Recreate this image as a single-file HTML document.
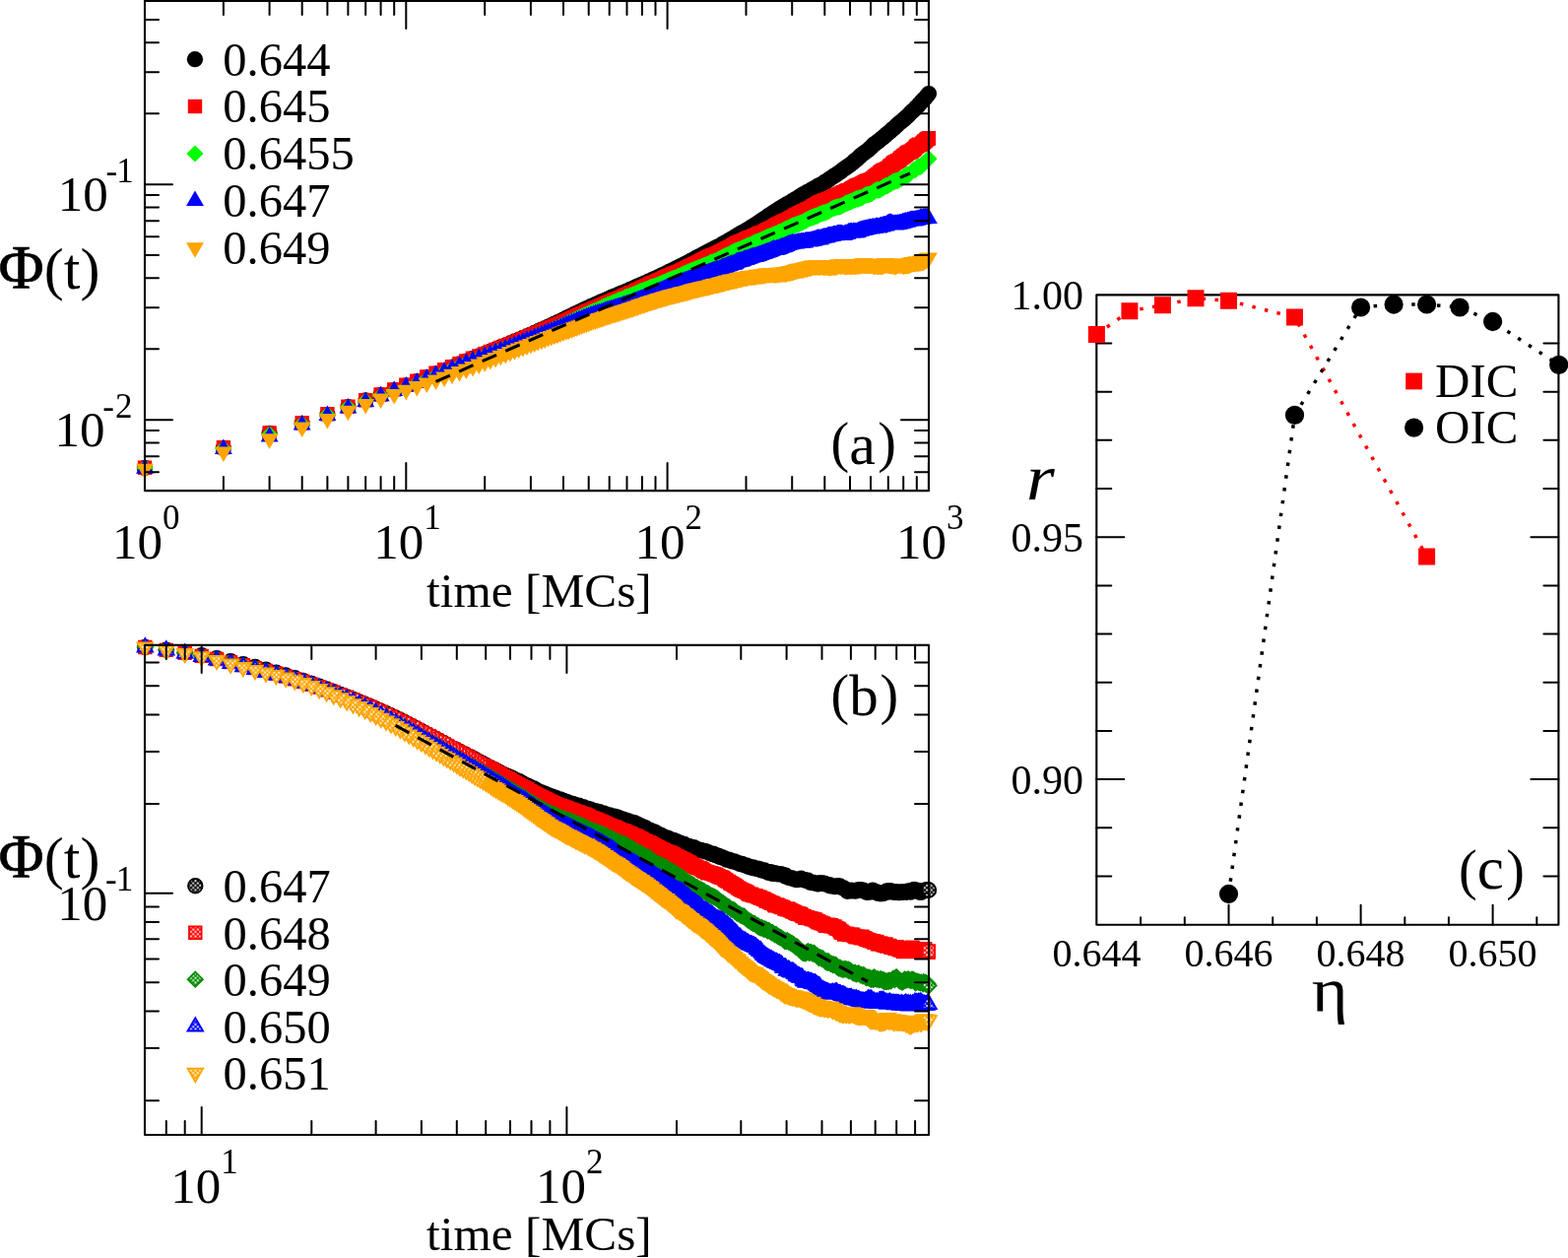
<!DOCTYPE html><html><head><meta charset="utf-8"><title>figure</title><style>html,body{margin:0;padding:0;background:#fff;overflow:hidden}svg{display:block}</style></head><body><svg width="1592" height="1277" viewBox="0 0 1592 1277" font-family="'Liberation Serif', 'Times New Roman', serif">
<rect width="100%" height="100%" fill="#fff"/>
<defs>
<pattern id="pt0" width="5" height="5" patternUnits="userSpaceOnUse"><rect width="2.5" height="2.5" fill="#000000"/><rect x="2.5" y="2.5" width="2.5" height="2.5" fill="#000000"/></pattern>
<pattern id="po0" width="4.7" height="4.7" patternUnits="userSpaceOnUse"><rect width="4.7" height="4.7" fill="#000000"/><rect x="0.2" y="0.2" width="1.9" height="1.9" fill="#fff"/><rect x="2.55" y="2.55" width="1.9" height="1.9" fill="#fff"/></pattern>
<pattern id="pt1" width="5" height="5" patternUnits="userSpaceOnUse"><rect width="2.5" height="2.5" fill="#ff0000"/><rect x="2.5" y="2.5" width="2.5" height="2.5" fill="#ff0000"/></pattern>
<pattern id="po1" width="4.7" height="4.7" patternUnits="userSpaceOnUse"><rect width="4.7" height="4.7" fill="#ff0000"/><rect x="0.2" y="0.2" width="1.9" height="1.9" fill="#fff"/><rect x="2.55" y="2.55" width="1.9" height="1.9" fill="#fff"/></pattern>
<pattern id="pt2" width="5" height="5" patternUnits="userSpaceOnUse"><rect width="2.5" height="2.5" fill="#008b00"/><rect x="2.5" y="2.5" width="2.5" height="2.5" fill="#008b00"/></pattern>
<pattern id="po2" width="4.7" height="4.7" patternUnits="userSpaceOnUse"><rect width="4.7" height="4.7" fill="#008b00"/><rect x="0.2" y="0.2" width="1.9" height="1.9" fill="#fff"/><rect x="2.55" y="2.55" width="1.9" height="1.9" fill="#fff"/></pattern>
<pattern id="pt3" width="5" height="5" patternUnits="userSpaceOnUse"><rect width="2.5" height="2.5" fill="#0000ff"/><rect x="2.5" y="2.5" width="2.5" height="2.5" fill="#0000ff"/></pattern>
<pattern id="po3" width="4.7" height="4.7" patternUnits="userSpaceOnUse"><rect width="4.7" height="4.7" fill="#0000ff"/><rect x="0.2" y="0.2" width="1.9" height="1.9" fill="#fff"/><rect x="2.55" y="2.55" width="1.9" height="1.9" fill="#fff"/></pattern>
<pattern id="pt4" width="5" height="5" patternUnits="userSpaceOnUse"><rect width="2.5" height="2.5" fill="#ffa500"/><rect x="2.5" y="2.5" width="2.5" height="2.5" fill="#ffa500"/></pattern>
<pattern id="po4" width="4.7" height="4.7" patternUnits="userSpaceOnUse"><rect width="4.7" height="4.7" fill="#ffa500"/><rect x="0.2" y="0.2" width="1.9" height="1.9" fill="#fff"/><rect x="2.55" y="2.55" width="1.9" height="1.9" fill="#fff"/></pattern>
<clipPath id="clipEnd"><rect x="937.5" y="640" width="30" height="520"/></clipPath>
</defs>
<path d="M138.8 475.0a8.15 8.15 0 1 0 16.30 0a8.15 8.15 0 1 0 -16.30 0zM218.7 455.0a8.15 8.15 0 1 0 16.30 0a8.15 8.15 0 1 0 -16.30 0zM265.4 440.0a8.15 8.15 0 1 0 16.30 0a8.15 8.15 0 1 0 -16.30 0zM298.6 430.0a8.15 8.15 0 1 0 16.30 0a8.15 8.15 0 1 0 -16.30 0zM324.3 420.9a8.15 8.15 0 1 0 16.30 0a8.15 8.15 0 1 0 -16.30 0zM345.3 413.1a8.15 8.15 0 1 0 16.30 0a8.15 8.15 0 1 0 -16.30 0zM363.1 406.5a8.15 8.15 0 1 0 16.30 0a8.15 8.15 0 1 0 -16.30 0zM378.4 400.9a8.15 8.15 0 1 0 16.30 0a8.15 8.15 0 1 0 -16.30 0zM392.0 396.0a8.15 8.15 0 1 0 16.30 0a8.15 8.15 0 1 0 -16.30 0zM404.2 391.4a8.15 8.15 0 1 0 16.30 0a8.15 8.15 0 1 0 -16.30 0zM415.1 387.2a8.15 8.15 0 1 0 16.30 0a8.15 8.15 0 1 0 -16.30 0zM425.2 383.2a8.15 8.15 0 1 0 16.30 0a8.15 8.15 0 1 0 -16.30 0zM434.4 379.4a8.15 8.15 0 1 0 16.30 0a8.15 8.15 0 1 0 -16.30 0zM442.9 375.9a8.15 8.15 0 1 0 16.30 0a8.15 8.15 0 1 0 -16.30 0zM450.9 372.6a8.15 8.15 0 1 0 16.30 0a8.15 8.15 0 1 0 -16.30 0zM458.3 369.5a8.15 8.15 0 1 0 16.30 0a8.15 8.15 0 1 0 -16.30 0zM465.3 366.6a8.15 8.15 0 1 0 16.30 0a8.15 8.15 0 1 0 -16.30 0zM471.9 363.9a8.15 8.15 0 1 0 16.30 0a8.15 8.15 0 1 0 -16.30 0zM478.1 361.4a8.15 8.15 0 1 0 16.30 0a8.15 8.15 0 1 0 -16.30 0zM484.0 359.1a8.15 8.15 0 1 0 16.30 0a8.15 8.15 0 1 0 -16.30 0zM489.6 356.8a8.15 8.15 0 1 0 16.30 0a8.15 8.15 0 1 0 -16.30 0zM495.0 354.6a8.15 8.15 0 1 0 16.30 0a8.15 8.15 0 1 0 -16.30 0zM500.1 352.5a8.15 8.15 0 1 0 16.30 0a8.15 8.15 0 1 0 -16.30 0zM505.0 350.6a8.15 8.15 0 1 0 16.30 0a8.15 8.15 0 1 0 -16.30 0zM509.7 348.6a8.15 8.15 0 1 0 16.30 0a8.15 8.15 0 1 0 -16.30 0zM514.2 346.6a8.15 8.15 0 1 0 16.30 0a8.15 8.15 0 1 0 -16.30 0zM518.6 344.8a8.15 8.15 0 1 0 16.30 0a8.15 8.15 0 1 0 -16.30 0zM522.8 343.0a8.15 8.15 0 1 0 16.30 0a8.15 8.15 0 1 0 -16.30 0zM526.8 341.3a8.15 8.15 0 1 0 16.30 0a8.15 8.15 0 1 0 -16.30 0zM530.7 339.6a8.15 8.15 0 1 0 16.30 0a8.15 8.15 0 1 0 -16.30 0zM534.5 337.9a8.15 8.15 0 1 0 16.30 0a8.15 8.15 0 1 0 -16.30 0zM538.2 336.2a8.15 8.15 0 1 0 16.30 0a8.15 8.15 0 1 0 -16.30 0zM541.7 334.6a8.15 8.15 0 1 0 16.30 0a8.15 8.15 0 1 0 -16.30 0zM545.2 333.1a8.15 8.15 0 1 0 16.30 0a8.15 8.15 0 1 0 -16.30 0zM548.5 331.6a8.15 8.15 0 1 0 16.30 0a8.15 8.15 0 1 0 -16.30 0zM551.7 330.1a8.15 8.15 0 1 0 16.30 0a8.15 8.15 0 1 0 -16.30 0zM554.9 328.6a8.15 8.15 0 1 0 16.30 0a8.15 8.15 0 1 0 -16.30 0zM558.0 327.2a8.15 8.15 0 1 0 16.30 0a8.15 8.15 0 1 0 -16.30 0zM561.0 325.8a8.15 8.15 0 1 0 16.30 0a8.15 8.15 0 1 0 -16.30 0zM563.9 324.3a8.15 8.15 0 1 0 16.30 0a8.15 8.15 0 1 0 -16.30 0zM566.7 323.0a8.15 8.15 0 1 0 16.30 0a8.15 8.15 0 1 0 -16.30 0zM569.5 321.6a8.15 8.15 0 1 0 16.30 0a8.15 8.15 0 1 0 -16.30 0zM572.2 320.3a8.15 8.15 0 1 0 16.30 0a8.15 8.15 0 1 0 -16.30 0zM574.9 319.0a8.15 8.15 0 1 0 16.30 0a8.15 8.15 0 1 0 -16.30 0zM577.4 317.8a8.15 8.15 0 1 0 16.30 0a8.15 8.15 0 1 0 -16.30 0zM580.0 316.6a8.15 8.15 0 1 0 16.30 0a8.15 8.15 0 1 0 -16.30 0zM582.5 315.4a8.15 8.15 0 1 0 16.30 0a8.15 8.15 0 1 0 -16.30 0zM584.9 314.2a8.15 8.15 0 1 0 16.30 0a8.15 8.15 0 1 0 -16.30 0zM587.3 313.2a8.15 8.15 0 1 0 16.30 0a8.15 8.15 0 1 0 -16.30 0zM589.6 312.1a8.15 8.15 0 1 0 16.30 0a8.15 8.15 0 1 0 -16.30 0zM591.9 311.0a8.15 8.15 0 1 0 16.30 0a8.15 8.15 0 1 0 -16.30 0zM594.1 310.1a8.15 8.15 0 1 0 16.30 0a8.15 8.15 0 1 0 -16.30 0zM596.3 309.1a8.15 8.15 0 1 0 16.30 0a8.15 8.15 0 1 0 -16.30 0zM598.5 308.1a8.15 8.15 0 1 0 16.30 0a8.15 8.15 0 1 0 -16.30 0zM600.6 307.2a8.15 8.15 0 1 0 16.30 0a8.15 8.15 0 1 0 -16.30 0zM602.6 306.2a8.15 8.15 0 1 0 16.30 0a8.15 8.15 0 1 0 -16.30 0zM604.7 305.4a8.15 8.15 0 1 0 16.30 0a8.15 8.15 0 1 0 -16.30 0zM606.7 304.6a8.15 8.15 0 1 0 16.30 0a8.15 8.15 0 1 0 -16.30 0zM608.7 303.7a8.15 8.15 0 1 0 16.30 0a8.15 8.15 0 1 0 -16.30 0zM610.6 302.8a8.15 8.15 0 1 0 16.30 0a8.15 8.15 0 1 0 -16.30 0zM612.5 302.0a8.15 8.15 0 1 0 16.30 0a8.15 8.15 0 1 0 -16.30 0zM614.4 301.2a8.15 8.15 0 1 0 16.30 0a8.15 8.15 0 1 0 -16.30 0zM616.2 300.5a8.15 8.15 0 1 0 16.30 0a8.15 8.15 0 1 0 -16.30 0zM618.0 299.8a8.15 8.15 0 1 0 16.30 0a8.15 8.15 0 1 0 -16.30 0zM619.8 299.0a8.15 8.15 0 1 0 16.30 0a8.15 8.15 0 1 0 -16.30 0zM621.6 298.2a8.15 8.15 0 1 0 16.30 0a8.15 8.15 0 1 0 -16.30 0zM623.3 297.5a8.15 8.15 0 1 0 16.30 0a8.15 8.15 0 1 0 -16.30 0zM625.0 296.8a8.15 8.15 0 1 0 16.30 0a8.15 8.15 0 1 0 -16.30 0zM626.7 296.1a8.15 8.15 0 1 0 16.30 0a8.15 8.15 0 1 0 -16.30 0zM628.4 295.4a8.15 8.15 0 1 0 16.30 0a8.15 8.15 0 1 0 -16.30 0zM630.0 294.8a8.15 8.15 0 1 0 16.30 0a8.15 8.15 0 1 0 -16.30 0zM631.6 293.9a8.15 8.15 0 1 0 16.30 0a8.15 8.15 0 1 0 -16.30 0zM633.2 293.3a8.15 8.15 0 1 0 16.30 0a8.15 8.15 0 1 0 -16.30 0zM634.8 292.7a8.15 8.15 0 1 0 16.30 0a8.15 8.15 0 1 0 -16.30 0zM636.3 291.9a8.15 8.15 0 1 0 16.30 0a8.15 8.15 0 1 0 -16.30 0zM637.8 291.2a8.15 8.15 0 1 0 16.30 0a8.15 8.15 0 1 0 -16.30 0zM639.3 290.6a8.15 8.15 0 1 0 16.30 0a8.15 8.15 0 1 0 -16.30 0zM640.8 289.9a8.15 8.15 0 1 0 16.30 0a8.15 8.15 0 1 0 -16.30 0zM642.3 289.3a8.15 8.15 0 1 0 16.30 0a8.15 8.15 0 1 0 -16.30 0zM643.7 288.6a8.15 8.15 0 1 0 16.30 0a8.15 8.15 0 1 0 -16.30 0zM645.2 288.1a8.15 8.15 0 1 0 16.30 0a8.15 8.15 0 1 0 -16.30 0zM646.6 287.5a8.15 8.15 0 1 0 16.30 0a8.15 8.15 0 1 0 -16.30 0zM648.0 286.8a8.15 8.15 0 1 0 16.30 0a8.15 8.15 0 1 0 -16.30 0zM649.4 286.1a8.15 8.15 0 1 0 16.30 0a8.15 8.15 0 1 0 -16.30 0zM650.7 285.5a8.15 8.15 0 1 0 16.30 0a8.15 8.15 0 1 0 -16.30 0zM652.1 285.1a8.15 8.15 0 1 0 16.30 0a8.15 8.15 0 1 0 -16.30 0zM653.4 284.4a8.15 8.15 0 1 0 16.30 0a8.15 8.15 0 1 0 -16.30 0zM654.7 283.7a8.15 8.15 0 1 0 16.30 0a8.15 8.15 0 1 0 -16.30 0zM656.0 283.1a8.15 8.15 0 1 0 16.30 0a8.15 8.15 0 1 0 -16.30 0zM657.3 282.6a8.15 8.15 0 1 0 16.30 0a8.15 8.15 0 1 0 -16.30 0zM658.6 282.1a8.15 8.15 0 1 0 16.30 0a8.15 8.15 0 1 0 -16.30 0zM659.8 281.5a8.15 8.15 0 1 0 16.30 0a8.15 8.15 0 1 0 -16.30 0zM661.1 280.9a8.15 8.15 0 1 0 16.30 0a8.15 8.15 0 1 0 -16.30 0zM662.3 280.3a8.15 8.15 0 1 0 16.30 0a8.15 8.15 0 1 0 -16.30 0zM663.5 279.7a8.15 8.15 0 1 0 16.30 0a8.15 8.15 0 1 0 -16.30 0zM664.7 279.1a8.15 8.15 0 1 0 16.30 0a8.15 8.15 0 1 0 -16.30 0zM665.9 278.6a8.15 8.15 0 1 0 16.30 0a8.15 8.15 0 1 0 -16.30 0zM667.1 278.1a8.15 8.15 0 1 0 16.30 0a8.15 8.15 0 1 0 -16.30 0zM668.3 277.5a8.15 8.15 0 1 0 16.30 0a8.15 8.15 0 1 0 -16.30 0zM669.5 276.9a8.15 8.15 0 1 0 16.30 0a8.15 8.15 0 1 0 -16.30 0zM670.6 276.2a8.15 8.15 0 1 0 16.30 0a8.15 8.15 0 1 0 -16.30 0zM671.7 275.7a8.15 8.15 0 1 0 16.30 0a8.15 8.15 0 1 0 -16.30 0zM672.9 275.2a8.15 8.15 0 1 0 16.30 0a8.15 8.15 0 1 0 -16.30 0zM674.0 274.6a8.15 8.15 0 1 0 16.30 0a8.15 8.15 0 1 0 -16.30 0zM675.1 274.2a8.15 8.15 0 1 0 16.30 0a8.15 8.15 0 1 0 -16.30 0zM676.2 273.7a8.15 8.15 0 1 0 16.30 0a8.15 8.15 0 1 0 -16.30 0zM677.2 273.0a8.15 8.15 0 1 0 16.30 0a8.15 8.15 0 1 0 -16.30 0zM678.3 272.6a8.15 8.15 0 1 0 16.30 0a8.15 8.15 0 1 0 -16.30 0zM679.4 272.0a8.15 8.15 0 1 0 16.30 0a8.15 8.15 0 1 0 -16.30 0zM680.4 271.5a8.15 8.15 0 1 0 16.30 0a8.15 8.15 0 1 0 -16.30 0zM681.5 270.9a8.15 8.15 0 1 0 16.30 0a8.15 8.15 0 1 0 -16.30 0zM682.5 270.5a8.15 8.15 0 1 0 16.30 0a8.15 8.15 0 1 0 -16.30 0zM683.5 269.9a8.15 8.15 0 1 0 16.30 0a8.15 8.15 0 1 0 -16.30 0zM684.5 269.5a8.15 8.15 0 1 0 16.30 0a8.15 8.15 0 1 0 -16.30 0zM685.6 268.9a8.15 8.15 0 1 0 16.30 0a8.15 8.15 0 1 0 -16.30 0zM686.6 268.3a8.15 8.15 0 1 0 16.30 0a8.15 8.15 0 1 0 -16.30 0zM687.5 268.0a8.15 8.15 0 1 0 16.30 0a8.15 8.15 0 1 0 -16.30 0zM688.5 267.4a8.15 8.15 0 1 0 16.30 0a8.15 8.15 0 1 0 -16.30 0zM689.5 267.0a8.15 8.15 0 1 0 16.30 0a8.15 8.15 0 1 0 -16.30 0zM690.5 266.4a8.15 8.15 0 1 0 16.30 0a8.15 8.15 0 1 0 -16.30 0zM691.4 266.0a8.15 8.15 0 1 0 16.30 0a8.15 8.15 0 1 0 -16.30 0zM692.4 265.3a8.15 8.15 0 1 0 16.30 0a8.15 8.15 0 1 0 -16.30 0zM693.3 264.7a8.15 8.15 0 1 0 16.30 0a8.15 8.15 0 1 0 -16.30 0zM694.2 264.4a8.15 8.15 0 1 0 16.30 0a8.15 8.15 0 1 0 -16.30 0zM695.2 263.8a8.15 8.15 0 1 0 16.30 0a8.15 8.15 0 1 0 -16.30 0zM696.1 263.3a8.15 8.15 0 1 0 16.30 0a8.15 8.15 0 1 0 -16.30 0zM697.0 262.8a8.15 8.15 0 1 0 16.30 0a8.15 8.15 0 1 0 -16.30 0zM697.9 262.2a8.15 8.15 0 1 0 16.30 0a8.15 8.15 0 1 0 -16.30 0zM698.8 261.7a8.15 8.15 0 1 0 16.30 0a8.15 8.15 0 1 0 -16.30 0zM699.7 261.3a8.15 8.15 0 1 0 16.30 0a8.15 8.15 0 1 0 -16.30 0zM700.6 260.9a8.15 8.15 0 1 0 16.30 0a8.15 8.15 0 1 0 -16.30 0zM701.4 260.5a8.15 8.15 0 1 0 16.30 0a8.15 8.15 0 1 0 -16.30 0zM702.3 260.1a8.15 8.15 0 1 0 16.30 0a8.15 8.15 0 1 0 -16.30 0zM703.2 259.7a8.15 8.15 0 1 0 16.30 0a8.15 8.15 0 1 0 -16.30 0zM704.0 259.2a8.15 8.15 0 1 0 16.30 0a8.15 8.15 0 1 0 -16.30 0zM704.9 258.6a8.15 8.15 0 1 0 16.30 0a8.15 8.15 0 1 0 -16.30 0zM705.7 258.2a8.15 8.15 0 1 0 16.30 0a8.15 8.15 0 1 0 -16.30 0zM706.6 257.9a8.15 8.15 0 1 0 16.30 0a8.15 8.15 0 1 0 -16.30 0zM707.4 257.4a8.15 8.15 0 1 0 16.30 0a8.15 8.15 0 1 0 -16.30 0zM708.2 256.9a8.15 8.15 0 1 0 16.30 0a8.15 8.15 0 1 0 -16.30 0zM709.0 256.4a8.15 8.15 0 1 0 16.30 0a8.15 8.15 0 1 0 -16.30 0zM709.9 256.1a8.15 8.15 0 1 0 16.30 0a8.15 8.15 0 1 0 -16.30 0zM710.7 255.7a8.15 8.15 0 1 0 16.30 0a8.15 8.15 0 1 0 -16.30 0zM711.5 255.2a8.15 8.15 0 1 0 16.30 0a8.15 8.15 0 1 0 -16.30 0zM712.3 254.8a8.15 8.15 0 1 0 16.30 0a8.15 8.15 0 1 0 -16.30 0zM713.1 254.4a8.15 8.15 0 1 0 16.30 0a8.15 8.15 0 1 0 -16.30 0zM713.8 254.0a8.15 8.15 0 1 0 16.30 0a8.15 8.15 0 1 0 -16.30 0zM714.6 253.6a8.15 8.15 0 1 0 16.30 0a8.15 8.15 0 1 0 -16.30 0zM715.4 253.1a8.15 8.15 0 1 0 16.30 0a8.15 8.15 0 1 0 -16.30 0zM716.2 252.9a8.15 8.15 0 1 0 16.30 0a8.15 8.15 0 1 0 -16.30 0zM716.9 252.3a8.15 8.15 0 1 0 16.30 0a8.15 8.15 0 1 0 -16.30 0zM717.7 252.0a8.15 8.15 0 1 0 16.30 0a8.15 8.15 0 1 0 -16.30 0zM718.4 251.6a8.15 8.15 0 1 0 16.30 0a8.15 8.15 0 1 0 -16.30 0zM719.2 251.2a8.15 8.15 0 1 0 16.30 0a8.15 8.15 0 1 0 -16.30 0zM719.9 250.9a8.15 8.15 0 1 0 16.30 0a8.15 8.15 0 1 0 -16.30 0zM720.7 250.5a8.15 8.15 0 1 0 16.30 0a8.15 8.15 0 1 0 -16.30 0zM721.4 250.3a8.15 8.15 0 1 0 16.30 0a8.15 8.15 0 1 0 -16.30 0zM722.2 249.8a8.15 8.15 0 1 0 16.30 0a8.15 8.15 0 1 0 -16.30 0zM722.9 249.5a8.15 8.15 0 1 0 16.30 0a8.15 8.15 0 1 0 -16.30 0zM723.6 249.0a8.15 8.15 0 1 0 16.30 0a8.15 8.15 0 1 0 -16.30 0zM724.3 248.6a8.15 8.15 0 1 0 16.30 0a8.15 8.15 0 1 0 -16.30 0zM725.0 248.0a8.15 8.15 0 1 0 16.30 0a8.15 8.15 0 1 0 -16.30 0zM725.7 247.8a8.15 8.15 0 1 0 16.30 0a8.15 8.15 0 1 0 -16.30 0zM726.4 247.3a8.15 8.15 0 1 0 16.30 0a8.15 8.15 0 1 0 -16.30 0zM727.1 246.8a8.15 8.15 0 1 0 16.30 0a8.15 8.15 0 1 0 -16.30 0zM727.8 246.5a8.15 8.15 0 1 0 16.30 0a8.15 8.15 0 1 0 -16.30 0zM728.5 246.1a8.15 8.15 0 1 0 16.30 0a8.15 8.15 0 1 0 -16.30 0zM729.2 245.8a8.15 8.15 0 1 0 16.30 0a8.15 8.15 0 1 0 -16.30 0zM729.9 245.3a8.15 8.15 0 1 0 16.30 0a8.15 8.15 0 1 0 -16.30 0zM730.6 244.9a8.15 8.15 0 1 0 16.30 0a8.15 8.15 0 1 0 -16.30 0zM731.3 244.4a8.15 8.15 0 1 0 16.30 0a8.15 8.15 0 1 0 -16.30 0zM731.9 244.1a8.15 8.15 0 1 0 16.30 0a8.15 8.15 0 1 0 -16.30 0zM732.6 243.8a8.15 8.15 0 1 0 16.30 0a8.15 8.15 0 1 0 -16.30 0zM733.3 243.3a8.15 8.15 0 1 0 16.30 0a8.15 8.15 0 1 0 -16.30 0zM733.9 242.9a8.15 8.15 0 1 0 16.30 0a8.15 8.15 0 1 0 -16.30 0zM734.6 242.6a8.15 8.15 0 1 0 16.30 0a8.15 8.15 0 1 0 -16.30 0zM735.2 242.3a8.15 8.15 0 1 0 16.30 0a8.15 8.15 0 1 0 -16.30 0zM735.9 241.9a8.15 8.15 0 1 0 16.30 0a8.15 8.15 0 1 0 -16.30 0zM736.5 241.5a8.15 8.15 0 1 0 16.30 0a8.15 8.15 0 1 0 -16.30 0zM737.2 241.0a8.15 8.15 0 1 0 16.30 0a8.15 8.15 0 1 0 -16.30 0zM737.8 240.9a8.15 8.15 0 1 0 16.30 0a8.15 8.15 0 1 0 -16.30 0zM738.4 240.3a8.15 8.15 0 1 0 16.30 0a8.15 8.15 0 1 0 -16.30 0zM739.1 239.9a8.15 8.15 0 1 0 16.30 0a8.15 8.15 0 1 0 -16.30 0zM739.7 239.4a8.15 8.15 0 1 0 16.30 0a8.15 8.15 0 1 0 -16.30 0zM740.3 239.1a8.15 8.15 0 1 0 16.30 0a8.15 8.15 0 1 0 -16.30 0zM741.0 238.6a8.15 8.15 0 1 0 16.30 0a8.15 8.15 0 1 0 -16.30 0zM741.6 238.4a8.15 8.15 0 1 0 16.30 0a8.15 8.15 0 1 0 -16.30 0zM742.2 238.0a8.15 8.15 0 1 0 16.30 0a8.15 8.15 0 1 0 -16.30 0zM742.8 237.7a8.15 8.15 0 1 0 16.30 0a8.15 8.15 0 1 0 -16.30 0zM743.4 237.2a8.15 8.15 0 1 0 16.30 0a8.15 8.15 0 1 0 -16.30 0zM744.0 236.9a8.15 8.15 0 1 0 16.30 0a8.15 8.15 0 1 0 -16.30 0zM744.6 236.6a8.15 8.15 0 1 0 16.30 0a8.15 8.15 0 1 0 -16.30 0zM745.8 235.9a8.15 8.15 0 1 0 16.30 0a8.15 8.15 0 1 0 -16.30 0zM747.0 235.3a8.15 8.15 0 1 0 16.30 0a8.15 8.15 0 1 0 -16.30 0zM748.2 234.7a8.15 8.15 0 1 0 16.30 0a8.15 8.15 0 1 0 -16.30 0zM749.3 234.0a8.15 8.15 0 1 0 16.30 0a8.15 8.15 0 1 0 -16.30 0zM750.5 233.5a8.15 8.15 0 1 0 16.30 0a8.15 8.15 0 1 0 -16.30 0zM751.6 232.7a8.15 8.15 0 1 0 16.30 0a8.15 8.15 0 1 0 -16.30 0zM752.7 231.8a8.15 8.15 0 1 0 16.30 0a8.15 8.15 0 1 0 -16.30 0zM753.8 231.2a8.15 8.15 0 1 0 16.30 0a8.15 8.15 0 1 0 -16.30 0zM754.9 230.4a8.15 8.15 0 1 0 16.30 0a8.15 8.15 0 1 0 -16.30 0zM756.0 229.8a8.15 8.15 0 1 0 16.30 0a8.15 8.15 0 1 0 -16.30 0zM757.1 229.3a8.15 8.15 0 1 0 16.30 0a8.15 8.15 0 1 0 -16.30 0zM758.2 228.6a8.15 8.15 0 1 0 16.30 0a8.15 8.15 0 1 0 -16.30 0zM759.2 227.8a8.15 8.15 0 1 0 16.30 0a8.15 8.15 0 1 0 -16.30 0zM760.3 227.1a8.15 8.15 0 1 0 16.30 0a8.15 8.15 0 1 0 -16.30 0zM761.3 226.5a8.15 8.15 0 1 0 16.30 0a8.15 8.15 0 1 0 -16.30 0zM762.4 225.7a8.15 8.15 0 1 0 16.30 0a8.15 8.15 0 1 0 -16.30 0zM763.4 225.0a8.15 8.15 0 1 0 16.30 0a8.15 8.15 0 1 0 -16.30 0zM764.4 224.3a8.15 8.15 0 1 0 16.30 0a8.15 8.15 0 1 0 -16.30 0zM765.4 223.6a8.15 8.15 0 1 0 16.30 0a8.15 8.15 0 1 0 -16.30 0zM766.4 222.9a8.15 8.15 0 1 0 16.30 0a8.15 8.15 0 1 0 -16.30 0zM767.4 222.3a8.15 8.15 0 1 0 16.30 0a8.15 8.15 0 1 0 -16.30 0zM768.4 221.7a8.15 8.15 0 1 0 16.30 0a8.15 8.15 0 1 0 -16.30 0zM769.4 221.1a8.15 8.15 0 1 0 16.30 0a8.15 8.15 0 1 0 -16.30 0zM770.3 220.3a8.15 8.15 0 1 0 16.30 0a8.15 8.15 0 1 0 -16.30 0zM771.3 219.6a8.15 8.15 0 1 0 16.30 0a8.15 8.15 0 1 0 -16.30 0zM772.2 218.8a8.15 8.15 0 1 0 16.30 0a8.15 8.15 0 1 0 -16.30 0zM773.2 218.3a8.15 8.15 0 1 0 16.30 0a8.15 8.15 0 1 0 -16.30 0zM774.1 217.8a8.15 8.15 0 1 0 16.30 0a8.15 8.15 0 1 0 -16.30 0zM775.0 217.2a8.15 8.15 0 1 0 16.30 0a8.15 8.15 0 1 0 -16.30 0zM775.9 216.7a8.15 8.15 0 1 0 16.30 0a8.15 8.15 0 1 0 -16.30 0zM776.9 215.8a8.15 8.15 0 1 0 16.30 0a8.15 8.15 0 1 0 -16.30 0zM777.8 215.4a8.15 8.15 0 1 0 16.30 0a8.15 8.15 0 1 0 -16.30 0zM778.7 214.7a8.15 8.15 0 1 0 16.30 0a8.15 8.15 0 1 0 -16.30 0zM779.5 214.3a8.15 8.15 0 1 0 16.30 0a8.15 8.15 0 1 0 -16.30 0zM780.4 213.7a8.15 8.15 0 1 0 16.30 0a8.15 8.15 0 1 0 -16.30 0zM781.3 213.1a8.15 8.15 0 1 0 16.30 0a8.15 8.15 0 1 0 -16.30 0zM782.2 212.5a8.15 8.15 0 1 0 16.30 0a8.15 8.15 0 1 0 -16.30 0zM783.0 212.0a8.15 8.15 0 1 0 16.30 0a8.15 8.15 0 1 0 -16.30 0zM783.9 211.4a8.15 8.15 0 1 0 16.30 0a8.15 8.15 0 1 0 -16.30 0zM784.7 211.0a8.15 8.15 0 1 0 16.30 0a8.15 8.15 0 1 0 -16.30 0zM785.6 210.5a8.15 8.15 0 1 0 16.30 0a8.15 8.15 0 1 0 -16.30 0zM786.4 209.9a8.15 8.15 0 1 0 16.30 0a8.15 8.15 0 1 0 -16.30 0zM787.3 209.3a8.15 8.15 0 1 0 16.30 0a8.15 8.15 0 1 0 -16.30 0zM788.1 208.9a8.15 8.15 0 1 0 16.30 0a8.15 8.15 0 1 0 -16.30 0zM788.9 208.4a8.15 8.15 0 1 0 16.30 0a8.15 8.15 0 1 0 -16.30 0zM789.7 207.9a8.15 8.15 0 1 0 16.30 0a8.15 8.15 0 1 0 -16.30 0zM790.5 207.4a8.15 8.15 0 1 0 16.30 0a8.15 8.15 0 1 0 -16.30 0zM791.3 207.1a8.15 8.15 0 1 0 16.30 0a8.15 8.15 0 1 0 -16.30 0zM792.1 206.6a8.15 8.15 0 1 0 16.30 0a8.15 8.15 0 1 0 -16.30 0zM792.9 206.2a8.15 8.15 0 1 0 16.30 0a8.15 8.15 0 1 0 -16.30 0zM793.7 205.8a8.15 8.15 0 1 0 16.30 0a8.15 8.15 0 1 0 -16.30 0zM794.5 205.4a8.15 8.15 0 1 0 16.30 0a8.15 8.15 0 1 0 -16.30 0zM795.3 204.7a8.15 8.15 0 1 0 16.30 0a8.15 8.15 0 1 0 -16.30 0zM796.0 204.2a8.15 8.15 0 1 0 16.30 0a8.15 8.15 0 1 0 -16.30 0zM796.8 203.8a8.15 8.15 0 1 0 16.30 0a8.15 8.15 0 1 0 -16.30 0zM797.6 203.5a8.15 8.15 0 1 0 16.30 0a8.15 8.15 0 1 0 -16.30 0zM798.3 202.8a8.15 8.15 0 1 0 16.30 0a8.15 8.15 0 1 0 -16.30 0zM799.1 202.4a8.15 8.15 0 1 0 16.30 0a8.15 8.15 0 1 0 -16.30 0zM799.8 202.1a8.15 8.15 0 1 0 16.30 0a8.15 8.15 0 1 0 -16.30 0zM800.5 201.8a8.15 8.15 0 1 0 16.30 0a8.15 8.15 0 1 0 -16.30 0zM801.3 201.2a8.15 8.15 0 1 0 16.30 0a8.15 8.15 0 1 0 -16.30 0zM802.0 200.7a8.15 8.15 0 1 0 16.30 0a8.15 8.15 0 1 0 -16.30 0zM802.7 200.2a8.15 8.15 0 1 0 16.30 0a8.15 8.15 0 1 0 -16.30 0zM803.5 199.9a8.15 8.15 0 1 0 16.30 0a8.15 8.15 0 1 0 -16.30 0zM804.2 199.2a8.15 8.15 0 1 0 16.30 0a8.15 8.15 0 1 0 -16.30 0zM804.9 198.8a8.15 8.15 0 1 0 16.30 0a8.15 8.15 0 1 0 -16.30 0zM805.6 198.3a8.15 8.15 0 1 0 16.30 0a8.15 8.15 0 1 0 -16.30 0zM806.3 197.8a8.15 8.15 0 1 0 16.30 0a8.15 8.15 0 1 0 -16.30 0zM807.0 197.5a8.15 8.15 0 1 0 16.30 0a8.15 8.15 0 1 0 -16.30 0zM807.7 197.1a8.15 8.15 0 1 0 16.30 0a8.15 8.15 0 1 0 -16.30 0zM808.4 196.8a8.15 8.15 0 1 0 16.30 0a8.15 8.15 0 1 0 -16.30 0zM809.1 196.4a8.15 8.15 0 1 0 16.30 0a8.15 8.15 0 1 0 -16.30 0zM809.8 196.0a8.15 8.15 0 1 0 16.30 0a8.15 8.15 0 1 0 -16.30 0zM810.5 195.4a8.15 8.15 0 1 0 16.30 0a8.15 8.15 0 1 0 -16.30 0zM811.1 195.1a8.15 8.15 0 1 0 16.30 0a8.15 8.15 0 1 0 -16.30 0zM811.8 194.8a8.15 8.15 0 1 0 16.30 0a8.15 8.15 0 1 0 -16.30 0zM812.5 194.6a8.15 8.15 0 1 0 16.30 0a8.15 8.15 0 1 0 -16.30 0zM813.1 194.3a8.15 8.15 0 1 0 16.30 0a8.15 8.15 0 1 0 -16.30 0zM813.8 193.8a8.15 8.15 0 1 0 16.30 0a8.15 8.15 0 1 0 -16.30 0zM814.4 193.5a8.15 8.15 0 1 0 16.30 0a8.15 8.15 0 1 0 -16.30 0zM815.1 193.0a8.15 8.15 0 1 0 16.30 0a8.15 8.15 0 1 0 -16.30 0zM815.7 192.8a8.15 8.15 0 1 0 16.30 0a8.15 8.15 0 1 0 -16.30 0zM816.4 192.4a8.15 8.15 0 1 0 16.30 0a8.15 8.15 0 1 0 -16.30 0zM817.0 191.8a8.15 8.15 0 1 0 16.30 0a8.15 8.15 0 1 0 -16.30 0zM817.7 191.7a8.15 8.15 0 1 0 16.30 0a8.15 8.15 0 1 0 -16.30 0zM818.3 191.3a8.15 8.15 0 1 0 16.30 0a8.15 8.15 0 1 0 -16.30 0zM818.9 190.9a8.15 8.15 0 1 0 16.30 0a8.15 8.15 0 1 0 -16.30 0zM819.6 190.6a8.15 8.15 0 1 0 16.30 0a8.15 8.15 0 1 0 -16.30 0zM820.2 190.1a8.15 8.15 0 1 0 16.30 0a8.15 8.15 0 1 0 -16.30 0zM820.8 189.9a8.15 8.15 0 1 0 16.30 0a8.15 8.15 0 1 0 -16.30 0zM821.4 189.5a8.15 8.15 0 1 0 16.30 0a8.15 8.15 0 1 0 -16.30 0zM822.0 189.0a8.15 8.15 0 1 0 16.30 0a8.15 8.15 0 1 0 -16.30 0zM822.7 188.9a8.15 8.15 0 1 0 16.30 0a8.15 8.15 0 1 0 -16.30 0zM823.3 188.3a8.15 8.15 0 1 0 16.30 0a8.15 8.15 0 1 0 -16.30 0zM823.9 188.2a8.15 8.15 0 1 0 16.30 0a8.15 8.15 0 1 0 -16.30 0zM824.5 187.8a8.15 8.15 0 1 0 16.30 0a8.15 8.15 0 1 0 -16.30 0zM825.4 187.4a8.15 8.15 0 1 0 16.30 0a8.15 8.15 0 1 0 -16.30 0zM826.3 187.1a8.15 8.15 0 1 0 16.30 0a8.15 8.15 0 1 0 -16.30 0zM827.1 186.4a8.15 8.15 0 1 0 16.30 0a8.15 8.15 0 1 0 -16.30 0zM828.0 185.8a8.15 8.15 0 1 0 16.30 0a8.15 8.15 0 1 0 -16.30 0zM828.9 185.0a8.15 8.15 0 1 0 16.30 0a8.15 8.15 0 1 0 -16.30 0zM829.8 184.9a8.15 8.15 0 1 0 16.30 0a8.15 8.15 0 1 0 -16.30 0zM830.6 184.5a8.15 8.15 0 1 0 16.30 0a8.15 8.15 0 1 0 -16.30 0zM831.5 183.7a8.15 8.15 0 1 0 16.30 0a8.15 8.15 0 1 0 -16.30 0zM832.3 182.9a8.15 8.15 0 1 0 16.30 0a8.15 8.15 0 1 0 -16.30 0zM833.1 182.3a8.15 8.15 0 1 0 16.30 0a8.15 8.15 0 1 0 -16.30 0zM834.0 181.9a8.15 8.15 0 1 0 16.30 0a8.15 8.15 0 1 0 -16.30 0zM834.8 181.1a8.15 8.15 0 1 0 16.30 0a8.15 8.15 0 1 0 -16.30 0zM835.6 180.6a8.15 8.15 0 1 0 16.30 0a8.15 8.15 0 1 0 -16.30 0zM836.4 180.1a8.15 8.15 0 1 0 16.30 0a8.15 8.15 0 1 0 -16.30 0zM837.2 179.7a8.15 8.15 0 1 0 16.30 0a8.15 8.15 0 1 0 -16.30 0zM838.0 179.0a8.15 8.15 0 1 0 16.30 0a8.15 8.15 0 1 0 -16.30 0zM838.8 178.5a8.15 8.15 0 1 0 16.30 0a8.15 8.15 0 1 0 -16.30 0zM839.6 178.1a8.15 8.15 0 1 0 16.30 0a8.15 8.15 0 1 0 -16.30 0zM840.4 177.6a8.15 8.15 0 1 0 16.30 0a8.15 8.15 0 1 0 -16.30 0zM841.2 177.0a8.15 8.15 0 1 0 16.30 0a8.15 8.15 0 1 0 -16.30 0zM842.0 176.5a8.15 8.15 0 1 0 16.30 0a8.15 8.15 0 1 0 -16.30 0zM842.7 176.1a8.15 8.15 0 1 0 16.30 0a8.15 8.15 0 1 0 -16.30 0zM843.5 175.4a8.15 8.15 0 1 0 16.30 0a8.15 8.15 0 1 0 -16.30 0zM844.3 174.9a8.15 8.15 0 1 0 16.30 0a8.15 8.15 0 1 0 -16.30 0zM845.0 174.3a8.15 8.15 0 1 0 16.30 0a8.15 8.15 0 1 0 -16.30 0zM845.8 174.0a8.15 8.15 0 1 0 16.30 0a8.15 8.15 0 1 0 -16.30 0zM846.5 173.3a8.15 8.15 0 1 0 16.30 0a8.15 8.15 0 1 0 -16.30 0zM847.3 172.6a8.15 8.15 0 1 0 16.30 0a8.15 8.15 0 1 0 -16.30 0zM848.0 172.0a8.15 8.15 0 1 0 16.30 0a8.15 8.15 0 1 0 -16.30 0zM848.7 171.6a8.15 8.15 0 1 0 16.30 0a8.15 8.15 0 1 0 -16.30 0zM849.5 171.0a8.15 8.15 0 1 0 16.30 0a8.15 8.15 0 1 0 -16.30 0zM850.2 170.7a8.15 8.15 0 1 0 16.30 0a8.15 8.15 0 1 0 -16.30 0zM850.9 170.1a8.15 8.15 0 1 0 16.30 0a8.15 8.15 0 1 0 -16.30 0zM851.6 169.5a8.15 8.15 0 1 0 16.30 0a8.15 8.15 0 1 0 -16.30 0zM852.3 169.2a8.15 8.15 0 1 0 16.30 0a8.15 8.15 0 1 0 -16.30 0zM853.0 168.6a8.15 8.15 0 1 0 16.30 0a8.15 8.15 0 1 0 -16.30 0zM853.7 168.1a8.15 8.15 0 1 0 16.30 0a8.15 8.15 0 1 0 -16.30 0zM854.4 167.7a8.15 8.15 0 1 0 16.30 0a8.15 8.15 0 1 0 -16.30 0zM855.1 167.3a8.15 8.15 0 1 0 16.30 0a8.15 8.15 0 1 0 -16.30 0zM855.8 166.6a8.15 8.15 0 1 0 16.30 0a8.15 8.15 0 1 0 -16.30 0zM856.5 166.1a8.15 8.15 0 1 0 16.30 0a8.15 8.15 0 1 0 -16.30 0zM857.2 165.5a8.15 8.15 0 1 0 16.30 0a8.15 8.15 0 1 0 -16.30 0zM857.8 165.0a8.15 8.15 0 1 0 16.30 0a8.15 8.15 0 1 0 -16.30 0zM858.5 164.5a8.15 8.15 0 1 0 16.30 0a8.15 8.15 0 1 0 -16.30 0zM859.2 163.5a8.15 8.15 0 1 0 16.30 0a8.15 8.15 0 1 0 -16.30 0zM859.8 163.3a8.15 8.15 0 1 0 16.30 0a8.15 8.15 0 1 0 -16.30 0zM860.5 162.7a8.15 8.15 0 1 0 16.30 0a8.15 8.15 0 1 0 -16.30 0zM861.2 162.1a8.15 8.15 0 1 0 16.30 0a8.15 8.15 0 1 0 -16.30 0zM861.8 161.7a8.15 8.15 0 1 0 16.30 0a8.15 8.15 0 1 0 -16.30 0zM862.5 161.0a8.15 8.15 0 1 0 16.30 0a8.15 8.15 0 1 0 -16.30 0zM863.1 160.5a8.15 8.15 0 1 0 16.30 0a8.15 8.15 0 1 0 -16.30 0zM863.8 159.7a8.15 8.15 0 1 0 16.30 0a8.15 8.15 0 1 0 -16.30 0zM864.4 159.2a8.15 8.15 0 1 0 16.30 0a8.15 8.15 0 1 0 -16.30 0zM865.0 158.6a8.15 8.15 0 1 0 16.30 0a8.15 8.15 0 1 0 -16.30 0zM865.7 158.0a8.15 8.15 0 1 0 16.30 0a8.15 8.15 0 1 0 -16.30 0zM866.3 157.4a8.15 8.15 0 1 0 16.30 0a8.15 8.15 0 1 0 -16.30 0zM866.9 157.0a8.15 8.15 0 1 0 16.30 0a8.15 8.15 0 1 0 -16.30 0zM867.5 156.6a8.15 8.15 0 1 0 16.30 0a8.15 8.15 0 1 0 -16.30 0zM868.1 156.0a8.15 8.15 0 1 0 16.30 0a8.15 8.15 0 1 0 -16.30 0zM868.8 155.6a8.15 8.15 0 1 0 16.30 0a8.15 8.15 0 1 0 -16.30 0zM869.4 155.2a8.15 8.15 0 1 0 16.30 0a8.15 8.15 0 1 0 -16.30 0zM870.0 154.6a8.15 8.15 0 1 0 16.30 0a8.15 8.15 0 1 0 -16.30 0zM870.6 154.2a8.15 8.15 0 1 0 16.30 0a8.15 8.15 0 1 0 -16.30 0zM871.2 153.8a8.15 8.15 0 1 0 16.30 0a8.15 8.15 0 1 0 -16.30 0zM872.0 153.3a8.15 8.15 0 1 0 16.30 0a8.15 8.15 0 1 0 -16.30 0zM872.8 152.8a8.15 8.15 0 1 0 16.30 0a8.15 8.15 0 1 0 -16.30 0zM873.6 151.9a8.15 8.15 0 1 0 16.30 0a8.15 8.15 0 1 0 -16.30 0zM874.3 151.2a8.15 8.15 0 1 0 16.30 0a8.15 8.15 0 1 0 -16.30 0zM875.1 150.5a8.15 8.15 0 1 0 16.30 0a8.15 8.15 0 1 0 -16.30 0zM875.9 149.8a8.15 8.15 0 1 0 16.30 0a8.15 8.15 0 1 0 -16.30 0zM876.7 149.2a8.15 8.15 0 1 0 16.30 0a8.15 8.15 0 1 0 -16.30 0zM877.4 148.2a8.15 8.15 0 1 0 16.30 0a8.15 8.15 0 1 0 -16.30 0zM878.2 147.4a8.15 8.15 0 1 0 16.30 0a8.15 8.15 0 1 0 -16.30 0zM878.9 146.7a8.15 8.15 0 1 0 16.30 0a8.15 8.15 0 1 0 -16.30 0zM879.7 146.4a8.15 8.15 0 1 0 16.30 0a8.15 8.15 0 1 0 -16.30 0zM880.4 145.8a8.15 8.15 0 1 0 16.30 0a8.15 8.15 0 1 0 -16.30 0zM881.1 145.2a8.15 8.15 0 1 0 16.30 0a8.15 8.15 0 1 0 -16.30 0zM881.9 144.7a8.15 8.15 0 1 0 16.30 0a8.15 8.15 0 1 0 -16.30 0zM882.6 144.0a8.15 8.15 0 1 0 16.30 0a8.15 8.15 0 1 0 -16.30 0zM883.3 143.8a8.15 8.15 0 1 0 16.30 0a8.15 8.15 0 1 0 -16.30 0zM884.0 142.9a8.15 8.15 0 1 0 16.30 0a8.15 8.15 0 1 0 -16.30 0zM884.8 142.5a8.15 8.15 0 1 0 16.30 0a8.15 8.15 0 1 0 -16.30 0zM885.5 141.8a8.15 8.15 0 1 0 16.30 0a8.15 8.15 0 1 0 -16.30 0zM886.2 141.3a8.15 8.15 0 1 0 16.30 0a8.15 8.15 0 1 0 -16.30 0zM886.9 140.6a8.15 8.15 0 1 0 16.30 0a8.15 8.15 0 1 0 -16.30 0zM887.6 140.3a8.15 8.15 0 1 0 16.30 0a8.15 8.15 0 1 0 -16.30 0zM888.3 139.6a8.15 8.15 0 1 0 16.30 0a8.15 8.15 0 1 0 -16.30 0zM889.0 139.0a8.15 8.15 0 1 0 16.30 0a8.15 8.15 0 1 0 -16.30 0zM889.6 138.5a8.15 8.15 0 1 0 16.30 0a8.15 8.15 0 1 0 -16.30 0zM890.3 137.9a8.15 8.15 0 1 0 16.30 0a8.15 8.15 0 1 0 -16.30 0zM891.0 137.4a8.15 8.15 0 1 0 16.30 0a8.15 8.15 0 1 0 -16.30 0zM891.7 136.5a8.15 8.15 0 1 0 16.30 0a8.15 8.15 0 1 0 -16.30 0zM892.3 135.9a8.15 8.15 0 1 0 16.30 0a8.15 8.15 0 1 0 -16.30 0zM893.0 135.6a8.15 8.15 0 1 0 16.30 0a8.15 8.15 0 1 0 -16.30 0zM893.7 134.9a8.15 8.15 0 1 0 16.30 0a8.15 8.15 0 1 0 -16.30 0zM894.3 134.5a8.15 8.15 0 1 0 16.30 0a8.15 8.15 0 1 0 -16.30 0zM895.0 133.9a8.15 8.15 0 1 0 16.30 0a8.15 8.15 0 1 0 -16.30 0zM895.6 133.4a8.15 8.15 0 1 0 16.30 0a8.15 8.15 0 1 0 -16.30 0zM896.3 132.8a8.15 8.15 0 1 0 16.30 0a8.15 8.15 0 1 0 -16.30 0zM896.9 132.2a8.15 8.15 0 1 0 16.30 0a8.15 8.15 0 1 0 -16.30 0zM897.5 131.7a8.15 8.15 0 1 0 16.30 0a8.15 8.15 0 1 0 -16.30 0zM898.2 130.8a8.15 8.15 0 1 0 16.30 0a8.15 8.15 0 1 0 -16.30 0zM898.8 130.6a8.15 8.15 0 1 0 16.30 0a8.15 8.15 0 1 0 -16.30 0zM899.4 130.2a8.15 8.15 0 1 0 16.30 0a8.15 8.15 0 1 0 -16.30 0zM900.1 129.5a8.15 8.15 0 1 0 16.30 0a8.15 8.15 0 1 0 -16.30 0zM900.7 128.9a8.15 8.15 0 1 0 16.30 0a8.15 8.15 0 1 0 -16.30 0zM901.3 128.3a8.15 8.15 0 1 0 16.30 0a8.15 8.15 0 1 0 -16.30 0zM901.9 127.7a8.15 8.15 0 1 0 16.30 0a8.15 8.15 0 1 0 -16.30 0zM902.5 127.1a8.15 8.15 0 1 0 16.30 0a8.15 8.15 0 1 0 -16.30 0zM903.1 126.7a8.15 8.15 0 1 0 16.30 0a8.15 8.15 0 1 0 -16.30 0zM903.7 125.9a8.15 8.15 0 1 0 16.30 0a8.15 8.15 0 1 0 -16.30 0zM904.3 125.4a8.15 8.15 0 1 0 16.30 0a8.15 8.15 0 1 0 -16.30 0zM905.1 124.8a8.15 8.15 0 1 0 16.30 0a8.15 8.15 0 1 0 -16.30 0zM905.8 124.3a8.15 8.15 0 1 0 16.30 0a8.15 8.15 0 1 0 -16.30 0zM906.6 123.7a8.15 8.15 0 1 0 16.30 0a8.15 8.15 0 1 0 -16.30 0zM907.3 123.1a8.15 8.15 0 1 0 16.30 0a8.15 8.15 0 1 0 -16.30 0zM908.0 122.5a8.15 8.15 0 1 0 16.30 0a8.15 8.15 0 1 0 -16.30 0zM908.8 121.9a8.15 8.15 0 1 0 16.30 0a8.15 8.15 0 1 0 -16.30 0zM909.5 121.1a8.15 8.15 0 1 0 16.30 0a8.15 8.15 0 1 0 -16.30 0zM910.2 120.7a8.15 8.15 0 1 0 16.30 0a8.15 8.15 0 1 0 -16.30 0zM910.9 120.0a8.15 8.15 0 1 0 16.30 0a8.15 8.15 0 1 0 -16.30 0zM911.6 119.3a8.15 8.15 0 1 0 16.30 0a8.15 8.15 0 1 0 -16.30 0zM912.3 118.7a8.15 8.15 0 1 0 16.30 0a8.15 8.15 0 1 0 -16.30 0zM913.0 118.1a8.15 8.15 0 1 0 16.30 0a8.15 8.15 0 1 0 -16.30 0zM913.7 117.4a8.15 8.15 0 1 0 16.30 0a8.15 8.15 0 1 0 -16.30 0zM914.4 116.7a8.15 8.15 0 1 0 16.30 0a8.15 8.15 0 1 0 -16.30 0zM915.1 116.1a8.15 8.15 0 1 0 16.30 0a8.15 8.15 0 1 0 -16.30 0zM915.8 115.2a8.15 8.15 0 1 0 16.30 0a8.15 8.15 0 1 0 -16.30 0zM916.4 114.5a8.15 8.15 0 1 0 16.30 0a8.15 8.15 0 1 0 -16.30 0zM917.1 113.9a8.15 8.15 0 1 0 16.30 0a8.15 8.15 0 1 0 -16.30 0zM917.8 113.3a8.15 8.15 0 1 0 16.30 0a8.15 8.15 0 1 0 -16.30 0zM918.4 112.6a8.15 8.15 0 1 0 16.30 0a8.15 8.15 0 1 0 -16.30 0zM919.1 112.3a8.15 8.15 0 1 0 16.30 0a8.15 8.15 0 1 0 -16.30 0zM919.8 111.6a8.15 8.15 0 1 0 16.30 0a8.15 8.15 0 1 0 -16.30 0zM920.4 111.0a8.15 8.15 0 1 0 16.30 0a8.15 8.15 0 1 0 -16.30 0zM921.1 110.3a8.15 8.15 0 1 0 16.30 0a8.15 8.15 0 1 0 -16.30 0zM921.7 109.3a8.15 8.15 0 1 0 16.30 0a8.15 8.15 0 1 0 -16.30 0zM922.4 108.8a8.15 8.15 0 1 0 16.30 0a8.15 8.15 0 1 0 -16.30 0zM923.0 108.2a8.15 8.15 0 1 0 16.30 0a8.15 8.15 0 1 0 -16.30 0zM923.6 107.7a8.15 8.15 0 1 0 16.30 0a8.15 8.15 0 1 0 -16.30 0zM924.3 107.2a8.15 8.15 0 1 0 16.30 0a8.15 8.15 0 1 0 -16.30 0zM924.9 106.1a8.15 8.15 0 1 0 16.30 0a8.15 8.15 0 1 0 -16.30 0zM925.5 105.6a8.15 8.15 0 1 0 16.30 0a8.15 8.15 0 1 0 -16.30 0zM926.1 105.0a8.15 8.15 0 1 0 16.30 0a8.15 8.15 0 1 0 -16.30 0zM926.8 104.2a8.15 8.15 0 1 0 16.30 0a8.15 8.15 0 1 0 -16.30 0zM927.4 103.3a8.15 8.15 0 1 0 16.30 0a8.15 8.15 0 1 0 -16.30 0zM928.0 102.8a8.15 8.15 0 1 0 16.30 0a8.15 8.15 0 1 0 -16.30 0zM928.6 102.1a8.15 8.15 0 1 0 16.30 0a8.15 8.15 0 1 0 -16.30 0zM929.2 101.5a8.15 8.15 0 1 0 16.30 0a8.15 8.15 0 1 0 -16.30 0zM929.8 100.7a8.15 8.15 0 1 0 16.30 0a8.15 8.15 0 1 0 -16.30 0zM930.5 100.2a8.15 8.15 0 1 0 16.30 0a8.15 8.15 0 1 0 -16.30 0zM931.2 99.4a8.15 8.15 0 1 0 16.30 0a8.15 8.15 0 1 0 -16.30 0zM932.0 98.4a8.15 8.15 0 1 0 16.30 0a8.15 8.15 0 1 0 -16.30 0zM932.7 97.6a8.15 8.15 0 1 0 16.30 0a8.15 8.15 0 1 0 -16.30 0zM933.4 96.8a8.15 8.15 0 1 0 16.30 0a8.15 8.15 0 1 0 -16.30 0zM934.1 96.0a8.15 8.15 0 1 0 16.30 0a8.15 8.15 0 1 0 -16.30 0zM934.8 95.1a8.15 8.15 0 1 0 16.30 0a8.15 8.15 0 1 0 -16.30 0z" fill="#000000"/>
<path d="M139.8 467.6h14.4v14.4h-14.4zM219.7 446.9h14.4v14.4h-14.4zM266.4 432.2h14.4v14.4h-14.4zM299.5 422.0h14.4v14.4h-14.4zM325.2 413.0h14.4v14.4h-14.4zM346.2 405.4h14.4v14.4h-14.4zM364.0 399.0h14.4v14.4h-14.4zM379.4 393.3h14.4v14.4h-14.4zM393.0 388.2h14.4v14.4h-14.4zM405.1 383.5h14.4v14.4h-14.4zM416.1 379.4h14.4v14.4h-14.4zM426.1 375.3h14.4v14.4h-14.4zM435.3 371.6h14.4v14.4h-14.4zM443.9 368.1h14.4v14.4h-14.4zM451.8 364.9h14.4v14.4h-14.4zM459.3 361.9h14.4v14.4h-14.4zM466.2 359.2h14.4v14.4h-14.4zM472.8 356.6h14.4v14.4h-14.4zM479.1 354.2h14.4v14.4h-14.4zM485.0 351.9h14.4v14.4h-14.4zM490.6 349.8h14.4v14.4h-14.4zM495.9 347.7h14.4v14.4h-14.4zM501.1 345.8h14.4v14.4h-14.4zM506.0 343.8h14.4v14.4h-14.4zM510.7 341.9h14.4v14.4h-14.4zM515.2 340.3h14.4v14.4h-14.4zM519.5 338.5h14.4v14.4h-14.4zM523.7 336.8h14.4v14.4h-14.4zM527.8 335.1h14.4v14.4h-14.4zM531.7 333.6h14.4v14.4h-14.4zM535.5 332.1h14.4v14.4h-14.4zM539.1 330.6h14.4v14.4h-14.4zM542.7 329.1h14.4v14.4h-14.4zM546.1 327.6h14.4v14.4h-14.4zM549.4 326.2h14.4v14.4h-14.4zM552.7 324.8h14.4v14.4h-14.4zM555.8 323.5h14.4v14.4h-14.4zM558.9 322.3h14.4v14.4h-14.4zM561.9 320.9h14.4v14.4h-14.4zM564.8 319.6h14.4v14.4h-14.4zM567.7 318.4h14.4v14.4h-14.4zM570.4 317.3h14.4v14.4h-14.4zM573.2 316.1h14.4v14.4h-14.4zM575.8 314.8h14.4v14.4h-14.4zM578.4 313.6h14.4v14.4h-14.4zM580.9 312.4h14.4v14.4h-14.4zM583.4 311.3h14.4v14.4h-14.4zM585.8 310.4h14.4v14.4h-14.4zM588.2 309.3h14.4v14.4h-14.4zM590.5 308.2h14.4v14.4h-14.4zM592.8 307.4h14.4v14.4h-14.4zM595.1 306.4h14.4v14.4h-14.4zM597.3 305.6h14.4v14.4h-14.4zM599.4 304.7h14.4v14.4h-14.4zM601.5 303.9h14.4v14.4h-14.4zM603.6 302.8h14.4v14.4h-14.4zM605.6 302.1h14.4v14.4h-14.4zM607.6 301.3h14.4v14.4h-14.4zM609.6 300.2h14.4v14.4h-14.4zM611.5 299.6h14.4v14.4h-14.4zM613.4 298.7h14.4v14.4h-14.4zM615.3 298.1h14.4v14.4h-14.4zM617.2 297.3h14.4v14.4h-14.4zM619.0 296.5h14.4v14.4h-14.4zM620.8 295.9h14.4v14.4h-14.4zM622.5 295.1h14.4v14.4h-14.4zM624.3 294.5h14.4v14.4h-14.4zM626.0 293.6h14.4v14.4h-14.4zM627.6 293.0h14.4v14.4h-14.4zM629.3 292.1h14.4v14.4h-14.4zM630.9 291.5h14.4v14.4h-14.4zM632.6 290.8h14.4v14.4h-14.4zM634.1 289.9h14.4v14.4h-14.4zM635.7 289.4h14.4v14.4h-14.4zM637.3 288.7h14.4v14.4h-14.4zM638.8 288.1h14.4v14.4h-14.4zM640.3 287.1h14.4v14.4h-14.4zM641.8 286.7h14.4v14.4h-14.4zM643.2 285.9h14.4v14.4h-14.4zM644.7 285.2h14.4v14.4h-14.4zM646.1 284.6h14.4v14.4h-14.4zM647.5 284.1h14.4v14.4h-14.4zM648.9 283.2h14.4v14.4h-14.4zM650.3 282.7h14.4v14.4h-14.4zM651.7 282.1h14.4v14.4h-14.4zM653.0 281.3h14.4v14.4h-14.4zM654.4 280.8h14.4v14.4h-14.4zM655.7 280.1h14.4v14.4h-14.4zM657.0 279.7h14.4v14.4h-14.4zM658.3 279.3h14.4v14.4h-14.4zM659.5 278.8h14.4v14.4h-14.4zM660.8 277.9h14.4v14.4h-14.4zM662.0 277.5h14.4v14.4h-14.4zM663.3 277.0h14.4v14.4h-14.4zM664.5 276.5h14.4v14.4h-14.4zM665.7 275.8h14.4v14.4h-14.4zM666.9 275.2h14.4v14.4h-14.4zM668.1 274.8h14.4v14.4h-14.4zM669.2 274.1h14.4v14.4h-14.4zM670.4 273.6h14.4v14.4h-14.4zM671.5 273.0h14.4v14.4h-14.4zM672.7 272.7h14.4v14.4h-14.4zM673.8 272.2h14.4v14.4h-14.4zM674.9 271.7h14.4v14.4h-14.4zM676.0 271.3h14.4v14.4h-14.4zM677.1 270.8h14.4v14.4h-14.4zM678.2 270.4h14.4v14.4h-14.4zM679.3 270.1h14.4v14.4h-14.4zM680.3 269.5h14.4v14.4h-14.4zM681.4 269.0h14.4v14.4h-14.4zM682.4 268.7h14.4v14.4h-14.4zM683.5 268.2h14.4v14.4h-14.4zM684.5 267.9h14.4v14.4h-14.4zM685.5 267.2h14.4v14.4h-14.4zM686.5 266.7h14.4v14.4h-14.4zM687.5 266.2h14.4v14.4h-14.4zM688.5 266.0h14.4v14.4h-14.4zM689.5 265.6h14.4v14.4h-14.4zM690.4 264.8h14.4v14.4h-14.4zM691.4 264.4h14.4v14.4h-14.4zM692.4 264.0h14.4v14.4h-14.4zM693.3 263.3h14.4v14.4h-14.4zM694.3 262.8h14.4v14.4h-14.4zM695.2 262.4h14.4v14.4h-14.4zM696.1 262.1h14.4v14.4h-14.4zM697.0 261.8h14.4v14.4h-14.4zM697.9 261.2h14.4v14.4h-14.4zM698.8 260.9h14.4v14.4h-14.4zM699.7 260.3h14.4v14.4h-14.4zM700.6 260.2h14.4v14.4h-14.4zM701.5 259.4h14.4v14.4h-14.4zM702.4 259.0h14.4v14.4h-14.4zM703.3 258.8h14.4v14.4h-14.4zM704.1 258.2h14.4v14.4h-14.4zM705.0 257.8h14.4v14.4h-14.4zM705.8 257.3h14.4v14.4h-14.4zM706.7 256.9h14.4v14.4h-14.4zM707.5 256.4h14.4v14.4h-14.4zM708.3 256.1h14.4v14.4h-14.4zM709.2 255.4h14.4v14.4h-14.4zM710.0 254.9h14.4v14.4h-14.4zM710.8 254.5h14.4v14.4h-14.4zM711.6 254.2h14.4v14.4h-14.4zM712.4 253.7h14.4v14.4h-14.4zM713.2 253.5h14.4v14.4h-14.4zM714.0 253.1h14.4v14.4h-14.4zM714.8 252.9h14.4v14.4h-14.4zM715.6 252.5h14.4v14.4h-14.4zM716.3 252.0h14.4v14.4h-14.4zM717.1 251.9h14.4v14.4h-14.4zM717.9 251.7h14.4v14.4h-14.4zM718.6 251.5h14.4v14.4h-14.4zM719.4 251.3h14.4v14.4h-14.4zM720.1 250.8h14.4v14.4h-14.4zM720.9 250.4h14.4v14.4h-14.4zM721.6 250.2h14.4v14.4h-14.4zM722.4 249.7h14.4v14.4h-14.4zM723.1 249.5h14.4v14.4h-14.4zM723.8 249.1h14.4v14.4h-14.4zM724.6 248.5h14.4v14.4h-14.4zM725.3 248.2h14.4v14.4h-14.4zM726.0 247.9h14.4v14.4h-14.4zM726.7 247.6h14.4v14.4h-14.4zM727.4 247.3h14.4v14.4h-14.4zM728.1 246.9h14.4v14.4h-14.4zM728.8 246.6h14.4v14.4h-14.4zM729.5 245.9h14.4v14.4h-14.4zM730.2 245.8h14.4v14.4h-14.4zM730.9 245.4h14.4v14.4h-14.4zM731.5 245.2h14.4v14.4h-14.4zM732.2 244.8h14.4v14.4h-14.4zM732.9 244.6h14.4v14.4h-14.4zM733.6 244.3h14.4v14.4h-14.4zM734.2 243.8h14.4v14.4h-14.4zM734.9 243.7h14.4v14.4h-14.4zM735.5 243.2h14.4v14.4h-14.4zM736.2 242.8h14.4v14.4h-14.4zM736.8 242.4h14.4v14.4h-14.4zM737.5 242.0h14.4v14.4h-14.4zM738.1 241.6h14.4v14.4h-14.4zM738.8 241.2h14.4v14.4h-14.4zM739.4 240.9h14.4v14.4h-14.4zM740.0 240.2h14.4v14.4h-14.4zM740.7 240.1h14.4v14.4h-14.4zM741.3 239.5h14.4v14.4h-14.4zM741.9 239.3h14.4v14.4h-14.4zM742.5 239.3h14.4v14.4h-14.4zM743.1 239.0h14.4v14.4h-14.4zM743.7 238.8h14.4v14.4h-14.4zM744.4 238.3h14.4v14.4h-14.4zM745.0 238.0h14.4v14.4h-14.4zM745.6 237.7h14.4v14.4h-14.4zM746.8 237.4h14.4v14.4h-14.4zM747.9 236.8h14.4v14.4h-14.4zM749.1 236.5h14.4v14.4h-14.4zM750.3 235.7h14.4v14.4h-14.4zM751.4 235.0h14.4v14.4h-14.4zM752.5 234.8h14.4v14.4h-14.4zM753.7 234.3h14.4v14.4h-14.4zM754.8 233.8h14.4v14.4h-14.4zM755.9 233.4h14.4v14.4h-14.4zM757.0 232.9h14.4v14.4h-14.4zM758.1 232.6h14.4v14.4h-14.4zM759.1 232.2h14.4v14.4h-14.4zM760.2 231.7h14.4v14.4h-14.4zM761.2 231.2h14.4v14.4h-14.4zM762.3 230.7h14.4v14.4h-14.4zM763.3 229.9h14.4v14.4h-14.4zM764.3 229.7h14.4v14.4h-14.4zM765.4 229.2h14.4v14.4h-14.4zM766.4 229.1h14.4v14.4h-14.4zM767.4 229.1h14.4v14.4h-14.4zM768.4 228.7h14.4v14.4h-14.4zM769.3 227.6h14.4v14.4h-14.4zM770.3 227.4h14.4v14.4h-14.4zM771.3 226.7h14.4v14.4h-14.4zM772.2 226.0h14.4v14.4h-14.4zM773.2 225.7h14.4v14.4h-14.4zM774.1 225.4h14.4v14.4h-14.4zM775.0 225.1h14.4v14.4h-14.4zM776.0 224.5h14.4v14.4h-14.4zM776.9 223.9h14.4v14.4h-14.4zM777.8 223.5h14.4v14.4h-14.4zM778.7 223.2h14.4v14.4h-14.4zM779.6 222.4h14.4v14.4h-14.4zM780.5 222.0h14.4v14.4h-14.4zM781.4 221.2h14.4v14.4h-14.4zM782.3 220.8h14.4v14.4h-14.4zM783.1 220.5h14.4v14.4h-14.4zM784.0 220.3h14.4v14.4h-14.4zM784.8 219.7h14.4v14.4h-14.4zM785.7 219.2h14.4v14.4h-14.4zM786.5 218.8h14.4v14.4h-14.4zM787.4 218.4h14.4v14.4h-14.4zM788.2 218.0h14.4v14.4h-14.4zM789.0 217.6h14.4v14.4h-14.4zM789.9 217.3h14.4v14.4h-14.4zM790.7 217.1h14.4v14.4h-14.4zM791.5 216.6h14.4v14.4h-14.4zM792.3 216.3h14.4v14.4h-14.4zM793.1 215.7h14.4v14.4h-14.4zM793.9 215.3h14.4v14.4h-14.4zM794.7 214.9h14.4v14.4h-14.4zM795.4 214.7h14.4v14.4h-14.4zM796.2 213.7h14.4v14.4h-14.4zM797.0 213.6h14.4v14.4h-14.4zM797.7 213.3h14.4v14.4h-14.4zM798.5 213.4h14.4v14.4h-14.4zM799.3 212.5h14.4v14.4h-14.4zM800.0 212.1h14.4v14.4h-14.4zM800.8 211.3h14.4v14.4h-14.4zM801.5 211.0h14.4v14.4h-14.4zM802.2 210.7h14.4v14.4h-14.4zM803.0 210.8h14.4v14.4h-14.4zM803.7 209.6h14.4v14.4h-14.4zM804.4 209.5h14.4v14.4h-14.4zM805.1 209.3h14.4v14.4h-14.4zM805.8 209.0h14.4v14.4h-14.4zM806.6 208.5h14.4v14.4h-14.4zM807.3 208.1h14.4v14.4h-14.4zM808.0 207.9h14.4v14.4h-14.4zM808.7 207.6h14.4v14.4h-14.4zM809.3 207.2h14.4v14.4h-14.4zM810.0 206.9h14.4v14.4h-14.4zM810.7 206.7h14.4v14.4h-14.4zM811.4 206.3h14.4v14.4h-14.4zM812.1 205.8h14.4v14.4h-14.4zM812.7 205.4h14.4v14.4h-14.4zM813.4 205.0h14.4v14.4h-14.4zM814.1 205.0h14.4v14.4h-14.4zM814.7 204.9h14.4v14.4h-14.4zM815.4 204.4h14.4v14.4h-14.4zM816.1 203.7h14.4v14.4h-14.4zM816.7 203.7h14.4v14.4h-14.4zM817.3 203.5h14.4v14.4h-14.4zM818.0 202.6h14.4v14.4h-14.4zM818.6 202.4h14.4v14.4h-14.4zM819.3 202.0h14.4v14.4h-14.4zM819.9 201.7h14.4v14.4h-14.4zM820.5 201.3h14.4v14.4h-14.4zM821.1 201.0h14.4v14.4h-14.4zM821.8 200.6h14.4v14.4h-14.4zM822.4 200.3h14.4v14.4h-14.4zM823.0 200.1h14.4v14.4h-14.4zM823.6 199.4h14.4v14.4h-14.4zM824.2 199.0h14.4v14.4h-14.4zM824.8 198.8h14.4v14.4h-14.4zM825.4 198.2h14.4v14.4h-14.4zM826.3 197.9h14.4v14.4h-14.4zM827.2 197.4h14.4v14.4h-14.4zM828.1 197.2h14.4v14.4h-14.4zM829.0 196.7h14.4v14.4h-14.4zM829.8 196.4h14.4v14.4h-14.4zM830.7 196.1h14.4v14.4h-14.4zM831.6 195.9h14.4v14.4h-14.4zM832.4 195.7h14.4v14.4h-14.4zM833.3 195.3h14.4v14.4h-14.4zM834.1 195.0h14.4v14.4h-14.4zM834.9 194.4h14.4v14.4h-14.4zM835.7 194.3h14.4v14.4h-14.4zM836.6 194.2h14.4v14.4h-14.4zM837.4 193.7h14.4v14.4h-14.4zM838.2 193.4h14.4v14.4h-14.4zM839.0 193.1h14.4v14.4h-14.4zM839.8 192.3h14.4v14.4h-14.4zM840.6 192.0h14.4v14.4h-14.4zM841.4 191.5h14.4v14.4h-14.4zM842.2 191.1h14.4v14.4h-14.4zM842.9 191.4h14.4v14.4h-14.4zM843.7 190.5h14.4v14.4h-14.4zM844.5 190.3h14.4v14.4h-14.4zM845.2 190.0h14.4v14.4h-14.4zM846.0 189.6h14.4v14.4h-14.4zM846.7 189.5h14.4v14.4h-14.4zM847.5 188.8h14.4v14.4h-14.4zM848.2 188.5h14.4v14.4h-14.4zM849.0 188.1h14.4v14.4h-14.4zM849.7 188.0h14.4v14.4h-14.4zM850.4 187.6h14.4v14.4h-14.4zM851.1 187.4h14.4v14.4h-14.4zM851.9 186.7h14.4v14.4h-14.4zM852.6 186.2h14.4v14.4h-14.4zM853.3 186.2h14.4v14.4h-14.4zM854.0 185.9h14.4v14.4h-14.4zM854.7 186.1h14.4v14.4h-14.4zM855.4 186.0h14.4v14.4h-14.4zM856.1 185.6h14.4v14.4h-14.4zM856.8 185.0h14.4v14.4h-14.4zM857.4 184.5h14.4v14.4h-14.4zM858.1 183.9h14.4v14.4h-14.4zM858.8 183.5h14.4v14.4h-14.4zM859.5 183.4h14.4v14.4h-14.4zM860.1 182.7h14.4v14.4h-14.4zM860.8 182.5h14.4v14.4h-14.4zM861.5 182.2h14.4v14.4h-14.4zM862.1 181.6h14.4v14.4h-14.4zM862.8 181.4h14.4v14.4h-14.4zM863.4 180.9h14.4v14.4h-14.4zM864.1 180.8h14.4v14.4h-14.4zM864.7 180.6h14.4v14.4h-14.4zM865.3 180.4h14.4v14.4h-14.4zM866.0 180.3h14.4v14.4h-14.4zM866.6 180.1h14.4v14.4h-14.4zM867.2 179.7h14.4v14.4h-14.4zM867.9 179.3h14.4v14.4h-14.4zM868.5 178.9h14.4v14.4h-14.4zM869.1 178.7h14.4v14.4h-14.4zM869.7 178.5h14.4v14.4h-14.4zM870.3 177.7h14.4v14.4h-14.4zM870.9 177.6h14.4v14.4h-14.4zM871.5 177.5h14.4v14.4h-14.4zM872.1 177.0h14.4v14.4h-14.4zM872.9 176.6h14.4v14.4h-14.4zM873.7 176.7h14.4v14.4h-14.4zM874.5 176.1h14.4v14.4h-14.4zM875.3 176.0h14.4v14.4h-14.4zM876.1 175.6h14.4v14.4h-14.4zM876.8 175.6h14.4v14.4h-14.4zM877.6 175.0h14.4v14.4h-14.4zM878.4 174.3h14.4v14.4h-14.4zM879.1 173.9h14.4v14.4h-14.4zM879.9 173.5h14.4v14.4h-14.4zM880.6 172.5h14.4v14.4h-14.4zM881.4 171.9h14.4v14.4h-14.4zM882.1 171.5h14.4v14.4h-14.4zM882.8 171.0h14.4v14.4h-14.4zM883.6 170.3h14.4v14.4h-14.4zM884.3 169.8h14.4v14.4h-14.4zM885.0 169.7h14.4v14.4h-14.4zM885.7 168.3h14.4v14.4h-14.4zM886.4 168.5h14.4v14.4h-14.4zM887.1 167.2h14.4v14.4h-14.4zM887.8 167.0h14.4v14.4h-14.4zM888.5 166.6h14.4v14.4h-14.4zM889.2 165.8h14.4v14.4h-14.4zM889.9 165.8h14.4v14.4h-14.4zM890.6 165.3h14.4v14.4h-14.4zM891.3 165.3h14.4v14.4h-14.4zM891.9 165.3h14.4v14.4h-14.4zM892.6 164.5h14.4v14.4h-14.4zM893.3 164.2h14.4v14.4h-14.4zM893.9 164.0h14.4v14.4h-14.4zM894.6 163.8h14.4v14.4h-14.4zM895.3 162.8h14.4v14.4h-14.4zM895.9 162.2h14.4v14.4h-14.4zM896.6 161.3h14.4v14.4h-14.4zM897.2 160.9h14.4v14.4h-14.4zM897.9 160.7h14.4v14.4h-14.4zM898.5 160.2h14.4v14.4h-14.4zM899.1 159.5h14.4v14.4h-14.4zM899.8 158.6h14.4v14.4h-14.4zM900.4 158.0h14.4v14.4h-14.4zM901.0 157.8h14.4v14.4h-14.4zM901.6 157.6h14.4v14.4h-14.4zM902.2 157.1h14.4v14.4h-14.4zM902.9 157.0h14.4v14.4h-14.4zM903.5 156.4h14.4v14.4h-14.4zM904.1 155.9h14.4v14.4h-14.4zM904.7 155.9h14.4v14.4h-14.4zM905.3 155.8h14.4v14.4h-14.4zM906.0 155.0h14.4v14.4h-14.4zM906.8 153.8h14.4v14.4h-14.4zM907.5 153.2h14.4v14.4h-14.4zM908.2 152.9h14.4v14.4h-14.4zM909.0 152.3h14.4v14.4h-14.4zM909.7 151.4h14.4v14.4h-14.4zM910.4 151.3h14.4v14.4h-14.4zM911.1 150.4h14.4v14.4h-14.4zM911.8 150.2h14.4v14.4h-14.4zM912.6 149.5h14.4v14.4h-14.4zM913.3 148.8h14.4v14.4h-14.4zM914.0 148.1h14.4v14.4h-14.4zM914.6 147.6h14.4v14.4h-14.4zM915.3 147.8h14.4v14.4h-14.4zM916.0 147.3h14.4v14.4h-14.4zM916.7 147.0h14.4v14.4h-14.4zM917.4 146.5h14.4v14.4h-14.4zM918.1 146.5h14.4v14.4h-14.4zM918.7 145.8h14.4v14.4h-14.4zM919.4 145.1h14.4v14.4h-14.4zM920.1 145.0h14.4v14.4h-14.4zM920.7 144.1h14.4v14.4h-14.4zM921.4 143.4h14.4v14.4h-14.4zM922.0 143.3h14.4v14.4h-14.4zM922.7 141.6h14.4v14.4h-14.4zM923.3 141.5h14.4v14.4h-14.4zM923.9 141.1h14.4v14.4h-14.4zM924.6 140.3h14.4v14.4h-14.4zM925.2 140.4h14.4v14.4h-14.4zM925.8 139.5h14.4v14.4h-14.4zM926.5 139.7h14.4v14.4h-14.4zM927.1 139.4h14.4v14.4h-14.4zM927.7 139.6h14.4v14.4h-14.4zM928.3 139.5h14.4v14.4h-14.4zM928.9 138.7h14.4v14.4h-14.4zM929.5 138.3h14.4v14.4h-14.4zM930.2 137.5h14.4v14.4h-14.4zM930.8 136.7h14.4v14.4h-14.4zM931.5 136.0h14.4v14.4h-14.4zM932.2 135.9h14.4v14.4h-14.4zM932.9 135.0h14.4v14.4h-14.4zM933.6 134.2h14.4v14.4h-14.4zM934.3 133.8h14.4v14.4h-14.4zM935.0 133.7h14.4v14.4h-14.4zM935.7 133.1h14.4v14.4h-14.4z" fill="#ff0000"/>
<path d="M147.0 466.4l8.6 8.6 -8.6 8.6 -8.6 -8.6zM226.9 447.0l8.6 8.6 -8.6 8.6 -8.6 -8.6zM273.6 432.5l8.6 8.6 -8.6 8.6 -8.6 -8.6zM306.7 422.0l8.6 8.6 -8.6 8.6 -8.6 -8.6zM332.4 412.5l8.6 8.6 -8.6 8.6 -8.6 -8.6zM353.4 404.8l8.6 8.6 -8.6 8.6 -8.6 -8.6zM371.2 398.5l8.6 8.6 -8.6 8.6 -8.6 -8.6zM386.6 393.3l8.6 8.6 -8.6 8.6 -8.6 -8.6zM400.2 388.8l8.6 8.6 -8.6 8.6 -8.6 -8.6zM412.3 384.6l8.6 8.6 -8.6 8.6 -8.6 -8.6zM423.3 380.4l8.6 8.6 -8.6 8.6 -8.6 -8.6zM433.3 376.5l8.6 8.6 -8.6 8.6 -8.6 -8.6zM442.5 372.6l8.6 8.6 -8.6 8.6 -8.6 -8.6zM451.1 369.2l8.6 8.6 -8.6 8.6 -8.6 -8.6zM459.0 365.9l8.6 8.6 -8.6 8.6 -8.6 -8.6zM466.5 363.0l8.6 8.6 -8.6 8.6 -8.6 -8.6zM473.4 360.2l8.6 8.6 -8.6 8.6 -8.6 -8.6zM480.0 357.6l8.6 8.6 -8.6 8.6 -8.6 -8.6zM486.3 355.2l8.6 8.6 -8.6 8.6 -8.6 -8.6zM492.2 353.0l8.6 8.6 -8.6 8.6 -8.6 -8.6zM497.8 350.9l8.6 8.6 -8.6 8.6 -8.6 -8.6zM503.1 348.8l8.6 8.6 -8.6 8.6 -8.6 -8.6zM508.3 346.9l8.6 8.6 -8.6 8.6 -8.6 -8.6zM513.2 345.1l8.6 8.6 -8.6 8.6 -8.6 -8.6zM517.9 343.3l8.6 8.6 -8.6 8.6 -8.6 -8.6zM522.4 341.6l8.6 8.6 -8.6 8.6 -8.6 -8.6zM526.7 339.9l8.6 8.6 -8.6 8.6 -8.6 -8.6zM530.9 338.4l8.6 8.6 -8.6 8.6 -8.6 -8.6zM535.0 336.8l8.6 8.6 -8.6 8.6 -8.6 -8.6zM538.9 335.1l8.6 8.6 -8.6 8.6 -8.6 -8.6zM542.7 333.7l8.6 8.6 -8.6 8.6 -8.6 -8.6zM546.3 332.1l8.6 8.6 -8.6 8.6 -8.6 -8.6zM549.9 330.8l8.6 8.6 -8.6 8.6 -8.6 -8.6zM553.3 329.3l8.6 8.6 -8.6 8.6 -8.6 -8.6zM556.6 328.0l8.6 8.6 -8.6 8.6 -8.6 -8.6zM559.9 326.6l8.6 8.6 -8.6 8.6 -8.6 -8.6zM563.0 325.3l8.6 8.6 -8.6 8.6 -8.6 -8.6zM566.1 323.9l8.6 8.6 -8.6 8.6 -8.6 -8.6zM569.1 322.6l8.6 8.6 -8.6 8.6 -8.6 -8.6zM572.0 321.3l8.6 8.6 -8.6 8.6 -8.6 -8.6zM574.9 320.0l8.6 8.6 -8.6 8.6 -8.6 -8.6zM577.6 318.6l8.6 8.6 -8.6 8.6 -8.6 -8.6zM580.4 317.4l8.6 8.6 -8.6 8.6 -8.6 -8.6zM583.0 316.1l8.6 8.6 -8.6 8.6 -8.6 -8.6zM585.6 314.9l8.6 8.6 -8.6 8.6 -8.6 -8.6zM588.1 313.7l8.6 8.6 -8.6 8.6 -8.6 -8.6zM590.6 312.5l8.6 8.6 -8.6 8.6 -8.6 -8.6zM593.0 311.2l8.6 8.6 -8.6 8.6 -8.6 -8.6zM595.4 310.4l8.6 8.6 -8.6 8.6 -8.6 -8.6zM597.7 309.3l8.6 8.6 -8.6 8.6 -8.6 -8.6zM600.0 308.2l8.6 8.6 -8.6 8.6 -8.6 -8.6zM602.3 307.3l8.6 8.6 -8.6 8.6 -8.6 -8.6zM604.5 306.4l8.6 8.6 -8.6 8.6 -8.6 -8.6zM606.6 305.4l8.6 8.6 -8.6 8.6 -8.6 -8.6zM608.7 304.7l8.6 8.6 -8.6 8.6 -8.6 -8.6zM610.8 303.6l8.6 8.6 -8.6 8.6 -8.6 -8.6zM612.8 302.6l8.6 8.6 -8.6 8.6 -8.6 -8.6zM614.8 301.7l8.6 8.6 -8.6 8.6 -8.6 -8.6zM616.8 300.8l8.6 8.6 -8.6 8.6 -8.6 -8.6zM618.7 300.2l8.6 8.6 -8.6 8.6 -8.6 -8.6zM620.6 299.2l8.6 8.6 -8.6 8.6 -8.6 -8.6zM622.5 298.4l8.6 8.6 -8.6 8.6 -8.6 -8.6zM624.4 297.7l8.6 8.6 -8.6 8.6 -8.6 -8.6zM626.2 296.9l8.6 8.6 -8.6 8.6 -8.6 -8.6zM628.0 296.1l8.6 8.6 -8.6 8.6 -8.6 -8.6zM629.7 295.5l8.6 8.6 -8.6 8.6 -8.6 -8.6zM631.5 294.9l8.6 8.6 -8.6 8.6 -8.6 -8.6zM633.2 294.2l8.6 8.6 -8.6 8.6 -8.6 -8.6zM634.8 293.3l8.6 8.6 -8.6 8.6 -8.6 -8.6zM636.5 292.6l8.6 8.6 -8.6 8.6 -8.6 -8.6zM638.1 292.2l8.6 8.6 -8.6 8.6 -8.6 -8.6zM639.8 291.5l8.6 8.6 -8.6 8.6 -8.6 -8.6zM641.3 291.0l8.6 8.6 -8.6 8.6 -8.6 -8.6zM642.9 290.3l8.6 8.6 -8.6 8.6 -8.6 -8.6zM644.5 289.7l8.6 8.6 -8.6 8.6 -8.6 -8.6zM646.0 289.0l8.6 8.6 -8.6 8.6 -8.6 -8.6zM647.5 288.4l8.6 8.6 -8.6 8.6 -8.6 -8.6zM649.0 287.6l8.6 8.6 -8.6 8.6 -8.6 -8.6zM650.4 287.0l8.6 8.6 -8.6 8.6 -8.6 -8.6zM651.9 286.4l8.6 8.6 -8.6 8.6 -8.6 -8.6zM653.3 286.0l8.6 8.6 -8.6 8.6 -8.6 -8.6zM654.7 285.5l8.6 8.6 -8.6 8.6 -8.6 -8.6zM656.1 284.9l8.6 8.6 -8.6 8.6 -8.6 -8.6zM657.5 284.4l8.6 8.6 -8.6 8.6 -8.6 -8.6zM658.9 283.8l8.6 8.6 -8.6 8.6 -8.6 -8.6zM660.2 283.1l8.6 8.6 -8.6 8.6 -8.6 -8.6zM661.6 282.9l8.6 8.6 -8.6 8.6 -8.6 -8.6zM662.9 282.5l8.6 8.6 -8.6 8.6 -8.6 -8.6zM664.2 282.1l8.6 8.6 -8.6 8.6 -8.6 -8.6zM665.5 281.6l8.6 8.6 -8.6 8.6 -8.6 -8.6zM666.7 281.3l8.6 8.6 -8.6 8.6 -8.6 -8.6zM668.0 280.5l8.6 8.6 -8.6 8.6 -8.6 -8.6zM669.2 280.0l8.6 8.6 -8.6 8.6 -8.6 -8.6zM670.5 279.5l8.6 8.6 -8.6 8.6 -8.6 -8.6zM671.7 278.9l8.6 8.6 -8.6 8.6 -8.6 -8.6zM672.9 278.2l8.6 8.6 -8.6 8.6 -8.6 -8.6zM674.1 278.0l8.6 8.6 -8.6 8.6 -8.6 -8.6zM675.3 277.6l8.6 8.6 -8.6 8.6 -8.6 -8.6zM676.4 277.0l8.6 8.6 -8.6 8.6 -8.6 -8.6zM677.6 276.6l8.6 8.6 -8.6 8.6 -8.6 -8.6zM678.7 276.0l8.6 8.6 -8.6 8.6 -8.6 -8.6zM679.9 275.6l8.6 8.6 -8.6 8.6 -8.6 -8.6zM681.0 275.1l8.6 8.6 -8.6 8.6 -8.6 -8.6zM682.1 274.6l8.6 8.6 -8.6 8.6 -8.6 -8.6zM683.2 274.2l8.6 8.6 -8.6 8.6 -8.6 -8.6zM684.3 273.8l8.6 8.6 -8.6 8.6 -8.6 -8.6zM685.4 273.4l8.6 8.6 -8.6 8.6 -8.6 -8.6zM686.5 273.2l8.6 8.6 -8.6 8.6 -8.6 -8.6zM687.5 272.6l8.6 8.6 -8.6 8.6 -8.6 -8.6zM688.6 272.0l8.6 8.6 -8.6 8.6 -8.6 -8.6zM689.6 271.7l8.6 8.6 -8.6 8.6 -8.6 -8.6zM690.7 271.4l8.6 8.6 -8.6 8.6 -8.6 -8.6zM691.7 270.6l8.6 8.6 -8.6 8.6 -8.6 -8.6zM692.7 270.2l8.6 8.6 -8.6 8.6 -8.6 -8.6zM693.7 269.6l8.6 8.6 -8.6 8.6 -8.6 -8.6zM694.7 269.5l8.6 8.6 -8.6 8.6 -8.6 -8.6zM695.7 269.0l8.6 8.6 -8.6 8.6 -8.6 -8.6zM696.7 268.6l8.6 8.6 -8.6 8.6 -8.6 -8.6zM697.6 268.0l8.6 8.6 -8.6 8.6 -8.6 -8.6zM698.6 267.5l8.6 8.6 -8.6 8.6 -8.6 -8.6zM699.6 267.3l8.6 8.6 -8.6 8.6 -8.6 -8.6zM700.5 266.8l8.6 8.6 -8.6 8.6 -8.6 -8.6zM701.5 266.3l8.6 8.6 -8.6 8.6 -8.6 -8.6zM702.4 266.0l8.6 8.6 -8.6 8.6 -8.6 -8.6zM703.3 265.8l8.6 8.6 -8.6 8.6 -8.6 -8.6zM704.2 265.4l8.6 8.6 -8.6 8.6 -8.6 -8.6zM705.1 265.3l8.6 8.6 -8.6 8.6 -8.6 -8.6zM706.0 264.6l8.6 8.6 -8.6 8.6 -8.6 -8.6zM706.9 264.2l8.6 8.6 -8.6 8.6 -8.6 -8.6zM707.8 263.9l8.6 8.6 -8.6 8.6 -8.6 -8.6zM708.7 263.4l8.6 8.6 -8.6 8.6 -8.6 -8.6zM709.6 263.1l8.6 8.6 -8.6 8.6 -8.6 -8.6zM710.5 263.1l8.6 8.6 -8.6 8.6 -8.6 -8.6zM711.3 262.6l8.6 8.6 -8.6 8.6 -8.6 -8.6zM712.2 262.2l8.6 8.6 -8.6 8.6 -8.6 -8.6zM713.0 261.8l8.6 8.6 -8.6 8.6 -8.6 -8.6zM713.9 261.6l8.6 8.6 -8.6 8.6 -8.6 -8.6zM714.7 261.1l8.6 8.6 -8.6 8.6 -8.6 -8.6zM715.5 260.7l8.6 8.6 -8.6 8.6 -8.6 -8.6zM716.4 260.5l8.6 8.6 -8.6 8.6 -8.6 -8.6zM717.2 260.2l8.6 8.6 -8.6 8.6 -8.6 -8.6zM718.0 259.9l8.6 8.6 -8.6 8.6 -8.6 -8.6zM718.8 259.4l8.6 8.6 -8.6 8.6 -8.6 -8.6zM719.6 259.2l8.6 8.6 -8.6 8.6 -8.6 -8.6zM720.4 258.5l8.6 8.6 -8.6 8.6 -8.6 -8.6zM721.2 258.1l8.6 8.6 -8.6 8.6 -8.6 -8.6zM722.0 258.0l8.6 8.6 -8.6 8.6 -8.6 -8.6zM722.8 257.7l8.6 8.6 -8.6 8.6 -8.6 -8.6zM723.5 257.4l8.6 8.6 -8.6 8.6 -8.6 -8.6zM724.3 257.3l8.6 8.6 -8.6 8.6 -8.6 -8.6zM725.1 257.0l8.6 8.6 -8.6 8.6 -8.6 -8.6zM725.8 256.5l8.6 8.6 -8.6 8.6 -8.6 -8.6zM726.6 256.3l8.6 8.6 -8.6 8.6 -8.6 -8.6zM727.3 256.1l8.6 8.6 -8.6 8.6 -8.6 -8.6zM728.1 255.6l8.6 8.6 -8.6 8.6 -8.6 -8.6zM728.8 255.1l8.6 8.6 -8.6 8.6 -8.6 -8.6zM729.6 254.7l8.6 8.6 -8.6 8.6 -8.6 -8.6zM730.3 254.5l8.6 8.6 -8.6 8.6 -8.6 -8.6zM731.0 253.8l8.6 8.6 -8.6 8.6 -8.6 -8.6zM731.8 253.7l8.6 8.6 -8.6 8.6 -8.6 -8.6zM732.5 253.2l8.6 8.6 -8.6 8.6 -8.6 -8.6zM733.2 252.8l8.6 8.6 -8.6 8.6 -8.6 -8.6zM733.9 252.5l8.6 8.6 -8.6 8.6 -8.6 -8.6zM734.6 252.2l8.6 8.6 -8.6 8.6 -8.6 -8.6zM735.3 251.8l8.6 8.6 -8.6 8.6 -8.6 -8.6zM736.0 251.4l8.6 8.6 -8.6 8.6 -8.6 -8.6zM736.7 250.9l8.6 8.6 -8.6 8.6 -8.6 -8.6zM737.4 250.8l8.6 8.6 -8.6 8.6 -8.6 -8.6zM738.1 250.7l8.6 8.6 -8.6 8.6 -8.6 -8.6zM738.7 250.3l8.6 8.6 -8.6 8.6 -8.6 -8.6zM739.4 249.9l8.6 8.6 -8.6 8.6 -8.6 -8.6zM740.1 249.7l8.6 8.6 -8.6 8.6 -8.6 -8.6zM740.8 249.3l8.6 8.6 -8.6 8.6 -8.6 -8.6zM741.4 248.9l8.6 8.6 -8.6 8.6 -8.6 -8.6zM742.1 248.5l8.6 8.6 -8.6 8.6 -8.6 -8.6zM742.7 248.3l8.6 8.6 -8.6 8.6 -8.6 -8.6zM743.4 247.8l8.6 8.6 -8.6 8.6 -8.6 -8.6zM744.0 247.3l8.6 8.6 -8.6 8.6 -8.6 -8.6zM744.7 247.2l8.6 8.6 -8.6 8.6 -8.6 -8.6zM745.3 247.2l8.6 8.6 -8.6 8.6 -8.6 -8.6zM746.0 246.5l8.6 8.6 -8.6 8.6 -8.6 -8.6zM746.6 246.1l8.6 8.6 -8.6 8.6 -8.6 -8.6zM747.2 246.2l8.6 8.6 -8.6 8.6 -8.6 -8.6zM747.9 246.0l8.6 8.6 -8.6 8.6 -8.6 -8.6zM748.5 245.6l8.6 8.6 -8.6 8.6 -8.6 -8.6zM749.1 245.4l8.6 8.6 -8.6 8.6 -8.6 -8.6zM749.7 245.1l8.6 8.6 -8.6 8.6 -8.6 -8.6zM750.3 245.0l8.6 8.6 -8.6 8.6 -8.6 -8.6zM750.9 244.9l8.6 8.6 -8.6 8.6 -8.6 -8.6zM751.6 244.5l8.6 8.6 -8.6 8.6 -8.6 -8.6zM752.2 243.9l8.6 8.6 -8.6 8.6 -8.6 -8.6zM752.8 243.9l8.6 8.6 -8.6 8.6 -8.6 -8.6zM754.0 243.2l8.6 8.6 -8.6 8.6 -8.6 -8.6zM755.1 242.7l8.6 8.6 -8.6 8.6 -8.6 -8.6zM756.3 242.2l8.6 8.6 -8.6 8.6 -8.6 -8.6zM757.5 241.4l8.6 8.6 -8.6 8.6 -8.6 -8.6zM758.6 241.1l8.6 8.6 -8.6 8.6 -8.6 -8.6zM759.7 240.7l8.6 8.6 -8.6 8.6 -8.6 -8.6zM760.9 240.3l8.6 8.6 -8.6 8.6 -8.6 -8.6zM762.0 240.0l8.6 8.6 -8.6 8.6 -8.6 -8.6zM763.1 239.3l8.6 8.6 -8.6 8.6 -8.6 -8.6zM764.2 238.9l8.6 8.6 -8.6 8.6 -8.6 -8.6zM765.3 238.1l8.6 8.6 -8.6 8.6 -8.6 -8.6zM766.3 237.9l8.6 8.6 -8.6 8.6 -8.6 -8.6zM767.4 237.1l8.6 8.6 -8.6 8.6 -8.6 -8.6zM768.4 236.7l8.6 8.6 -8.6 8.6 -8.6 -8.6zM769.5 236.8l8.6 8.6 -8.6 8.6 -8.6 -8.6zM770.5 236.0l8.6 8.6 -8.6 8.6 -8.6 -8.6zM771.5 235.6l8.6 8.6 -8.6 8.6 -8.6 -8.6zM772.6 235.5l8.6 8.6 -8.6 8.6 -8.6 -8.6zM773.6 234.6l8.6 8.6 -8.6 8.6 -8.6 -8.6zM774.6 234.2l8.6 8.6 -8.6 8.6 -8.6 -8.6zM775.6 233.9l8.6 8.6 -8.6 8.6 -8.6 -8.6zM776.5 233.3l8.6 8.6 -8.6 8.6 -8.6 -8.6zM777.5 232.9l8.6 8.6 -8.6 8.6 -8.6 -8.6zM778.5 232.2l8.6 8.6 -8.6 8.6 -8.6 -8.6zM779.4 232.0l8.6 8.6 -8.6 8.6 -8.6 -8.6zM780.4 231.4l8.6 8.6 -8.6 8.6 -8.6 -8.6zM781.3 231.2l8.6 8.6 -8.6 8.6 -8.6 -8.6zM782.2 231.3l8.6 8.6 -8.6 8.6 -8.6 -8.6zM783.2 230.6l8.6 8.6 -8.6 8.6 -8.6 -8.6zM784.1 230.2l8.6 8.6 -8.6 8.6 -8.6 -8.6zM785.0 230.0l8.6 8.6 -8.6 8.6 -8.6 -8.6zM785.9 229.5l8.6 8.6 -8.6 8.6 -8.6 -8.6zM786.8 229.1l8.6 8.6 -8.6 8.6 -8.6 -8.6zM787.7 228.7l8.6 8.6 -8.6 8.6 -8.6 -8.6zM788.6 228.4l8.6 8.6 -8.6 8.6 -8.6 -8.6zM789.5 228.1l8.6 8.6 -8.6 8.6 -8.6 -8.6zM790.3 227.3l8.6 8.6 -8.6 8.6 -8.6 -8.6zM791.2 227.1l8.6 8.6 -8.6 8.6 -8.6 -8.6zM792.0 226.8l8.6 8.6 -8.6 8.6 -8.6 -8.6zM792.9 226.7l8.6 8.6 -8.6 8.6 -8.6 -8.6zM793.7 225.9l8.6 8.6 -8.6 8.6 -8.6 -8.6zM794.6 225.8l8.6 8.6 -8.6 8.6 -8.6 -8.6zM795.4 224.9l8.6 8.6 -8.6 8.6 -8.6 -8.6zM796.2 224.5l8.6 8.6 -8.6 8.6 -8.6 -8.6zM797.1 224.3l8.6 8.6 -8.6 8.6 -8.6 -8.6zM797.9 223.8l8.6 8.6 -8.6 8.6 -8.6 -8.6zM798.7 223.4l8.6 8.6 -8.6 8.6 -8.6 -8.6zM799.5 223.3l8.6 8.6 -8.6 8.6 -8.6 -8.6zM800.3 223.1l8.6 8.6 -8.6 8.6 -8.6 -8.6zM801.1 222.5l8.6 8.6 -8.6 8.6 -8.6 -8.6zM801.9 222.1l8.6 8.6 -8.6 8.6 -8.6 -8.6zM802.6 221.6l8.6 8.6 -8.6 8.6 -8.6 -8.6zM803.4 221.2l8.6 8.6 -8.6 8.6 -8.6 -8.6zM804.2 221.0l8.6 8.6 -8.6 8.6 -8.6 -8.6zM804.9 220.3l8.6 8.6 -8.6 8.6 -8.6 -8.6zM805.7 220.4l8.6 8.6 -8.6 8.6 -8.6 -8.6zM806.5 220.0l8.6 8.6 -8.6 8.6 -8.6 -8.6zM807.2 219.7l8.6 8.6 -8.6 8.6 -8.6 -8.6zM808.0 219.5l8.6 8.6 -8.6 8.6 -8.6 -8.6zM808.7 219.3l8.6 8.6 -8.6 8.6 -8.6 -8.6zM809.4 218.7l8.6 8.6 -8.6 8.6 -8.6 -8.6zM810.2 218.6l8.6 8.6 -8.6 8.6 -8.6 -8.6zM810.9 218.7l8.6 8.6 -8.6 8.6 -8.6 -8.6zM811.6 218.3l8.6 8.6 -8.6 8.6 -8.6 -8.6zM812.3 217.7l8.6 8.6 -8.6 8.6 -8.6 -8.6zM813.0 217.5l8.6 8.6 -8.6 8.6 -8.6 -8.6zM813.8 217.4l8.6 8.6 -8.6 8.6 -8.6 -8.6zM814.5 217.3l8.6 8.6 -8.6 8.6 -8.6 -8.6zM815.2 216.8l8.6 8.6 -8.6 8.6 -8.6 -8.6zM815.9 216.2l8.6 8.6 -8.6 8.6 -8.6 -8.6zM816.5 216.2l8.6 8.6 -8.6 8.6 -8.6 -8.6zM817.2 215.5l8.6 8.6 -8.6 8.6 -8.6 -8.6zM817.9 215.1l8.6 8.6 -8.6 8.6 -8.6 -8.6zM818.6 215.2l8.6 8.6 -8.6 8.6 -8.6 -8.6zM819.3 214.5l8.6 8.6 -8.6 8.6 -8.6 -8.6zM819.9 214.3l8.6 8.6 -8.6 8.6 -8.6 -8.6zM820.6 213.7l8.6 8.6 -8.6 8.6 -8.6 -8.6zM821.3 213.4l8.6 8.6 -8.6 8.6 -8.6 -8.6zM821.9 212.9l8.6 8.6 -8.6 8.6 -8.6 -8.6zM822.6 213.0l8.6 8.6 -8.6 8.6 -8.6 -8.6zM823.3 212.4l8.6 8.6 -8.6 8.6 -8.6 -8.6zM823.9 212.5l8.6 8.6 -8.6 8.6 -8.6 -8.6zM824.5 212.0l8.6 8.6 -8.6 8.6 -8.6 -8.6zM825.2 212.2l8.6 8.6 -8.6 8.6 -8.6 -8.6zM825.8 212.0l8.6 8.6 -8.6 8.6 -8.6 -8.6zM826.5 211.0l8.6 8.6 -8.6 8.6 -8.6 -8.6zM827.1 211.3l8.6 8.6 -8.6 8.6 -8.6 -8.6zM827.7 211.0l8.6 8.6 -8.6 8.6 -8.6 -8.6zM828.3 210.5l8.6 8.6 -8.6 8.6 -8.6 -8.6zM829.0 210.5l8.6 8.6 -8.6 8.6 -8.6 -8.6zM829.6 210.5l8.6 8.6 -8.6 8.6 -8.6 -8.6zM830.2 210.6l8.6 8.6 -8.6 8.6 -8.6 -8.6zM830.8 209.6l8.6 8.6 -8.6 8.6 -8.6 -8.6zM831.4 209.5l8.6 8.6 -8.6 8.6 -8.6 -8.6zM832.0 208.8l8.6 8.6 -8.6 8.6 -8.6 -8.6zM832.6 208.7l8.6 8.6 -8.6 8.6 -8.6 -8.6zM833.5 208.3l8.6 8.6 -8.6 8.6 -8.6 -8.6zM834.4 208.2l8.6 8.6 -8.6 8.6 -8.6 -8.6zM835.3 207.8l8.6 8.6 -8.6 8.6 -8.6 -8.6zM836.2 207.2l8.6 8.6 -8.6 8.6 -8.6 -8.6zM837.0 207.4l8.6 8.6 -8.6 8.6 -8.6 -8.6zM837.9 207.2l8.6 8.6 -8.6 8.6 -8.6 -8.6zM838.8 206.7l8.6 8.6 -8.6 8.6 -8.6 -8.6zM839.6 206.5l8.6 8.6 -8.6 8.6 -8.6 -8.6zM840.5 206.0l8.6 8.6 -8.6 8.6 -8.6 -8.6zM841.3 205.8l8.6 8.6 -8.6 8.6 -8.6 -8.6zM842.1 205.3l8.6 8.6 -8.6 8.6 -8.6 -8.6zM842.9 204.5l8.6 8.6 -8.6 8.6 -8.6 -8.6zM843.8 204.1l8.6 8.6 -8.6 8.6 -8.6 -8.6zM844.6 203.6l8.6 8.6 -8.6 8.6 -8.6 -8.6zM845.4 203.0l8.6 8.6 -8.6 8.6 -8.6 -8.6zM846.2 202.7l8.6 8.6 -8.6 8.6 -8.6 -8.6zM847.0 202.7l8.6 8.6 -8.6 8.6 -8.6 -8.6zM847.8 202.1l8.6 8.6 -8.6 8.6 -8.6 -8.6zM848.6 202.1l8.6 8.6 -8.6 8.6 -8.6 -8.6zM849.4 201.9l8.6 8.6 -8.6 8.6 -8.6 -8.6zM850.1 201.4l8.6 8.6 -8.6 8.6 -8.6 -8.6zM850.9 201.3l8.6 8.6 -8.6 8.6 -8.6 -8.6zM851.7 201.6l8.6 8.6 -8.6 8.6 -8.6 -8.6zM852.4 201.3l8.6 8.6 -8.6 8.6 -8.6 -8.6zM853.2 201.1l8.6 8.6 -8.6 8.6 -8.6 -8.6zM853.9 200.7l8.6 8.6 -8.6 8.6 -8.6 -8.6zM854.7 200.3l8.6 8.6 -8.6 8.6 -8.6 -8.6zM855.4 199.9l8.6 8.6 -8.6 8.6 -8.6 -8.6zM856.2 199.4l8.6 8.6 -8.6 8.6 -8.6 -8.6zM856.9 199.2l8.6 8.6 -8.6 8.6 -8.6 -8.6zM857.6 198.6l8.6 8.6 -8.6 8.6 -8.6 -8.6zM858.3 198.3l8.6 8.6 -8.6 8.6 -8.6 -8.6zM859.1 197.8l8.6 8.6 -8.6 8.6 -8.6 -8.6zM859.8 197.5l8.6 8.6 -8.6 8.6 -8.6 -8.6zM860.5 197.6l8.6 8.6 -8.6 8.6 -8.6 -8.6zM861.2 197.0l8.6 8.6 -8.6 8.6 -8.6 -8.6zM861.9 196.9l8.6 8.6 -8.6 8.6 -8.6 -8.6zM862.6 196.7l8.6 8.6 -8.6 8.6 -8.6 -8.6zM863.3 196.2l8.6 8.6 -8.6 8.6 -8.6 -8.6zM864.0 195.8l8.6 8.6 -8.6 8.6 -8.6 -8.6zM864.6 195.7l8.6 8.6 -8.6 8.6 -8.6 -8.6zM865.3 195.4l8.6 8.6 -8.6 8.6 -8.6 -8.6zM866.0 195.1l8.6 8.6 -8.6 8.6 -8.6 -8.6zM866.7 194.6l8.6 8.6 -8.6 8.6 -8.6 -8.6zM867.3 194.4l8.6 8.6 -8.6 8.6 -8.6 -8.6zM868.0 194.3l8.6 8.6 -8.6 8.6 -8.6 -8.6zM868.7 194.1l8.6 8.6 -8.6 8.6 -8.6 -8.6zM869.3 193.1l8.6 8.6 -8.6 8.6 -8.6 -8.6zM870.0 193.4l8.6 8.6 -8.6 8.6 -8.6 -8.6zM870.6 193.2l8.6 8.6 -8.6 8.6 -8.6 -8.6zM871.3 193.3l8.6 8.6 -8.6 8.6 -8.6 -8.6zM871.9 193.2l8.6 8.6 -8.6 8.6 -8.6 -8.6zM872.5 192.2l8.6 8.6 -8.6 8.6 -8.6 -8.6zM873.2 192.6l8.6 8.6 -8.6 8.6 -8.6 -8.6zM873.8 192.3l8.6 8.6 -8.6 8.6 -8.6 -8.6zM874.4 192.3l8.6 8.6 -8.6 8.6 -8.6 -8.6zM875.1 192.2l8.6 8.6 -8.6 8.6 -8.6 -8.6zM875.7 191.8l8.6 8.6 -8.6 8.6 -8.6 -8.6zM876.3 191.2l8.6 8.6 -8.6 8.6 -8.6 -8.6zM876.9 190.6l8.6 8.6 -8.6 8.6 -8.6 -8.6zM877.5 190.2l8.6 8.6 -8.6 8.6 -8.6 -8.6zM878.1 189.9l8.6 8.6 -8.6 8.6 -8.6 -8.6zM878.7 189.4l8.6 8.6 -8.6 8.6 -8.6 -8.6zM879.3 189.5l8.6 8.6 -8.6 8.6 -8.6 -8.6zM880.1 189.2l8.6 8.6 -8.6 8.6 -8.6 -8.6zM880.9 188.9l8.6 8.6 -8.6 8.6 -8.6 -8.6zM881.7 188.7l8.6 8.6 -8.6 8.6 -8.6 -8.6zM882.5 188.7l8.6 8.6 -8.6 8.6 -8.6 -8.6zM883.3 188.6l8.6 8.6 -8.6 8.6 -8.6 -8.6zM884.0 188.0l8.6 8.6 -8.6 8.6 -8.6 -8.6zM884.8 188.0l8.6 8.6 -8.6 8.6 -8.6 -8.6zM885.6 187.5l8.6 8.6 -8.6 8.6 -8.6 -8.6zM886.3 186.6l8.6 8.6 -8.6 8.6 -8.6 -8.6zM887.1 185.8l8.6 8.6 -8.6 8.6 -8.6 -8.6zM887.8 185.7l8.6 8.6 -8.6 8.6 -8.6 -8.6zM888.6 185.4l8.6 8.6 -8.6 8.6 -8.6 -8.6zM889.3 184.4l8.6 8.6 -8.6 8.6 -8.6 -8.6zM890.0 184.4l8.6 8.6 -8.6 8.6 -8.6 -8.6zM890.8 184.1l8.6 8.6 -8.6 8.6 -8.6 -8.6zM891.5 184.2l8.6 8.6 -8.6 8.6 -8.6 -8.6zM892.2 184.4l8.6 8.6 -8.6 8.6 -8.6 -8.6zM892.9 184.1l8.6 8.6 -8.6 8.6 -8.6 -8.6zM893.6 183.9l8.6 8.6 -8.6 8.6 -8.6 -8.6zM894.3 183.4l8.6 8.6 -8.6 8.6 -8.6 -8.6zM895.0 183.2l8.6 8.6 -8.6 8.6 -8.6 -8.6zM895.7 182.1l8.6 8.6 -8.6 8.6 -8.6 -8.6zM896.4 181.6l8.6 8.6 -8.6 8.6 -8.6 -8.6zM897.1 181.8l8.6 8.6 -8.6 8.6 -8.6 -8.6zM897.8 181.1l8.6 8.6 -8.6 8.6 -8.6 -8.6zM898.5 180.9l8.6 8.6 -8.6 8.6 -8.6 -8.6zM899.1 180.2l8.6 8.6 -8.6 8.6 -8.6 -8.6zM899.8 179.8l8.6 8.6 -8.6 8.6 -8.6 -8.6zM900.5 180.1l8.6 8.6 -8.6 8.6 -8.6 -8.6zM901.1 180.1l8.6 8.6 -8.6 8.6 -8.6 -8.6zM901.8 179.2l8.6 8.6 -8.6 8.6 -8.6 -8.6zM902.5 179.0l8.6 8.6 -8.6 8.6 -8.6 -8.6zM903.1 178.3l8.6 8.6 -8.6 8.6 -8.6 -8.6zM903.8 177.7l8.6 8.6 -8.6 8.6 -8.6 -8.6zM904.4 178.0l8.6 8.6 -8.6 8.6 -8.6 -8.6zM905.1 177.5l8.6 8.6 -8.6 8.6 -8.6 -8.6zM905.7 177.0l8.6 8.6 -8.6 8.6 -8.6 -8.6zM906.3 176.1l8.6 8.6 -8.6 8.6 -8.6 -8.6zM907.0 175.7l8.6 8.6 -8.6 8.6 -8.6 -8.6zM907.6 176.2l8.6 8.6 -8.6 8.6 -8.6 -8.6zM908.2 175.8l8.6 8.6 -8.6 8.6 -8.6 -8.6zM908.8 175.4l8.6 8.6 -8.6 8.6 -8.6 -8.6zM909.4 175.1l8.6 8.6 -8.6 8.6 -8.6 -8.6zM910.1 174.7l8.6 8.6 -8.6 8.6 -8.6 -8.6zM910.7 174.8l8.6 8.6 -8.6 8.6 -8.6 -8.6zM911.3 174.9l8.6 8.6 -8.6 8.6 -8.6 -8.6zM911.9 174.6l8.6 8.6 -8.6 8.6 -8.6 -8.6zM912.5 174.4l8.6 8.6 -8.6 8.6 -8.6 -8.6zM913.2 173.9l8.6 8.6 -8.6 8.6 -8.6 -8.6zM914.0 172.9l8.6 8.6 -8.6 8.6 -8.6 -8.6zM914.7 172.7l8.6 8.6 -8.6 8.6 -8.6 -8.6zM915.4 172.6l8.6 8.6 -8.6 8.6 -8.6 -8.6zM916.2 172.1l8.6 8.6 -8.6 8.6 -8.6 -8.6zM916.9 171.6l8.6 8.6 -8.6 8.6 -8.6 -8.6zM917.6 170.7l8.6 8.6 -8.6 8.6 -8.6 -8.6zM918.3 170.4l8.6 8.6 -8.6 8.6 -8.6 -8.6zM919.0 170.1l8.6 8.6 -8.6 8.6 -8.6 -8.6zM919.8 169.0l8.6 8.6 -8.6 8.6 -8.6 -8.6zM920.5 169.2l8.6 8.6 -8.6 8.6 -8.6 -8.6zM921.2 168.6l8.6 8.6 -8.6 8.6 -8.6 -8.6zM921.8 168.7l8.6 8.6 -8.6 8.6 -8.6 -8.6zM922.5 169.0l8.6 8.6 -8.6 8.6 -8.6 -8.6zM923.2 167.9l8.6 8.6 -8.6 8.6 -8.6 -8.6zM923.9 167.7l8.6 8.6 -8.6 8.6 -8.6 -8.6zM924.6 166.9l8.6 8.6 -8.6 8.6 -8.6 -8.6zM925.3 166.0l8.6 8.6 -8.6 8.6 -8.6 -8.6zM925.9 165.2l8.6 8.6 -8.6 8.6 -8.6 -8.6zM926.6 164.8l8.6 8.6 -8.6 8.6 -8.6 -8.6zM927.3 164.2l8.6 8.6 -8.6 8.6 -8.6 -8.6zM927.9 163.7l8.6 8.6 -8.6 8.6 -8.6 -8.6zM928.6 163.7l8.6 8.6 -8.6 8.6 -8.6 -8.6zM929.2 163.7l8.6 8.6 -8.6 8.6 -8.6 -8.6zM929.9 163.6l8.6 8.6 -8.6 8.6 -8.6 -8.6zM930.5 162.1l8.6 8.6 -8.6 8.6 -8.6 -8.6zM931.1 161.9l8.6 8.6 -8.6 8.6 -8.6 -8.6zM931.8 161.0l8.6 8.6 -8.6 8.6 -8.6 -8.6zM932.4 160.8l8.6 8.6 -8.6 8.6 -8.6 -8.6zM933.0 161.0l8.6 8.6 -8.6 8.6 -8.6 -8.6zM933.7 160.4l8.6 8.6 -8.6 8.6 -8.6 -8.6zM934.3 160.7l8.6 8.6 -8.6 8.6 -8.6 -8.6zM934.9 160.1l8.6 8.6 -8.6 8.6 -8.6 -8.6zM935.5 160.4l8.6 8.6 -8.6 8.6 -8.6 -8.6zM936.1 159.8l8.6 8.6 -8.6 8.6 -8.6 -8.6zM936.7 158.4l8.6 8.6 -8.6 8.6 -8.6 -8.6zM937.4 157.3l8.6 8.6 -8.6 8.6 -8.6 -8.6zM938.0 157.3l8.6 8.6 -8.6 8.6 -8.6 -8.6zM938.7 156.8l8.6 8.6 -8.6 8.6 -8.6 -8.6zM939.4 156.0l8.6 8.6 -8.6 8.6 -8.6 -8.6zM940.1 155.2l8.6 8.6 -8.6 8.6 -8.6 -8.6zM940.8 154.5l8.6 8.6 -8.6 8.6 -8.6 -8.6zM941.5 153.6l8.6 8.6 -8.6 8.6 -8.6 -8.6zM942.2 153.5l8.6 8.6 -8.6 8.6 -8.6 -8.6zM942.9 152.5l8.6 8.6 -8.6 8.6 -8.6 -8.6z" fill="#00ff00"/>
<path d="M147.0 465.2l8.95 15.5h-17.9zM226.9 445.6l8.95 15.5h-17.9zM273.6 432.9l8.95 15.5h-17.9zM306.7 421.0l8.95 15.5h-17.9zM332.4 411.6l8.95 15.5h-17.9zM353.4 404.1l8.95 15.5h-17.9zM371.2 397.6l8.95 15.5h-17.9zM386.6 391.8l8.95 15.5h-17.9zM400.2 386.6l8.95 15.5h-17.9zM412.3 382.1l8.95 15.5h-17.9zM423.3 377.9l8.95 15.5h-17.9zM433.3 374.0l8.95 15.5h-17.9zM442.5 370.5l8.95 15.5h-17.9zM451.1 367.2l8.95 15.5h-17.9zM459.0 364.2l8.95 15.5h-17.9zM466.5 361.2l8.95 15.5h-17.9zM473.4 358.6l8.95 15.5h-17.9zM480.0 356.0l8.95 15.5h-17.9zM486.3 353.8l8.95 15.5h-17.9zM492.2 351.5l8.95 15.5h-17.9zM497.8 349.6l8.95 15.5h-17.9zM503.1 347.5l8.95 15.5h-17.9zM508.3 345.7l8.95 15.5h-17.9zM513.2 343.8l8.95 15.5h-17.9zM517.9 342.0l8.95 15.5h-17.9zM522.4 340.3l8.95 15.5h-17.9zM526.7 338.5l8.95 15.5h-17.9zM530.9 337.1l8.95 15.5h-17.9zM535.0 335.3l8.95 15.5h-17.9zM538.9 333.9l8.95 15.5h-17.9zM542.7 332.6l8.95 15.5h-17.9zM546.3 331.1l8.95 15.5h-17.9zM549.9 329.8l8.95 15.5h-17.9zM553.3 328.3l8.95 15.5h-17.9zM556.6 327.1l8.95 15.5h-17.9zM559.9 325.9l8.95 15.5h-17.9zM563.0 324.7l8.95 15.5h-17.9zM566.1 323.4l8.95 15.5h-17.9zM569.1 322.2l8.95 15.5h-17.9zM572.0 321.1l8.95 15.5h-17.9zM574.9 319.7l8.95 15.5h-17.9zM577.6 318.7l8.95 15.5h-17.9zM580.4 317.7l8.95 15.5h-17.9zM583.0 316.7l8.95 15.5h-17.9zM585.6 315.6l8.95 15.5h-17.9zM588.1 314.5l8.95 15.5h-17.9zM590.6 313.7l8.95 15.5h-17.9zM593.0 312.6l8.95 15.5h-17.9zM595.4 311.7l8.95 15.5h-17.9zM597.7 311.0l8.95 15.5h-17.9zM600.0 310.0l8.95 15.5h-17.9zM602.3 309.4l8.95 15.5h-17.9zM604.5 308.7l8.95 15.5h-17.9zM606.6 308.1l8.95 15.5h-17.9zM608.7 307.4l8.95 15.5h-17.9zM610.8 306.9l8.95 15.5h-17.9zM612.8 306.2l8.95 15.5h-17.9zM614.8 305.6l8.95 15.5h-17.9zM616.8 304.8l8.95 15.5h-17.9zM618.7 304.2l8.95 15.5h-17.9zM620.6 303.8l8.95 15.5h-17.9zM622.5 303.3l8.95 15.5h-17.9zM624.4 302.6l8.95 15.5h-17.9zM626.2 301.9l8.95 15.5h-17.9zM628.0 301.6l8.95 15.5h-17.9zM629.7 301.1l8.95 15.5h-17.9zM631.5 300.5l8.95 15.5h-17.9zM633.2 299.6l8.95 15.5h-17.9zM634.8 299.4l8.95 15.5h-17.9zM636.5 298.8l8.95 15.5h-17.9zM638.1 298.3l8.95 15.5h-17.9zM639.8 297.8l8.95 15.5h-17.9zM641.3 297.4l8.95 15.5h-17.9zM642.9 296.5l8.95 15.5h-17.9zM644.5 295.9l8.95 15.5h-17.9zM646.0 295.4l8.95 15.5h-17.9zM647.5 294.9l8.95 15.5h-17.9zM649.0 294.2l8.95 15.5h-17.9zM650.4 293.7l8.95 15.5h-17.9zM651.9 293.3l8.95 15.5h-17.9zM653.3 292.8l8.95 15.5h-17.9zM654.7 291.9l8.95 15.5h-17.9zM656.1 291.3l8.95 15.5h-17.9zM657.5 291.1l8.95 15.5h-17.9zM658.9 290.4l8.95 15.5h-17.9zM660.2 289.7l8.95 15.5h-17.9zM661.6 289.1l8.95 15.5h-17.9zM662.9 288.6l8.95 15.5h-17.9zM664.2 287.9l8.95 15.5h-17.9zM665.5 287.5l8.95 15.5h-17.9zM666.7 287.1l8.95 15.5h-17.9zM668.0 286.3l8.95 15.5h-17.9zM669.2 286.0l8.95 15.5h-17.9zM670.5 285.3l8.95 15.5h-17.9zM671.7 284.9l8.95 15.5h-17.9zM672.9 284.4l8.95 15.5h-17.9zM674.1 283.6l8.95 15.5h-17.9zM675.3 283.3l8.95 15.5h-17.9zM676.4 282.8l8.95 15.5h-17.9zM677.6 282.2l8.95 15.5h-17.9zM678.7 281.9l8.95 15.5h-17.9zM679.9 281.5l8.95 15.5h-17.9zM681.0 280.8l8.95 15.5h-17.9zM682.1 280.7l8.95 15.5h-17.9zM683.2 280.1l8.95 15.5h-17.9zM684.3 279.6l8.95 15.5h-17.9zM685.4 279.5l8.95 15.5h-17.9zM686.5 278.6l8.95 15.5h-17.9zM687.5 278.3l8.95 15.5h-17.9zM688.6 277.8l8.95 15.5h-17.9zM689.6 277.6l8.95 15.5h-17.9zM690.7 277.0l8.95 15.5h-17.9zM691.7 276.9l8.95 15.5h-17.9zM692.7 276.5l8.95 15.5h-17.9zM693.7 276.1l8.95 15.5h-17.9zM694.7 275.5l8.95 15.5h-17.9zM695.7 275.0l8.95 15.5h-17.9zM696.7 274.7l8.95 15.5h-17.9zM697.6 274.7l8.95 15.5h-17.9zM698.6 274.1l8.95 15.5h-17.9zM699.6 273.7l8.95 15.5h-17.9zM700.5 273.6l8.95 15.5h-17.9zM701.5 273.6l8.95 15.5h-17.9zM702.4 272.8l8.95 15.5h-17.9zM703.3 272.5l8.95 15.5h-17.9zM704.2 272.1l8.95 15.5h-17.9zM705.1 271.7l8.95 15.5h-17.9zM706.0 271.3l8.95 15.5h-17.9zM706.9 270.9l8.95 15.5h-17.9zM707.8 270.6l8.95 15.5h-17.9zM708.7 270.1l8.95 15.5h-17.9zM709.6 270.3l8.95 15.5h-17.9zM710.5 269.8l8.95 15.5h-17.9zM711.3 269.3l8.95 15.5h-17.9zM712.2 269.0l8.95 15.5h-17.9zM713.0 268.6l8.95 15.5h-17.9zM713.9 268.7l8.95 15.5h-17.9zM714.7 268.5l8.95 15.5h-17.9zM715.5 268.2l8.95 15.5h-17.9zM716.4 267.8l8.95 15.5h-17.9zM717.2 267.8l8.95 15.5h-17.9zM718.0 267.7l8.95 15.5h-17.9zM718.8 267.2l8.95 15.5h-17.9zM719.6 266.8l8.95 15.5h-17.9zM720.4 266.5l8.95 15.5h-17.9zM721.2 266.4l8.95 15.5h-17.9zM722.0 266.0l8.95 15.5h-17.9zM722.8 265.7l8.95 15.5h-17.9zM723.5 265.3l8.95 15.5h-17.9zM724.3 265.3l8.95 15.5h-17.9zM725.1 265.1l8.95 15.5h-17.9zM725.8 264.9l8.95 15.5h-17.9zM726.6 264.7l8.95 15.5h-17.9zM727.3 264.3l8.95 15.5h-17.9zM728.1 263.9l8.95 15.5h-17.9zM728.8 263.9l8.95 15.5h-17.9zM729.6 264.1l8.95 15.5h-17.9zM730.3 263.6l8.95 15.5h-17.9zM731.0 263.0l8.95 15.5h-17.9zM731.8 263.1l8.95 15.5h-17.9zM732.5 262.5l8.95 15.5h-17.9zM733.2 262.1l8.95 15.5h-17.9zM733.9 261.8l8.95 15.5h-17.9zM734.6 261.5l8.95 15.5h-17.9zM735.3 261.5l8.95 15.5h-17.9zM736.0 261.2l8.95 15.5h-17.9zM736.7 260.7l8.95 15.5h-17.9zM737.4 260.8l8.95 15.5h-17.9zM738.1 260.0l8.95 15.5h-17.9zM738.7 260.0l8.95 15.5h-17.9zM739.4 259.8l8.95 15.5h-17.9zM740.1 259.5l8.95 15.5h-17.9zM740.8 259.2l8.95 15.5h-17.9zM741.4 259.0l8.95 15.5h-17.9zM742.1 258.6l8.95 15.5h-17.9zM742.7 258.4l8.95 15.5h-17.9zM743.4 258.4l8.95 15.5h-17.9zM744.0 258.3l8.95 15.5h-17.9zM744.7 258.3l8.95 15.5h-17.9zM745.3 257.9l8.95 15.5h-17.9zM746.0 257.4l8.95 15.5h-17.9zM746.6 257.2l8.95 15.5h-17.9zM747.2 256.5l8.95 15.5h-17.9zM747.9 256.0l8.95 15.5h-17.9zM748.5 255.8l8.95 15.5h-17.9zM749.1 256.0l8.95 15.5h-17.9zM749.7 255.5l8.95 15.5h-17.9zM750.3 255.5l8.95 15.5h-17.9zM750.9 255.3l8.95 15.5h-17.9zM751.6 255.3l8.95 15.5h-17.9zM752.2 255.3l8.95 15.5h-17.9zM752.8 254.9l8.95 15.5h-17.9zM754.0 254.4l8.95 15.5h-17.9zM755.1 253.8l8.95 15.5h-17.9zM756.3 253.1l8.95 15.5h-17.9zM757.5 253.4l8.95 15.5h-17.9zM758.6 252.7l8.95 15.5h-17.9zM759.7 252.4l8.95 15.5h-17.9zM760.9 252.0l8.95 15.5h-17.9zM762.0 251.6l8.95 15.5h-17.9zM763.1 250.9l8.95 15.5h-17.9zM764.2 250.7l8.95 15.5h-17.9zM765.3 250.4l8.95 15.5h-17.9zM766.3 250.4l8.95 15.5h-17.9zM767.4 250.3l8.95 15.5h-17.9zM768.4 249.8l8.95 15.5h-17.9zM769.5 249.4l8.95 15.5h-17.9zM770.5 249.2l8.95 15.5h-17.9zM771.5 248.4l8.95 15.5h-17.9zM772.6 248.4l8.95 15.5h-17.9zM773.6 247.8l8.95 15.5h-17.9zM774.6 247.6l8.95 15.5h-17.9zM775.6 247.3l8.95 15.5h-17.9zM776.5 246.9l8.95 15.5h-17.9zM777.5 246.5l8.95 15.5h-17.9zM778.5 246.1l8.95 15.5h-17.9zM779.4 246.1l8.95 15.5h-17.9zM780.4 245.5l8.95 15.5h-17.9zM781.3 245.2l8.95 15.5h-17.9zM782.2 244.8l8.95 15.5h-17.9zM783.2 244.3l8.95 15.5h-17.9zM784.1 244.0l8.95 15.5h-17.9zM785.0 243.3l8.95 15.5h-17.9zM785.9 243.1l8.95 15.5h-17.9zM786.8 243.6l8.95 15.5h-17.9zM787.7 243.6l8.95 15.5h-17.9zM788.6 242.7l8.95 15.5h-17.9zM789.5 243.0l8.95 15.5h-17.9zM790.3 242.4l8.95 15.5h-17.9zM791.2 242.2l8.95 15.5h-17.9zM792.0 241.8l8.95 15.5h-17.9zM792.9 241.3l8.95 15.5h-17.9zM793.7 240.9l8.95 15.5h-17.9zM794.6 240.7l8.95 15.5h-17.9zM795.4 240.7l8.95 15.5h-17.9zM796.2 240.2l8.95 15.5h-17.9zM797.1 240.0l8.95 15.5h-17.9zM797.9 239.5l8.95 15.5h-17.9zM798.7 239.2l8.95 15.5h-17.9zM799.5 238.6l8.95 15.5h-17.9zM800.3 238.4l8.95 15.5h-17.9zM801.1 238.0l8.95 15.5h-17.9zM801.9 237.9l8.95 15.5h-17.9zM802.6 237.9l8.95 15.5h-17.9zM803.4 237.4l8.95 15.5h-17.9zM804.2 236.9l8.95 15.5h-17.9zM804.9 237.0l8.95 15.5h-17.9zM805.7 237.3l8.95 15.5h-17.9zM806.5 237.0l8.95 15.5h-17.9zM807.2 236.9l8.95 15.5h-17.9zM808.0 237.1l8.95 15.5h-17.9zM808.7 236.9l8.95 15.5h-17.9zM809.4 236.3l8.95 15.5h-17.9zM810.2 236.2l8.95 15.5h-17.9zM810.9 236.4l8.95 15.5h-17.9zM811.6 236.1l8.95 15.5h-17.9zM812.3 236.4l8.95 15.5h-17.9zM813.0 236.1l8.95 15.5h-17.9zM813.8 235.6l8.95 15.5h-17.9zM814.5 236.4l8.95 15.5h-17.9zM815.2 235.6l8.95 15.5h-17.9zM815.9 235.9l8.95 15.5h-17.9zM816.5 235.7l8.95 15.5h-17.9zM817.2 235.9l8.95 15.5h-17.9zM817.9 235.1l8.95 15.5h-17.9zM818.6 235.0l8.95 15.5h-17.9zM819.3 234.9l8.95 15.5h-17.9zM819.9 235.1l8.95 15.5h-17.9zM820.6 235.1l8.95 15.5h-17.9zM821.3 235.0l8.95 15.5h-17.9zM821.9 234.9l8.95 15.5h-17.9zM822.6 234.7l8.95 15.5h-17.9zM823.3 234.6l8.95 15.5h-17.9zM823.9 234.5l8.95 15.5h-17.9zM824.5 234.3l8.95 15.5h-17.9zM825.2 233.9l8.95 15.5h-17.9zM825.8 234.3l8.95 15.5h-17.9zM826.5 233.7l8.95 15.5h-17.9zM827.1 233.8l8.95 15.5h-17.9zM827.7 233.3l8.95 15.5h-17.9zM828.3 233.0l8.95 15.5h-17.9zM829.0 233.2l8.95 15.5h-17.9zM829.6 232.4l8.95 15.5h-17.9zM830.2 232.3l8.95 15.5h-17.9zM830.8 232.5l8.95 15.5h-17.9zM831.4 232.3l8.95 15.5h-17.9zM832.0 232.3l8.95 15.5h-17.9zM832.6 232.9l8.95 15.5h-17.9zM833.5 232.1l8.95 15.5h-17.9zM834.4 232.1l8.95 15.5h-17.9zM835.3 231.3l8.95 15.5h-17.9zM836.2 231.3l8.95 15.5h-17.9zM837.0 231.1l8.95 15.5h-17.9zM837.9 230.9l8.95 15.5h-17.9zM838.8 231.1l8.95 15.5h-17.9zM839.6 230.4l8.95 15.5h-17.9zM840.5 230.1l8.95 15.5h-17.9zM841.3 229.4l8.95 15.5h-17.9zM842.1 229.4l8.95 15.5h-17.9zM842.9 229.8l8.95 15.5h-17.9zM843.8 229.5l8.95 15.5h-17.9zM844.6 229.3l8.95 15.5h-17.9zM845.4 229.3l8.95 15.5h-17.9zM846.2 228.8l8.95 15.5h-17.9zM847.0 228.4l8.95 15.5h-17.9zM847.8 228.6l8.95 15.5h-17.9zM848.6 228.8l8.95 15.5h-17.9zM849.4 228.3l8.95 15.5h-17.9zM850.1 228.1l8.95 15.5h-17.9zM850.9 227.6l8.95 15.5h-17.9zM851.7 227.7l8.95 15.5h-17.9zM852.4 227.5l8.95 15.5h-17.9zM853.2 227.6l8.95 15.5h-17.9zM853.9 227.8l8.95 15.5h-17.9zM854.7 227.8l8.95 15.5h-17.9zM855.4 228.0l8.95 15.5h-17.9zM856.2 228.4l8.95 15.5h-17.9zM856.9 228.2l8.95 15.5h-17.9zM857.6 228.1l8.95 15.5h-17.9zM858.3 227.3l8.95 15.5h-17.9zM859.1 227.6l8.95 15.5h-17.9zM859.8 227.6l8.95 15.5h-17.9zM860.5 227.1l8.95 15.5h-17.9zM861.2 226.3l8.95 15.5h-17.9zM861.9 226.0l8.95 15.5h-17.9zM862.6 226.0l8.95 15.5h-17.9zM863.3 225.7l8.95 15.5h-17.9zM864.0 225.7l8.95 15.5h-17.9zM864.6 225.4l8.95 15.5h-17.9zM865.3 226.2l8.95 15.5h-17.9zM866.0 225.8l8.95 15.5h-17.9zM866.7 225.3l8.95 15.5h-17.9zM867.3 225.7l8.95 15.5h-17.9zM868.0 225.5l8.95 15.5h-17.9zM868.7 226.0l8.95 15.5h-17.9zM869.3 225.7l8.95 15.5h-17.9zM870.0 225.7l8.95 15.5h-17.9zM870.6 225.5l8.95 15.5h-17.9zM871.3 224.8l8.95 15.5h-17.9zM871.9 224.6l8.95 15.5h-17.9zM872.5 224.5l8.95 15.5h-17.9zM873.2 224.1l8.95 15.5h-17.9zM873.8 224.2l8.95 15.5h-17.9zM874.4 223.8l8.95 15.5h-17.9zM875.1 223.8l8.95 15.5h-17.9zM875.7 223.6l8.95 15.5h-17.9zM876.3 223.4l8.95 15.5h-17.9zM876.9 223.0l8.95 15.5h-17.9zM877.5 223.3l8.95 15.5h-17.9zM878.1 222.9l8.95 15.5h-17.9zM878.7 222.6l8.95 15.5h-17.9zM879.3 222.8l8.95 15.5h-17.9zM880.1 222.3l8.95 15.5h-17.9zM880.9 222.5l8.95 15.5h-17.9zM881.7 222.0l8.95 15.5h-17.9zM882.5 221.8l8.95 15.5h-17.9zM883.3 221.5l8.95 15.5h-17.9zM884.0 221.6l8.95 15.5h-17.9zM884.8 222.0l8.95 15.5h-17.9zM885.6 221.2l8.95 15.5h-17.9zM886.3 220.9l8.95 15.5h-17.9zM887.1 221.2l8.95 15.5h-17.9zM887.8 221.4l8.95 15.5h-17.9zM888.6 221.0l8.95 15.5h-17.9zM889.3 220.5l8.95 15.5h-17.9zM890.0 220.2l8.95 15.5h-17.9zM890.8 220.5l8.95 15.5h-17.9zM891.5 220.6l8.95 15.5h-17.9zM892.2 220.9l8.95 15.5h-17.9zM892.9 220.5l8.95 15.5h-17.9zM893.6 220.1l8.95 15.5h-17.9zM894.3 219.4l8.95 15.5h-17.9zM895.0 219.9l8.95 15.5h-17.9zM895.7 220.0l8.95 15.5h-17.9zM896.4 219.0l8.95 15.5h-17.9zM897.1 219.2l8.95 15.5h-17.9zM897.8 219.0l8.95 15.5h-17.9zM898.5 219.0l8.95 15.5h-17.9zM899.1 219.0l8.95 15.5h-17.9zM899.8 218.7l8.95 15.5h-17.9zM900.5 218.1l8.95 15.5h-17.9zM901.1 217.5l8.95 15.5h-17.9zM901.8 217.0l8.95 15.5h-17.9zM902.5 216.9l8.95 15.5h-17.9zM903.1 216.5l8.95 15.5h-17.9zM903.8 216.3l8.95 15.5h-17.9zM904.4 217.0l8.95 15.5h-17.9zM905.1 216.6l8.95 15.5h-17.9zM905.7 217.2l8.95 15.5h-17.9zM906.3 217.6l8.95 15.5h-17.9zM907.0 217.9l8.95 15.5h-17.9zM907.6 217.6l8.95 15.5h-17.9zM908.2 217.7l8.95 15.5h-17.9zM908.8 217.9l8.95 15.5h-17.9zM909.4 217.3l8.95 15.5h-17.9zM910.1 217.7l8.95 15.5h-17.9zM910.7 217.6l8.95 15.5h-17.9zM911.3 217.4l8.95 15.5h-17.9zM911.9 217.1l8.95 15.5h-17.9zM912.5 217.6l8.95 15.5h-17.9zM913.2 217.1l8.95 15.5h-17.9zM914.0 216.8l8.95 15.5h-17.9zM914.7 216.8l8.95 15.5h-17.9zM915.4 216.7l8.95 15.5h-17.9zM916.2 216.2l8.95 15.5h-17.9zM916.9 215.5l8.95 15.5h-17.9zM917.6 215.9l8.95 15.5h-17.9zM918.3 215.8l8.95 15.5h-17.9zM919.0 215.0l8.95 15.5h-17.9zM919.8 215.2l8.95 15.5h-17.9zM920.5 215.2l8.95 15.5h-17.9zM921.2 215.1l8.95 15.5h-17.9zM921.8 214.5l8.95 15.5h-17.9zM922.5 214.5l8.95 15.5h-17.9zM923.2 214.3l8.95 15.5h-17.9zM923.9 214.2l8.95 15.5h-17.9zM924.6 213.8l8.95 15.5h-17.9zM925.3 213.7l8.95 15.5h-17.9zM925.9 213.6l8.95 15.5h-17.9zM926.6 213.8l8.95 15.5h-17.9zM927.3 213.3l8.95 15.5h-17.9zM927.9 213.9l8.95 15.5h-17.9zM928.6 213.4l8.95 15.5h-17.9zM929.2 213.8l8.95 15.5h-17.9zM929.9 213.0l8.95 15.5h-17.9zM930.5 213.0l8.95 15.5h-17.9zM931.1 213.3l8.95 15.5h-17.9zM931.8 212.8l8.95 15.5h-17.9zM932.4 212.4l8.95 15.5h-17.9zM933.0 212.4l8.95 15.5h-17.9zM933.7 212.6l8.95 15.5h-17.9zM934.3 212.1l8.95 15.5h-17.9zM934.9 211.2l8.95 15.5h-17.9zM935.5 211.7l8.95 15.5h-17.9zM936.1 211.9l8.95 15.5h-17.9zM936.7 211.9l8.95 15.5h-17.9zM937.4 211.2l8.95 15.5h-17.9zM938.0 211.1l8.95 15.5h-17.9zM938.7 211.8l8.95 15.5h-17.9zM939.4 211.1l8.95 15.5h-17.9zM940.1 211.0l8.95 15.5h-17.9zM940.8 211.5l8.95 15.5h-17.9zM941.5 211.1l8.95 15.5h-17.9zM942.2 211.5l8.95 15.5h-17.9zM942.9 211.5l8.95 15.5h-17.9z" fill="#0000ff"/>
<path d="M147.0 486.3l8.95 -15.5h-17.9zM226.9 469.1l8.95 -15.5h-17.9zM273.6 455.8l8.95 -15.5h-17.9zM306.7 444.1l8.95 -15.5h-17.9zM332.4 435.5l8.95 -15.5h-17.9zM353.4 427.3l8.95 -15.5h-17.9zM371.2 420.4l8.95 -15.5h-17.9zM386.6 415.0l8.95 -15.5h-17.9zM400.2 410.5l8.95 -15.5h-17.9zM412.3 406.3l8.95 -15.5h-17.9zM423.3 402.6l8.95 -15.5h-17.9zM433.3 399.1l8.95 -15.5h-17.9zM442.5 395.9l8.95 -15.5h-17.9zM451.1 393.1l8.95 -15.5h-17.9zM459.0 390.2l8.95 -15.5h-17.9zM466.5 387.5l8.95 -15.5h-17.9zM473.4 384.9l8.95 -15.5h-17.9zM480.0 382.5l8.95 -15.5h-17.9zM486.3 380.0l8.95 -15.5h-17.9zM492.2 377.8l8.95 -15.5h-17.9zM497.8 375.6l8.95 -15.5h-17.9zM503.1 373.4l8.95 -15.5h-17.9zM508.3 371.3l8.95 -15.5h-17.9zM513.2 369.4l8.95 -15.5h-17.9zM517.9 367.6l8.95 -15.5h-17.9zM522.4 365.8l8.95 -15.5h-17.9zM526.7 364.1l8.95 -15.5h-17.9zM530.9 362.4l8.95 -15.5h-17.9zM535.0 361.0l8.95 -15.5h-17.9zM538.9 359.4l8.95 -15.5h-17.9zM542.7 358.0l8.95 -15.5h-17.9zM546.3 356.6l8.95 -15.5h-17.9zM549.9 355.2l8.95 -15.5h-17.9zM553.3 354.0l8.95 -15.5h-17.9zM556.6 352.6l8.95 -15.5h-17.9zM559.9 351.6l8.95 -15.5h-17.9zM563.0 350.3l8.95 -15.5h-17.9zM566.1 349.2l8.95 -15.5h-17.9zM569.1 347.9l8.95 -15.5h-17.9zM572.0 347.0l8.95 -15.5h-17.9zM574.9 345.8l8.95 -15.5h-17.9zM577.6 344.9l8.95 -15.5h-17.9zM580.4 343.9l8.95 -15.5h-17.9zM583.0 342.7l8.95 -15.5h-17.9zM585.6 341.9l8.95 -15.5h-17.9zM588.1 340.9l8.95 -15.5h-17.9zM590.6 340.0l8.95 -15.5h-17.9zM593.0 339.2l8.95 -15.5h-17.9zM595.4 338.3l8.95 -15.5h-17.9zM597.7 337.5l8.95 -15.5h-17.9zM600.0 336.4l8.95 -15.5h-17.9zM602.3 335.8l8.95 -15.5h-17.9zM604.5 335.0l8.95 -15.5h-17.9zM606.6 334.3l8.95 -15.5h-17.9zM608.7 333.4l8.95 -15.5h-17.9zM610.8 332.9l8.95 -15.5h-17.9zM612.8 332.2l8.95 -15.5h-17.9zM614.8 331.3l8.95 -15.5h-17.9zM616.8 330.7l8.95 -15.5h-17.9zM618.7 330.2l8.95 -15.5h-17.9zM620.6 329.4l8.95 -15.5h-17.9zM622.5 328.8l8.95 -15.5h-17.9zM624.4 328.4l8.95 -15.5h-17.9zM626.2 327.8l8.95 -15.5h-17.9zM628.0 327.2l8.95 -15.5h-17.9zM629.7 326.7l8.95 -15.5h-17.9zM631.5 326.0l8.95 -15.5h-17.9zM633.2 325.5l8.95 -15.5h-17.9zM634.8 325.0l8.95 -15.5h-17.9zM636.5 324.5l8.95 -15.5h-17.9zM638.1 324.1l8.95 -15.5h-17.9zM639.8 323.3l8.95 -15.5h-17.9zM641.3 322.9l8.95 -15.5h-17.9zM642.9 322.4l8.95 -15.5h-17.9zM644.5 321.8l8.95 -15.5h-17.9zM646.0 321.3l8.95 -15.5h-17.9zM647.5 320.9l8.95 -15.5h-17.9zM649.0 320.1l8.95 -15.5h-17.9zM650.4 319.8l8.95 -15.5h-17.9zM651.9 319.1l8.95 -15.5h-17.9zM653.3 318.8l8.95 -15.5h-17.9zM654.7 318.4l8.95 -15.5h-17.9zM656.1 317.8l8.95 -15.5h-17.9zM657.5 317.2l8.95 -15.5h-17.9zM658.9 316.8l8.95 -15.5h-17.9zM660.2 316.3l8.95 -15.5h-17.9zM661.6 315.9l8.95 -15.5h-17.9zM662.9 315.5l8.95 -15.5h-17.9zM664.2 315.3l8.95 -15.5h-17.9zM665.5 314.7l8.95 -15.5h-17.9zM666.7 314.4l8.95 -15.5h-17.9zM668.0 313.8l8.95 -15.5h-17.9zM669.2 313.6l8.95 -15.5h-17.9zM670.5 313.1l8.95 -15.5h-17.9zM671.7 313.0l8.95 -15.5h-17.9zM672.9 312.5l8.95 -15.5h-17.9zM674.1 312.1l8.95 -15.5h-17.9zM675.3 311.8l8.95 -15.5h-17.9zM676.4 311.4l8.95 -15.5h-17.9zM677.6 311.1l8.95 -15.5h-17.9zM678.7 310.8l8.95 -15.5h-17.9zM679.9 310.3l8.95 -15.5h-17.9zM681.0 310.1l8.95 -15.5h-17.9zM682.1 309.7l8.95 -15.5h-17.9zM683.2 309.5l8.95 -15.5h-17.9zM684.3 309.2l8.95 -15.5h-17.9zM685.4 309.1l8.95 -15.5h-17.9zM686.5 308.6l8.95 -15.5h-17.9zM687.5 308.4l8.95 -15.5h-17.9zM688.6 308.0l8.95 -15.5h-17.9zM689.6 307.9l8.95 -15.5h-17.9zM690.7 307.5l8.95 -15.5h-17.9zM691.7 307.1l8.95 -15.5h-17.9zM692.7 307.2l8.95 -15.5h-17.9zM693.7 306.7l8.95 -15.5h-17.9zM694.7 306.5l8.95 -15.5h-17.9zM695.7 306.4l8.95 -15.5h-17.9zM696.7 306.0l8.95 -15.5h-17.9zM697.6 305.9l8.95 -15.5h-17.9zM698.6 305.5l8.95 -15.5h-17.9zM699.6 305.5l8.95 -15.5h-17.9zM700.5 305.1l8.95 -15.5h-17.9zM701.5 304.7l8.95 -15.5h-17.9zM702.4 304.6l8.95 -15.5h-17.9zM703.3 304.0l8.95 -15.5h-17.9zM704.2 303.7l8.95 -15.5h-17.9zM705.1 303.7l8.95 -15.5h-17.9zM706.0 303.5l8.95 -15.5h-17.9zM706.9 303.2l8.95 -15.5h-17.9zM707.8 303.0l8.95 -15.5h-17.9zM708.7 302.8l8.95 -15.5h-17.9zM709.6 302.7l8.95 -15.5h-17.9zM710.5 302.5l8.95 -15.5h-17.9zM711.3 302.1l8.95 -15.5h-17.9zM712.2 302.0l8.95 -15.5h-17.9zM713.0 301.8l8.95 -15.5h-17.9zM713.9 301.5l8.95 -15.5h-17.9zM714.7 301.4l8.95 -15.5h-17.9zM715.5 301.0l8.95 -15.5h-17.9zM716.4 301.1l8.95 -15.5h-17.9zM717.2 300.8l8.95 -15.5h-17.9zM718.0 300.8l8.95 -15.5h-17.9zM718.8 300.6l8.95 -15.5h-17.9zM719.6 300.5l8.95 -15.5h-17.9zM720.4 300.0l8.95 -15.5h-17.9zM721.2 300.0l8.95 -15.5h-17.9zM722.0 299.3l8.95 -15.5h-17.9zM722.8 299.2l8.95 -15.5h-17.9zM723.5 299.2l8.95 -15.5h-17.9zM724.3 298.9l8.95 -15.5h-17.9zM725.1 298.5l8.95 -15.5h-17.9zM725.8 298.6l8.95 -15.5h-17.9zM726.6 298.4l8.95 -15.5h-17.9zM727.3 298.3l8.95 -15.5h-17.9zM728.1 298.3l8.95 -15.5h-17.9zM728.8 298.2l8.95 -15.5h-17.9zM729.6 298.1l8.95 -15.5h-17.9zM730.3 297.6l8.95 -15.5h-17.9zM731.0 297.6l8.95 -15.5h-17.9zM731.8 297.3l8.95 -15.5h-17.9zM732.5 296.8l8.95 -15.5h-17.9zM733.2 297.1l8.95 -15.5h-17.9zM733.9 297.0l8.95 -15.5h-17.9zM734.6 296.4l8.95 -15.5h-17.9zM735.3 296.2l8.95 -15.5h-17.9zM736.0 296.0l8.95 -15.5h-17.9zM736.7 296.0l8.95 -15.5h-17.9zM737.4 295.6l8.95 -15.5h-17.9zM738.1 295.5l8.95 -15.5h-17.9zM738.7 295.0l8.95 -15.5h-17.9zM739.4 295.2l8.95 -15.5h-17.9zM740.1 295.0l8.95 -15.5h-17.9zM740.8 295.2l8.95 -15.5h-17.9zM741.4 294.3l8.95 -15.5h-17.9zM742.1 294.4l8.95 -15.5h-17.9zM742.7 294.1l8.95 -15.5h-17.9zM743.4 294.2l8.95 -15.5h-17.9zM744.0 294.3l8.95 -15.5h-17.9zM744.7 294.0l8.95 -15.5h-17.9zM745.3 293.8l8.95 -15.5h-17.9zM746.0 293.7l8.95 -15.5h-17.9zM746.6 293.6l8.95 -15.5h-17.9zM747.2 293.7l8.95 -15.5h-17.9zM747.9 293.5l8.95 -15.5h-17.9zM748.5 293.2l8.95 -15.5h-17.9zM749.1 292.8l8.95 -15.5h-17.9zM749.7 292.8l8.95 -15.5h-17.9zM750.3 292.6l8.95 -15.5h-17.9zM750.9 292.3l8.95 -15.5h-17.9zM751.6 292.7l8.95 -15.5h-17.9zM752.2 292.3l8.95 -15.5h-17.9zM752.8 292.3l8.95 -15.5h-17.9zM754.0 292.1l8.95 -15.5h-17.9zM755.1 291.5l8.95 -15.5h-17.9zM756.3 291.3l8.95 -15.5h-17.9zM757.5 291.5l8.95 -15.5h-17.9zM758.6 291.3l8.95 -15.5h-17.9zM759.7 290.5l8.95 -15.5h-17.9zM760.9 290.6l8.95 -15.5h-17.9zM762.0 290.3l8.95 -15.5h-17.9zM763.1 290.4l8.95 -15.5h-17.9zM764.2 290.2l8.95 -15.5h-17.9zM765.3 290.1l8.95 -15.5h-17.9zM766.3 289.9l8.95 -15.5h-17.9zM767.4 290.0l8.95 -15.5h-17.9zM768.4 289.2l8.95 -15.5h-17.9zM769.5 289.2l8.95 -15.5h-17.9zM770.5 289.1l8.95 -15.5h-17.9zM771.5 289.3l8.95 -15.5h-17.9zM772.6 288.9l8.95 -15.5h-17.9zM773.6 288.7l8.95 -15.5h-17.9zM774.6 288.7l8.95 -15.5h-17.9zM775.6 288.8l8.95 -15.5h-17.9zM776.5 288.5l8.95 -15.5h-17.9zM777.5 288.1l8.95 -15.5h-17.9zM778.5 288.1l8.95 -15.5h-17.9zM779.4 287.8l8.95 -15.5h-17.9zM780.4 287.8l8.95 -15.5h-17.9zM781.3 287.9l8.95 -15.5h-17.9zM782.2 287.5l8.95 -15.5h-17.9zM783.2 287.6l8.95 -15.5h-17.9zM784.1 287.5l8.95 -15.5h-17.9zM785.0 287.7l8.95 -15.5h-17.9zM785.9 287.7l8.95 -15.5h-17.9zM786.8 287.9l8.95 -15.5h-17.9zM787.7 287.8l8.95 -15.5h-17.9zM788.6 287.7l8.95 -15.5h-17.9zM789.5 287.7l8.95 -15.5h-17.9zM790.3 287.3l8.95 -15.5h-17.9zM791.2 287.4l8.95 -15.5h-17.9zM792.0 287.0l8.95 -15.5h-17.9zM792.9 287.1l8.95 -15.5h-17.9zM793.7 286.9l8.95 -15.5h-17.9zM794.6 287.1l8.95 -15.5h-17.9zM795.4 286.8l8.95 -15.5h-17.9zM796.2 287.0l8.95 -15.5h-17.9zM797.1 286.9l8.95 -15.5h-17.9zM797.9 286.6l8.95 -15.5h-17.9zM798.7 286.9l8.95 -15.5h-17.9zM799.5 286.3l8.95 -15.5h-17.9zM800.3 286.0l8.95 -15.5h-17.9zM801.1 285.9l8.95 -15.5h-17.9zM801.9 285.8l8.95 -15.5h-17.9zM802.6 285.9l8.95 -15.5h-17.9zM803.4 285.6l8.95 -15.5h-17.9zM804.2 285.5l8.95 -15.5h-17.9zM804.9 285.3l8.95 -15.5h-17.9zM805.7 285.1l8.95 -15.5h-17.9zM806.5 284.8l8.95 -15.5h-17.9zM807.2 284.5l8.95 -15.5h-17.9zM808.0 284.2l8.95 -15.5h-17.9zM808.7 283.8l8.95 -15.5h-17.9zM809.4 284.0l8.95 -15.5h-17.9zM810.2 283.4l8.95 -15.5h-17.9zM810.9 283.2l8.95 -15.5h-17.9zM811.6 283.2l8.95 -15.5h-17.9zM812.3 283.1l8.95 -15.5h-17.9zM813.0 283.1l8.95 -15.5h-17.9zM813.8 282.8l8.95 -15.5h-17.9zM814.5 282.7l8.95 -15.5h-17.9zM815.2 282.9l8.95 -15.5h-17.9zM815.9 282.4l8.95 -15.5h-17.9zM816.5 282.1l8.95 -15.5h-17.9zM817.2 282.0l8.95 -15.5h-17.9zM817.9 282.0l8.95 -15.5h-17.9zM818.6 281.5l8.95 -15.5h-17.9zM819.3 282.0l8.95 -15.5h-17.9zM819.9 281.5l8.95 -15.5h-17.9zM820.6 281.5l8.95 -15.5h-17.9zM821.3 281.1l8.95 -15.5h-17.9zM821.9 280.8l8.95 -15.5h-17.9zM822.6 281.0l8.95 -15.5h-17.9zM823.3 280.8l8.95 -15.5h-17.9zM823.9 280.6l8.95 -15.5h-17.9zM824.5 280.2l8.95 -15.5h-17.9zM825.2 280.0l8.95 -15.5h-17.9zM825.8 279.7l8.95 -15.5h-17.9zM826.5 279.8l8.95 -15.5h-17.9zM827.1 279.7l8.95 -15.5h-17.9zM827.7 279.9l8.95 -15.5h-17.9zM828.3 279.8l8.95 -15.5h-17.9zM829.0 280.0l8.95 -15.5h-17.9zM829.6 279.5l8.95 -15.5h-17.9zM830.2 279.7l8.95 -15.5h-17.9zM830.8 279.8l8.95 -15.5h-17.9zM831.4 279.9l8.95 -15.5h-17.9zM832.0 279.9l8.95 -15.5h-17.9zM832.6 279.8l8.95 -15.5h-17.9zM833.5 279.8l8.95 -15.5h-17.9zM834.4 279.6l8.95 -15.5h-17.9zM835.3 280.1l8.95 -15.5h-17.9zM836.2 280.0l8.95 -15.5h-17.9zM837.0 280.3l8.95 -15.5h-17.9zM837.9 280.1l8.95 -15.5h-17.9zM838.8 280.3l8.95 -15.5h-17.9zM839.6 279.8l8.95 -15.5h-17.9zM840.5 280.0l8.95 -15.5h-17.9zM841.3 280.4l8.95 -15.5h-17.9zM842.1 280.5l8.95 -15.5h-17.9zM842.9 280.2l8.95 -15.5h-17.9zM843.8 280.5l8.95 -15.5h-17.9zM844.6 280.0l8.95 -15.5h-17.9zM845.4 279.8l8.95 -15.5h-17.9zM846.2 280.3l8.95 -15.5h-17.9zM847.0 280.1l8.95 -15.5h-17.9zM847.8 280.2l8.95 -15.5h-17.9zM848.6 279.7l8.95 -15.5h-17.9zM849.4 279.7l8.95 -15.5h-17.9zM850.1 279.7l8.95 -15.5h-17.9zM850.9 278.9l8.95 -15.5h-17.9zM851.7 278.8l8.95 -15.5h-17.9zM852.4 278.8l8.95 -15.5h-17.9zM853.2 279.1l8.95 -15.5h-17.9zM853.9 279.2l8.95 -15.5h-17.9zM854.7 278.8l8.95 -15.5h-17.9zM855.4 278.6l8.95 -15.5h-17.9zM856.2 278.8l8.95 -15.5h-17.9zM856.9 279.2l8.95 -15.5h-17.9zM857.6 278.8l8.95 -15.5h-17.9zM858.3 279.4l8.95 -15.5h-17.9zM859.1 279.5l8.95 -15.5h-17.9zM859.8 279.4l8.95 -15.5h-17.9zM860.5 279.2l8.95 -15.5h-17.9zM861.2 278.7l8.95 -15.5h-17.9zM861.9 278.9l8.95 -15.5h-17.9zM862.6 279.2l8.95 -15.5h-17.9zM863.3 279.2l8.95 -15.5h-17.9zM864.0 279.3l8.95 -15.5h-17.9zM864.6 279.0l8.95 -15.5h-17.9zM865.3 279.1l8.95 -15.5h-17.9zM866.0 278.9l8.95 -15.5h-17.9zM866.7 278.9l8.95 -15.5h-17.9zM867.3 279.2l8.95 -15.5h-17.9zM868.0 279.3l8.95 -15.5h-17.9zM868.7 279.0l8.95 -15.5h-17.9zM869.3 278.9l8.95 -15.5h-17.9zM870.0 279.1l8.95 -15.5h-17.9zM870.6 279.1l8.95 -15.5h-17.9zM871.3 278.7l8.95 -15.5h-17.9zM871.9 278.4l8.95 -15.5h-17.9zM872.5 278.6l8.95 -15.5h-17.9zM873.2 278.7l8.95 -15.5h-17.9zM873.8 278.8l8.95 -15.5h-17.9zM874.4 278.3l8.95 -15.5h-17.9zM875.1 278.3l8.95 -15.5h-17.9zM875.7 278.1l8.95 -15.5h-17.9zM876.3 278.3l8.95 -15.5h-17.9zM876.9 277.4l8.95 -15.5h-17.9zM877.5 278.5l8.95 -15.5h-17.9zM878.1 278.5l8.95 -15.5h-17.9zM878.7 278.1l8.95 -15.5h-17.9zM879.3 278.3l8.95 -15.5h-17.9zM880.1 278.6l8.95 -15.5h-17.9zM880.9 278.2l8.95 -15.5h-17.9zM881.7 278.3l8.95 -15.5h-17.9zM882.5 278.2l8.95 -15.5h-17.9zM883.3 278.2l8.95 -15.5h-17.9zM884.0 278.4l8.95 -15.5h-17.9zM884.8 278.2l8.95 -15.5h-17.9zM885.6 278.0l8.95 -15.5h-17.9zM886.3 278.7l8.95 -15.5h-17.9zM887.1 279.2l8.95 -15.5h-17.9zM887.8 278.9l8.95 -15.5h-17.9zM888.6 278.9l8.95 -15.5h-17.9zM889.3 278.9l8.95 -15.5h-17.9zM890.0 278.7l8.95 -15.5h-17.9zM890.8 279.4l8.95 -15.5h-17.9zM891.5 279.2l8.95 -15.5h-17.9zM892.2 278.8l8.95 -15.5h-17.9zM892.9 279.4l8.95 -15.5h-17.9zM893.6 279.1l8.95 -15.5h-17.9zM894.3 279.3l8.95 -15.5h-17.9zM895.0 279.2l8.95 -15.5h-17.9zM895.7 279.2l8.95 -15.5h-17.9zM896.4 278.9l8.95 -15.5h-17.9zM897.1 278.5l8.95 -15.5h-17.9zM897.8 278.5l8.95 -15.5h-17.9zM898.5 277.8l8.95 -15.5h-17.9zM899.1 277.5l8.95 -15.5h-17.9zM899.8 277.7l8.95 -15.5h-17.9zM900.5 277.7l8.95 -15.5h-17.9zM901.1 277.9l8.95 -15.5h-17.9zM901.8 278.0l8.95 -15.5h-17.9zM902.5 278.2l8.95 -15.5h-17.9zM903.1 277.9l8.95 -15.5h-17.9zM903.8 278.7l8.95 -15.5h-17.9zM904.4 278.6l8.95 -15.5h-17.9zM905.1 278.6l8.95 -15.5h-17.9zM905.7 278.5l8.95 -15.5h-17.9zM906.3 278.7l8.95 -15.5h-17.9zM907.0 278.6l8.95 -15.5h-17.9zM907.6 279.0l8.95 -15.5h-17.9zM908.2 279.6l8.95 -15.5h-17.9zM908.8 278.9l8.95 -15.5h-17.9zM909.4 279.5l8.95 -15.5h-17.9zM910.1 279.0l8.95 -15.5h-17.9zM910.7 278.6l8.95 -15.5h-17.9zM911.3 278.1l8.95 -15.5h-17.9zM911.9 278.2l8.95 -15.5h-17.9zM912.5 277.8l8.95 -15.5h-17.9zM913.2 278.0l8.95 -15.5h-17.9zM914.0 278.2l8.95 -15.5h-17.9zM914.7 278.0l8.95 -15.5h-17.9zM915.4 278.0l8.95 -15.5h-17.9zM916.2 278.6l8.95 -15.5h-17.9zM916.9 278.8l8.95 -15.5h-17.9zM917.6 279.3l8.95 -15.5h-17.9zM918.3 278.3l8.95 -15.5h-17.9zM919.0 278.5l8.95 -15.5h-17.9zM919.8 278.7l8.95 -15.5h-17.9zM920.5 278.7l8.95 -15.5h-17.9zM921.2 277.9l8.95 -15.5h-17.9zM921.8 278.2l8.95 -15.5h-17.9zM922.5 278.4l8.95 -15.5h-17.9zM923.2 278.2l8.95 -15.5h-17.9zM923.9 277.0l8.95 -15.5h-17.9zM924.6 277.4l8.95 -15.5h-17.9zM925.3 277.0l8.95 -15.5h-17.9zM925.9 277.1l8.95 -15.5h-17.9zM926.6 276.4l8.95 -15.5h-17.9zM927.3 276.5l8.95 -15.5h-17.9zM927.9 276.6l8.95 -15.5h-17.9zM928.6 276.6l8.95 -15.5h-17.9zM929.2 276.6l8.95 -15.5h-17.9zM929.9 276.3l8.95 -15.5h-17.9zM930.5 275.7l8.95 -15.5h-17.9zM931.1 275.9l8.95 -15.5h-17.9zM931.8 275.9l8.95 -15.5h-17.9zM932.4 276.2l8.95 -15.5h-17.9zM933.0 275.7l8.95 -15.5h-17.9zM933.7 275.7l8.95 -15.5h-17.9zM934.3 275.8l8.95 -15.5h-17.9zM934.9 275.6l8.95 -15.5h-17.9zM935.5 274.8l8.95 -15.5h-17.9zM936.1 275.4l8.95 -15.5h-17.9zM936.7 275.6l8.95 -15.5h-17.9zM937.4 275.2l8.95 -15.5h-17.9zM938.0 274.6l8.95 -15.5h-17.9zM938.7 274.4l8.95 -15.5h-17.9zM939.4 274.1l8.95 -15.5h-17.9zM940.1 273.4l8.95 -15.5h-17.9zM940.8 272.9l8.95 -15.5h-17.9zM941.5 272.7l8.95 -15.5h-17.9zM942.2 272.6l8.95 -15.5h-17.9zM942.9 271.9l8.95 -15.5h-17.9z" fill="#ffa500"/>
<path d="M442.5 387.4L924 176" fill="none" stroke="#000" stroke-width="3.1" stroke-dasharray="15.8 9.94"/>
<path d="M483.2 775.3a7.3 7.3 0 1 0 14.60 0a7.3 7.3 0 1 0 -14.60 0zM485.9 776.7a7.3 7.3 0 1 0 14.60 0a7.3 7.3 0 1 0 -14.60 0zM488.5 778.2a7.3 7.3 0 1 0 14.60 0a7.3 7.3 0 1 0 -14.60 0zM491.1 779.5a7.3 7.3 0 1 0 14.60 0a7.3 7.3 0 1 0 -14.60 0zM493.7 780.9a7.3 7.3 0 1 0 14.60 0a7.3 7.3 0 1 0 -14.60 0zM496.3 782.0a7.3 7.3 0 1 0 14.60 0a7.3 7.3 0 1 0 -14.60 0zM498.7 783.3a7.3 7.3 0 1 0 14.60 0a7.3 7.3 0 1 0 -14.60 0zM501.2 784.7a7.3 7.3 0 1 0 14.60 0a7.3 7.3 0 1 0 -14.60 0zM503.6 785.9a7.3 7.3 0 1 0 14.60 0a7.3 7.3 0 1 0 -14.60 0zM506.0 786.9a7.3 7.3 0 1 0 14.60 0a7.3 7.3 0 1 0 -14.60 0zM508.4 788.0a7.3 7.3 0 1 0 14.60 0a7.3 7.3 0 1 0 -14.60 0zM510.7 788.9a7.3 7.3 0 1 0 14.60 0a7.3 7.3 0 1 0 -14.60 0zM513.0 789.9a7.3 7.3 0 1 0 14.60 0a7.3 7.3 0 1 0 -14.60 0zM515.2 791.2a7.3 7.3 0 1 0 14.60 0a7.3 7.3 0 1 0 -14.60 0zM517.4 792.2a7.3 7.3 0 1 0 14.60 0a7.3 7.3 0 1 0 -14.60 0zM519.6 793.0a7.3 7.3 0 1 0 14.60 0a7.3 7.3 0 1 0 -14.60 0zM521.8 794.3a7.3 7.3 0 1 0 14.60 0a7.3 7.3 0 1 0 -14.60 0zM523.9 795.5a7.3 7.3 0 1 0 14.60 0a7.3 7.3 0 1 0 -14.60 0zM526.0 796.6a7.3 7.3 0 1 0 14.60 0a7.3 7.3 0 1 0 -14.60 0zM528.1 797.4a7.3 7.3 0 1 0 14.60 0a7.3 7.3 0 1 0 -14.60 0zM530.2 798.5a7.3 7.3 0 1 0 14.60 0a7.3 7.3 0 1 0 -14.60 0zM532.2 799.5a7.3 7.3 0 1 0 14.60 0a7.3 7.3 0 1 0 -14.60 0zM534.2 800.3a7.3 7.3 0 1 0 14.60 0a7.3 7.3 0 1 0 -14.60 0zM536.2 801.3a7.3 7.3 0 1 0 14.60 0a7.3 7.3 0 1 0 -14.60 0zM538.1 802.5a7.3 7.3 0 1 0 14.60 0a7.3 7.3 0 1 0 -14.60 0zM540.0 803.4a7.3 7.3 0 1 0 14.60 0a7.3 7.3 0 1 0 -14.60 0zM541.9 804.2a7.3 7.3 0 1 0 14.60 0a7.3 7.3 0 1 0 -14.60 0zM543.8 804.9a7.3 7.3 0 1 0 14.60 0a7.3 7.3 0 1 0 -14.60 0zM545.7 805.6a7.3 7.3 0 1 0 14.60 0a7.3 7.3 0 1 0 -14.60 0zM547.5 806.5a7.3 7.3 0 1 0 14.60 0a7.3 7.3 0 1 0 -14.60 0zM549.3 807.3a7.3 7.3 0 1 0 14.60 0a7.3 7.3 0 1 0 -14.60 0zM551.1 807.9a7.3 7.3 0 1 0 14.60 0a7.3 7.3 0 1 0 -14.60 0zM552.9 808.5a7.3 7.3 0 1 0 14.60 0a7.3 7.3 0 1 0 -14.60 0zM554.7 809.1a7.3 7.3 0 1 0 14.60 0a7.3 7.3 0 1 0 -14.60 0zM556.4 809.7a7.3 7.3 0 1 0 14.60 0a7.3 7.3 0 1 0 -14.60 0zM558.1 810.4a7.3 7.3 0 1 0 14.60 0a7.3 7.3 0 1 0 -14.60 0zM559.8 811.1a7.3 7.3 0 1 0 14.60 0a7.3 7.3 0 1 0 -14.60 0zM561.5 811.5a7.3 7.3 0 1 0 14.60 0a7.3 7.3 0 1 0 -14.60 0zM563.2 812.2a7.3 7.3 0 1 0 14.60 0a7.3 7.3 0 1 0 -14.60 0zM564.8 812.8a7.3 7.3 0 1 0 14.60 0a7.3 7.3 0 1 0 -14.60 0zM566.5 813.6a7.3 7.3 0 1 0 14.60 0a7.3 7.3 0 1 0 -14.60 0zM568.1 813.9a7.3 7.3 0 1 0 14.60 0a7.3 7.3 0 1 0 -14.60 0zM569.7 814.7a7.3 7.3 0 1 0 14.60 0a7.3 7.3 0 1 0 -14.60 0zM571.3 815.2a7.3 7.3 0 1 0 14.60 0a7.3 7.3 0 1 0 -14.60 0zM572.9 815.6a7.3 7.3 0 1 0 14.60 0a7.3 7.3 0 1 0 -14.60 0zM574.4 816.0a7.3 7.3 0 1 0 14.60 0a7.3 7.3 0 1 0 -14.60 0zM576.0 816.8a7.3 7.3 0 1 0 14.60 0a7.3 7.3 0 1 0 -14.60 0zM577.5 817.4a7.3 7.3 0 1 0 14.60 0a7.3 7.3 0 1 0 -14.60 0zM579.0 817.8a7.3 7.3 0 1 0 14.60 0a7.3 7.3 0 1 0 -14.60 0zM580.5 817.8a7.3 7.3 0 1 0 14.60 0a7.3 7.3 0 1 0 -14.60 0zM582.0 818.6a7.3 7.3 0 1 0 14.60 0a7.3 7.3 0 1 0 -14.60 0zM583.4 819.1a7.3 7.3 0 1 0 14.60 0a7.3 7.3 0 1 0 -14.60 0zM584.9 819.3a7.3 7.3 0 1 0 14.60 0a7.3 7.3 0 1 0 -14.60 0zM586.3 820.0a7.3 7.3 0 1 0 14.60 0a7.3 7.3 0 1 0 -14.60 0zM587.8 820.4a7.3 7.3 0 1 0 14.60 0a7.3 7.3 0 1 0 -14.60 0zM589.2 820.6a7.3 7.3 0 1 0 14.60 0a7.3 7.3 0 1 0 -14.60 0zM590.6 821.3a7.3 7.3 0 1 0 14.60 0a7.3 7.3 0 1 0 -14.60 0zM592.0 821.5a7.3 7.3 0 1 0 14.60 0a7.3 7.3 0 1 0 -14.60 0zM593.4 822.2a7.3 7.3 0 1 0 14.60 0a7.3 7.3 0 1 0 -14.60 0zM594.7 822.6a7.3 7.3 0 1 0 14.60 0a7.3 7.3 0 1 0 -14.60 0zM596.1 822.9a7.3 7.3 0 1 0 14.60 0a7.3 7.3 0 1 0 -14.60 0zM597.5 823.3a7.3 7.3 0 1 0 14.60 0a7.3 7.3 0 1 0 -14.60 0zM598.8 823.9a7.3 7.3 0 1 0 14.60 0a7.3 7.3 0 1 0 -14.60 0zM600.1 824.2a7.3 7.3 0 1 0 14.60 0a7.3 7.3 0 1 0 -14.60 0zM601.4 824.3a7.3 7.3 0 1 0 14.60 0a7.3 7.3 0 1 0 -14.60 0zM602.7 825.2a7.3 7.3 0 1 0 14.60 0a7.3 7.3 0 1 0 -14.60 0zM604.0 825.4a7.3 7.3 0 1 0 14.60 0a7.3 7.3 0 1 0 -14.60 0zM605.3 825.5a7.3 7.3 0 1 0 14.60 0a7.3 7.3 0 1 0 -14.60 0zM606.6 826.1a7.3 7.3 0 1 0 14.60 0a7.3 7.3 0 1 0 -14.60 0zM607.8 826.4a7.3 7.3 0 1 0 14.60 0a7.3 7.3 0 1 0 -14.60 0zM609.1 826.9a7.3 7.3 0 1 0 14.60 0a7.3 7.3 0 1 0 -14.60 0zM610.3 827.4a7.3 7.3 0 1 0 14.60 0a7.3 7.3 0 1 0 -14.60 0zM611.6 827.4a7.3 7.3 0 1 0 14.60 0a7.3 7.3 0 1 0 -14.60 0zM612.8 828.1a7.3 7.3 0 1 0 14.60 0a7.3 7.3 0 1 0 -14.60 0zM614.0 828.4a7.3 7.3 0 1 0 14.60 0a7.3 7.3 0 1 0 -14.60 0zM615.2 828.4a7.3 7.3 0 1 0 14.60 0a7.3 7.3 0 1 0 -14.60 0zM616.4 828.8a7.3 7.3 0 1 0 14.60 0a7.3 7.3 0 1 0 -14.60 0zM617.6 829.0a7.3 7.3 0 1 0 14.60 0a7.3 7.3 0 1 0 -14.60 0zM618.8 829.4a7.3 7.3 0 1 0 14.60 0a7.3 7.3 0 1 0 -14.60 0zM620.0 829.6a7.3 7.3 0 1 0 14.60 0a7.3 7.3 0 1 0 -14.60 0zM621.1 830.7a7.3 7.3 0 1 0 14.60 0a7.3 7.3 0 1 0 -14.60 0zM622.3 830.7a7.3 7.3 0 1 0 14.60 0a7.3 7.3 0 1 0 -14.60 0zM623.4 831.1a7.3 7.3 0 1 0 14.60 0a7.3 7.3 0 1 0 -14.60 0zM624.6 831.4a7.3 7.3 0 1 0 14.60 0a7.3 7.3 0 1 0 -14.60 0zM625.7 831.9a7.3 7.3 0 1 0 14.60 0a7.3 7.3 0 1 0 -14.60 0zM626.8 832.3a7.3 7.3 0 1 0 14.60 0a7.3 7.3 0 1 0 -14.60 0zM627.9 832.6a7.3 7.3 0 1 0 14.60 0a7.3 7.3 0 1 0 -14.60 0zM629.0 833.0a7.3 7.3 0 1 0 14.60 0a7.3 7.3 0 1 0 -14.60 0zM630.1 833.3a7.3 7.3 0 1 0 14.60 0a7.3 7.3 0 1 0 -14.60 0zM631.2 833.6a7.3 7.3 0 1 0 14.60 0a7.3 7.3 0 1 0 -14.60 0zM632.3 834.2a7.3 7.3 0 1 0 14.60 0a7.3 7.3 0 1 0 -14.60 0zM633.4 834.6a7.3 7.3 0 1 0 14.60 0a7.3 7.3 0 1 0 -14.60 0zM634.4 834.7a7.3 7.3 0 1 0 14.60 0a7.3 7.3 0 1 0 -14.60 0zM635.5 835.1a7.3 7.3 0 1 0 14.60 0a7.3 7.3 0 1 0 -14.60 0zM636.6 835.1a7.3 7.3 0 1 0 14.60 0a7.3 7.3 0 1 0 -14.60 0zM637.6 835.7a7.3 7.3 0 1 0 14.60 0a7.3 7.3 0 1 0 -14.60 0zM638.7 836.2a7.3 7.3 0 1 0 14.60 0a7.3 7.3 0 1 0 -14.60 0zM639.7 836.8a7.3 7.3 0 1 0 14.60 0a7.3 7.3 0 1 0 -14.60 0zM640.7 837.3a7.3 7.3 0 1 0 14.60 0a7.3 7.3 0 1 0 -14.60 0zM641.7 837.7a7.3 7.3 0 1 0 14.60 0a7.3 7.3 0 1 0 -14.60 0zM642.8 838.3a7.3 7.3 0 1 0 14.60 0a7.3 7.3 0 1 0 -14.60 0zM643.8 838.6a7.3 7.3 0 1 0 14.60 0a7.3 7.3 0 1 0 -14.60 0zM644.8 839.2a7.3 7.3 0 1 0 14.60 0a7.3 7.3 0 1 0 -14.60 0zM645.8 839.4a7.3 7.3 0 1 0 14.60 0a7.3 7.3 0 1 0 -14.60 0zM646.8 839.9a7.3 7.3 0 1 0 14.60 0a7.3 7.3 0 1 0 -14.60 0zM647.7 840.3a7.3 7.3 0 1 0 14.60 0a7.3 7.3 0 1 0 -14.60 0zM648.7 840.8a7.3 7.3 0 1 0 14.60 0a7.3 7.3 0 1 0 -14.60 0zM649.7 841.6a7.3 7.3 0 1 0 14.60 0a7.3 7.3 0 1 0 -14.60 0zM650.7 842.1a7.3 7.3 0 1 0 14.60 0a7.3 7.3 0 1 0 -14.60 0zM651.6 842.4a7.3 7.3 0 1 0 14.60 0a7.3 7.3 0 1 0 -14.60 0zM652.6 842.8a7.3 7.3 0 1 0 14.60 0a7.3 7.3 0 1 0 -14.60 0zM653.5 843.3a7.3 7.3 0 1 0 14.60 0a7.3 7.3 0 1 0 -14.60 0zM654.5 843.6a7.3 7.3 0 1 0 14.60 0a7.3 7.3 0 1 0 -14.60 0zM655.4 844.1a7.3 7.3 0 1 0 14.60 0a7.3 7.3 0 1 0 -14.60 0zM656.3 844.3a7.3 7.3 0 1 0 14.60 0a7.3 7.3 0 1 0 -14.60 0zM657.3 844.8a7.3 7.3 0 1 0 14.60 0a7.3 7.3 0 1 0 -14.60 0zM658.2 845.0a7.3 7.3 0 1 0 14.60 0a7.3 7.3 0 1 0 -14.60 0zM659.1 845.7a7.3 7.3 0 1 0 14.60 0a7.3 7.3 0 1 0 -14.60 0zM660.0 846.1a7.3 7.3 0 1 0 14.60 0a7.3 7.3 0 1 0 -14.60 0zM660.9 846.7a7.3 7.3 0 1 0 14.60 0a7.3 7.3 0 1 0 -14.60 0zM661.8 847.4a7.3 7.3 0 1 0 14.60 0a7.3 7.3 0 1 0 -14.60 0zM662.7 847.9a7.3 7.3 0 1 0 14.60 0a7.3 7.3 0 1 0 -14.60 0zM663.6 847.8a7.3 7.3 0 1 0 14.60 0a7.3 7.3 0 1 0 -14.60 0zM664.5 848.4a7.3 7.3 0 1 0 14.60 0a7.3 7.3 0 1 0 -14.60 0zM665.4 848.8a7.3 7.3 0 1 0 14.60 0a7.3 7.3 0 1 0 -14.60 0zM666.3 849.4a7.3 7.3 0 1 0 14.60 0a7.3 7.3 0 1 0 -14.60 0zM667.1 849.8a7.3 7.3 0 1 0 14.60 0a7.3 7.3 0 1 0 -14.60 0zM668.0 850.2a7.3 7.3 0 1 0 14.60 0a7.3 7.3 0 1 0 -14.60 0zM668.9 850.5a7.3 7.3 0 1 0 14.60 0a7.3 7.3 0 1 0 -14.60 0zM669.7 850.4a7.3 7.3 0 1 0 14.60 0a7.3 7.3 0 1 0 -14.60 0zM670.6 850.6a7.3 7.3 0 1 0 14.60 0a7.3 7.3 0 1 0 -14.60 0zM671.4 851.2a7.3 7.3 0 1 0 14.60 0a7.3 7.3 0 1 0 -14.60 0zM672.3 851.5a7.3 7.3 0 1 0 14.60 0a7.3 7.3 0 1 0 -14.60 0zM673.1 852.1a7.3 7.3 0 1 0 14.60 0a7.3 7.3 0 1 0 -14.60 0zM674.0 852.5a7.3 7.3 0 1 0 14.60 0a7.3 7.3 0 1 0 -14.60 0zM674.8 852.9a7.3 7.3 0 1 0 14.60 0a7.3 7.3 0 1 0 -14.60 0zM675.6 852.7a7.3 7.3 0 1 0 14.60 0a7.3 7.3 0 1 0 -14.60 0zM676.4 853.0a7.3 7.3 0 1 0 14.60 0a7.3 7.3 0 1 0 -14.60 0zM677.3 853.1a7.3 7.3 0 1 0 14.60 0a7.3 7.3 0 1 0 -14.60 0zM678.1 853.9a7.3 7.3 0 1 0 14.60 0a7.3 7.3 0 1 0 -14.60 0zM678.9 853.9a7.3 7.3 0 1 0 14.60 0a7.3 7.3 0 1 0 -14.60 0zM679.7 854.3a7.3 7.3 0 1 0 14.60 0a7.3 7.3 0 1 0 -14.60 0zM680.5 854.6a7.3 7.3 0 1 0 14.60 0a7.3 7.3 0 1 0 -14.60 0zM681.3 855.1a7.3 7.3 0 1 0 14.60 0a7.3 7.3 0 1 0 -14.60 0zM682.1 855.3a7.3 7.3 0 1 0 14.60 0a7.3 7.3 0 1 0 -14.60 0zM682.9 855.6a7.3 7.3 0 1 0 14.60 0a7.3 7.3 0 1 0 -14.60 0zM683.7 855.9a7.3 7.3 0 1 0 14.60 0a7.3 7.3 0 1 0 -14.60 0zM684.5 856.3a7.3 7.3 0 1 0 14.60 0a7.3 7.3 0 1 0 -14.60 0zM685.2 856.4a7.3 7.3 0 1 0 14.60 0a7.3 7.3 0 1 0 -14.60 0zM686.0 857.0a7.3 7.3 0 1 0 14.60 0a7.3 7.3 0 1 0 -14.60 0zM686.8 857.3a7.3 7.3 0 1 0 14.60 0a7.3 7.3 0 1 0 -14.60 0zM687.5 857.0a7.3 7.3 0 1 0 14.60 0a7.3 7.3 0 1 0 -14.60 0zM688.3 857.6a7.3 7.3 0 1 0 14.60 0a7.3 7.3 0 1 0 -14.60 0zM689.1 858.2a7.3 7.3 0 1 0 14.60 0a7.3 7.3 0 1 0 -14.60 0zM689.8 858.4a7.3 7.3 0 1 0 14.60 0a7.3 7.3 0 1 0 -14.60 0zM690.6 858.6a7.3 7.3 0 1 0 14.60 0a7.3 7.3 0 1 0 -14.60 0zM691.3 858.7a7.3 7.3 0 1 0 14.60 0a7.3 7.3 0 1 0 -14.60 0zM692.1 859.2a7.3 7.3 0 1 0 14.60 0a7.3 7.3 0 1 0 -14.60 0zM692.8 859.2a7.3 7.3 0 1 0 14.60 0a7.3 7.3 0 1 0 -14.60 0zM693.6 859.4a7.3 7.3 0 1 0 14.60 0a7.3 7.3 0 1 0 -14.60 0zM694.3 859.6a7.3 7.3 0 1 0 14.60 0a7.3 7.3 0 1 0 -14.60 0zM695.0 860.0a7.3 7.3 0 1 0 14.60 0a7.3 7.3 0 1 0 -14.60 0zM695.8 860.3a7.3 7.3 0 1 0 14.60 0a7.3 7.3 0 1 0 -14.60 0zM696.5 860.6a7.3 7.3 0 1 0 14.60 0a7.3 7.3 0 1 0 -14.60 0zM697.2 860.3a7.3 7.3 0 1 0 14.60 0a7.3 7.3 0 1 0 -14.60 0zM697.9 860.9a7.3 7.3 0 1 0 14.60 0a7.3 7.3 0 1 0 -14.60 0zM698.7 861.3a7.3 7.3 0 1 0 14.60 0a7.3 7.3 0 1 0 -14.60 0zM699.4 861.4a7.3 7.3 0 1 0 14.60 0a7.3 7.3 0 1 0 -14.60 0zM700.1 862.2a7.3 7.3 0 1 0 14.60 0a7.3 7.3 0 1 0 -14.60 0zM700.8 862.7a7.3 7.3 0 1 0 14.60 0a7.3 7.3 0 1 0 -14.60 0zM701.5 862.6a7.3 7.3 0 1 0 14.60 0a7.3 7.3 0 1 0 -14.60 0zM702.2 862.9a7.3 7.3 0 1 0 14.60 0a7.3 7.3 0 1 0 -14.60 0zM702.9 862.9a7.3 7.3 0 1 0 14.60 0a7.3 7.3 0 1 0 -14.60 0zM703.6 862.9a7.3 7.3 0 1 0 14.60 0a7.3 7.3 0 1 0 -14.60 0zM704.3 863.0a7.3 7.3 0 1 0 14.60 0a7.3 7.3 0 1 0 -14.60 0zM705.0 863.5a7.3 7.3 0 1 0 14.60 0a7.3 7.3 0 1 0 -14.60 0zM705.7 863.6a7.3 7.3 0 1 0 14.60 0a7.3 7.3 0 1 0 -14.60 0zM706.3 863.8a7.3 7.3 0 1 0 14.60 0a7.3 7.3 0 1 0 -14.60 0zM707.0 863.9a7.3 7.3 0 1 0 14.60 0a7.3 7.3 0 1 0 -14.60 0zM707.7 863.8a7.3 7.3 0 1 0 14.60 0a7.3 7.3 0 1 0 -14.60 0zM708.4 863.9a7.3 7.3 0 1 0 14.60 0a7.3 7.3 0 1 0 -14.60 0zM709.0 864.1a7.3 7.3 0 1 0 14.60 0a7.3 7.3 0 1 0 -14.60 0zM709.7 864.6a7.3 7.3 0 1 0 14.60 0a7.3 7.3 0 1 0 -14.60 0zM710.4 864.6a7.3 7.3 0 1 0 14.60 0a7.3 7.3 0 1 0 -14.60 0zM711.0 865.0a7.3 7.3 0 1 0 14.60 0a7.3 7.3 0 1 0 -14.60 0zM711.7 865.1a7.3 7.3 0 1 0 14.60 0a7.3 7.3 0 1 0 -14.60 0zM712.4 865.6a7.3 7.3 0 1 0 14.60 0a7.3 7.3 0 1 0 -14.60 0zM713.0 866.0a7.3 7.3 0 1 0 14.60 0a7.3 7.3 0 1 0 -14.60 0zM713.7 866.1a7.3 7.3 0 1 0 14.60 0a7.3 7.3 0 1 0 -14.60 0zM714.3 866.3a7.3 7.3 0 1 0 14.60 0a7.3 7.3 0 1 0 -14.60 0zM715.0 866.5a7.3 7.3 0 1 0 14.60 0a7.3 7.3 0 1 0 -14.60 0zM715.6 866.6a7.3 7.3 0 1 0 14.60 0a7.3 7.3 0 1 0 -14.60 0zM716.3 867.1a7.3 7.3 0 1 0 14.60 0a7.3 7.3 0 1 0 -14.60 0zM716.9 866.8a7.3 7.3 0 1 0 14.60 0a7.3 7.3 0 1 0 -14.60 0zM717.5 867.2a7.3 7.3 0 1 0 14.60 0a7.3 7.3 0 1 0 -14.60 0zM718.2 867.5a7.3 7.3 0 1 0 14.60 0a7.3 7.3 0 1 0 -14.60 0zM718.8 867.8a7.3 7.3 0 1 0 14.60 0a7.3 7.3 0 1 0 -14.60 0zM719.4 868.2a7.3 7.3 0 1 0 14.60 0a7.3 7.3 0 1 0 -14.60 0zM720.1 868.3a7.3 7.3 0 1 0 14.60 0a7.3 7.3 0 1 0 -14.60 0zM720.7 868.5a7.3 7.3 0 1 0 14.60 0a7.3 7.3 0 1 0 -14.60 0zM721.3 868.6a7.3 7.3 0 1 0 14.60 0a7.3 7.3 0 1 0 -14.60 0zM721.9 868.6a7.3 7.3 0 1 0 14.60 0a7.3 7.3 0 1 0 -14.60 0zM722.5 869.5a7.3 7.3 0 1 0 14.60 0a7.3 7.3 0 1 0 -14.60 0zM723.2 869.4a7.3 7.3 0 1 0 14.60 0a7.3 7.3 0 1 0 -14.60 0zM723.8 869.6a7.3 7.3 0 1 0 14.60 0a7.3 7.3 0 1 0 -14.60 0zM724.4 870.1a7.3 7.3 0 1 0 14.60 0a7.3 7.3 0 1 0 -14.60 0zM725.0 870.0a7.3 7.3 0 1 0 14.60 0a7.3 7.3 0 1 0 -14.60 0zM725.6 870.2a7.3 7.3 0 1 0 14.60 0a7.3 7.3 0 1 0 -14.60 0zM726.2 870.4a7.3 7.3 0 1 0 14.60 0a7.3 7.3 0 1 0 -14.60 0zM726.8 870.9a7.3 7.3 0 1 0 14.60 0a7.3 7.3 0 1 0 -14.60 0zM728.0 871.3a7.3 7.3 0 1 0 14.60 0a7.3 7.3 0 1 0 -14.60 0zM729.2 872.0a7.3 7.3 0 1 0 14.60 0a7.3 7.3 0 1 0 -14.60 0zM730.4 872.6a7.3 7.3 0 1 0 14.60 0a7.3 7.3 0 1 0 -14.60 0zM731.5 872.9a7.3 7.3 0 1 0 14.60 0a7.3 7.3 0 1 0 -14.60 0zM732.7 872.8a7.3 7.3 0 1 0 14.60 0a7.3 7.3 0 1 0 -14.60 0zM733.9 873.3a7.3 7.3 0 1 0 14.60 0a7.3 7.3 0 1 0 -14.60 0zM735.0 874.0a7.3 7.3 0 1 0 14.60 0a7.3 7.3 0 1 0 -14.60 0zM736.1 874.3a7.3 7.3 0 1 0 14.60 0a7.3 7.3 0 1 0 -14.60 0zM737.3 874.6a7.3 7.3 0 1 0 14.60 0a7.3 7.3 0 1 0 -14.60 0zM738.4 874.5a7.3 7.3 0 1 0 14.60 0a7.3 7.3 0 1 0 -14.60 0zM739.5 875.1a7.3 7.3 0 1 0 14.60 0a7.3 7.3 0 1 0 -14.60 0zM740.6 875.4a7.3 7.3 0 1 0 14.60 0a7.3 7.3 0 1 0 -14.60 0zM741.7 876.0a7.3 7.3 0 1 0 14.60 0a7.3 7.3 0 1 0 -14.60 0zM742.8 876.2a7.3 7.3 0 1 0 14.60 0a7.3 7.3 0 1 0 -14.60 0zM743.9 877.0a7.3 7.3 0 1 0 14.60 0a7.3 7.3 0 1 0 -14.60 0zM745.0 877.1a7.3 7.3 0 1 0 14.60 0a7.3 7.3 0 1 0 -14.60 0zM746.0 877.0a7.3 7.3 0 1 0 14.60 0a7.3 7.3 0 1 0 -14.60 0zM747.1 877.6a7.3 7.3 0 1 0 14.60 0a7.3 7.3 0 1 0 -14.60 0zM748.2 878.0a7.3 7.3 0 1 0 14.60 0a7.3 7.3 0 1 0 -14.60 0zM749.2 878.5a7.3 7.3 0 1 0 14.60 0a7.3 7.3 0 1 0 -14.60 0zM750.2 878.5a7.3 7.3 0 1 0 14.60 0a7.3 7.3 0 1 0 -14.60 0zM751.3 878.8a7.3 7.3 0 1 0 14.60 0a7.3 7.3 0 1 0 -14.60 0zM752.3 879.6a7.3 7.3 0 1 0 14.60 0a7.3 7.3 0 1 0 -14.60 0zM753.3 879.7a7.3 7.3 0 1 0 14.60 0a7.3 7.3 0 1 0 -14.60 0zM754.3 880.4a7.3 7.3 0 1 0 14.60 0a7.3 7.3 0 1 0 -14.60 0zM755.4 880.5a7.3 7.3 0 1 0 14.60 0a7.3 7.3 0 1 0 -14.60 0zM756.4 881.0a7.3 7.3 0 1 0 14.60 0a7.3 7.3 0 1 0 -14.60 0zM757.4 880.5a7.3 7.3 0 1 0 14.60 0a7.3 7.3 0 1 0 -14.60 0zM758.3 881.2a7.3 7.3 0 1 0 14.60 0a7.3 7.3 0 1 0 -14.60 0zM759.3 881.4a7.3 7.3 0 1 0 14.60 0a7.3 7.3 0 1 0 -14.60 0zM760.3 881.8a7.3 7.3 0 1 0 14.60 0a7.3 7.3 0 1 0 -14.60 0zM761.3 881.8a7.3 7.3 0 1 0 14.60 0a7.3 7.3 0 1 0 -14.60 0zM762.3 881.7a7.3 7.3 0 1 0 14.60 0a7.3 7.3 0 1 0 -14.60 0zM763.2 882.3a7.3 7.3 0 1 0 14.60 0a7.3 7.3 0 1 0 -14.60 0zM764.2 882.3a7.3 7.3 0 1 0 14.60 0a7.3 7.3 0 1 0 -14.60 0zM765.1 883.1a7.3 7.3 0 1 0 14.60 0a7.3 7.3 0 1 0 -14.60 0zM766.1 883.5a7.3 7.3 0 1 0 14.60 0a7.3 7.3 0 1 0 -14.60 0zM767.0 883.2a7.3 7.3 0 1 0 14.60 0a7.3 7.3 0 1 0 -14.60 0zM767.9 883.2a7.3 7.3 0 1 0 14.60 0a7.3 7.3 0 1 0 -14.60 0zM768.9 883.5a7.3 7.3 0 1 0 14.60 0a7.3 7.3 0 1 0 -14.60 0zM769.8 884.5a7.3 7.3 0 1 0 14.60 0a7.3 7.3 0 1 0 -14.60 0zM770.7 884.6a7.3 7.3 0 1 0 14.60 0a7.3 7.3 0 1 0 -14.60 0zM771.6 885.3a7.3 7.3 0 1 0 14.60 0a7.3 7.3 0 1 0 -14.60 0zM772.5 885.7a7.3 7.3 0 1 0 14.60 0a7.3 7.3 0 1 0 -14.60 0zM773.4 885.8a7.3 7.3 0 1 0 14.60 0a7.3 7.3 0 1 0 -14.60 0zM774.3 886.1a7.3 7.3 0 1 0 14.60 0a7.3 7.3 0 1 0 -14.60 0zM775.2 885.3a7.3 7.3 0 1 0 14.60 0a7.3 7.3 0 1 0 -14.60 0zM776.1 885.7a7.3 7.3 0 1 0 14.60 0a7.3 7.3 0 1 0 -14.60 0zM777.0 886.9a7.3 7.3 0 1 0 14.60 0a7.3 7.3 0 1 0 -14.60 0zM777.9 886.6a7.3 7.3 0 1 0 14.60 0a7.3 7.3 0 1 0 -14.60 0zM778.7 886.5a7.3 7.3 0 1 0 14.60 0a7.3 7.3 0 1 0 -14.60 0zM779.6 886.2a7.3 7.3 0 1 0 14.60 0a7.3 7.3 0 1 0 -14.60 0zM780.5 886.7a7.3 7.3 0 1 0 14.60 0a7.3 7.3 0 1 0 -14.60 0zM781.3 887.1a7.3 7.3 0 1 0 14.60 0a7.3 7.3 0 1 0 -14.60 0zM782.2 887.4a7.3 7.3 0 1 0 14.60 0a7.3 7.3 0 1 0 -14.60 0zM783.0 887.0a7.3 7.3 0 1 0 14.60 0a7.3 7.3 0 1 0 -14.60 0zM783.9 887.2a7.3 7.3 0 1 0 14.60 0a7.3 7.3 0 1 0 -14.60 0zM784.7 887.4a7.3 7.3 0 1 0 14.60 0a7.3 7.3 0 1 0 -14.60 0zM785.5 887.2a7.3 7.3 0 1 0 14.60 0a7.3 7.3 0 1 0 -14.60 0zM786.4 887.8a7.3 7.3 0 1 0 14.60 0a7.3 7.3 0 1 0 -14.60 0zM787.2 887.9a7.3 7.3 0 1 0 14.60 0a7.3 7.3 0 1 0 -14.60 0zM788.0 887.9a7.3 7.3 0 1 0 14.60 0a7.3 7.3 0 1 0 -14.60 0zM788.9 889.0a7.3 7.3 0 1 0 14.60 0a7.3 7.3 0 1 0 -14.60 0zM789.7 889.5a7.3 7.3 0 1 0 14.60 0a7.3 7.3 0 1 0 -14.60 0zM790.5 888.8a7.3 7.3 0 1 0 14.60 0a7.3 7.3 0 1 0 -14.60 0zM791.3 889.4a7.3 7.3 0 1 0 14.60 0a7.3 7.3 0 1 0 -14.60 0zM792.1 890.2a7.3 7.3 0 1 0 14.60 0a7.3 7.3 0 1 0 -14.60 0zM792.9 890.7a7.3 7.3 0 1 0 14.60 0a7.3 7.3 0 1 0 -14.60 0zM793.7 890.6a7.3 7.3 0 1 0 14.60 0a7.3 7.3 0 1 0 -14.60 0zM794.5 891.1a7.3 7.3 0 1 0 14.60 0a7.3 7.3 0 1 0 -14.60 0zM795.3 891.4a7.3 7.3 0 1 0 14.60 0a7.3 7.3 0 1 0 -14.60 0zM796.0 891.3a7.3 7.3 0 1 0 14.60 0a7.3 7.3 0 1 0 -14.60 0zM796.8 891.4a7.3 7.3 0 1 0 14.60 0a7.3 7.3 0 1 0 -14.60 0zM797.6 891.8a7.3 7.3 0 1 0 14.60 0a7.3 7.3 0 1 0 -14.60 0zM798.4 892.3a7.3 7.3 0 1 0 14.60 0a7.3 7.3 0 1 0 -14.60 0zM799.1 892.5a7.3 7.3 0 1 0 14.60 0a7.3 7.3 0 1 0 -14.60 0zM799.9 892.4a7.3 7.3 0 1 0 14.60 0a7.3 7.3 0 1 0 -14.60 0zM800.7 892.8a7.3 7.3 0 1 0 14.60 0a7.3 7.3 0 1 0 -14.60 0zM801.4 893.1a7.3 7.3 0 1 0 14.60 0a7.3 7.3 0 1 0 -14.60 0zM802.2 892.6a7.3 7.3 0 1 0 14.60 0a7.3 7.3 0 1 0 -14.60 0zM802.9 892.4a7.3 7.3 0 1 0 14.60 0a7.3 7.3 0 1 0 -14.60 0zM803.7 892.9a7.3 7.3 0 1 0 14.60 0a7.3 7.3 0 1 0 -14.60 0zM804.4 892.1a7.3 7.3 0 1 0 14.60 0a7.3 7.3 0 1 0 -14.60 0zM805.2 892.2a7.3 7.3 0 1 0 14.60 0a7.3 7.3 0 1 0 -14.60 0zM805.9 891.8a7.3 7.3 0 1 0 14.60 0a7.3 7.3 0 1 0 -14.60 0zM806.6 892.5a7.3 7.3 0 1 0 14.60 0a7.3 7.3 0 1 0 -14.60 0zM807.4 892.7a7.3 7.3 0 1 0 14.60 0a7.3 7.3 0 1 0 -14.60 0zM808.1 892.9a7.3 7.3 0 1 0 14.60 0a7.3 7.3 0 1 0 -14.60 0zM808.8 892.9a7.3 7.3 0 1 0 14.60 0a7.3 7.3 0 1 0 -14.60 0zM809.5 893.0a7.3 7.3 0 1 0 14.60 0a7.3 7.3 0 1 0 -14.60 0zM810.2 893.7a7.3 7.3 0 1 0 14.60 0a7.3 7.3 0 1 0 -14.60 0zM811.0 893.3a7.3 7.3 0 1 0 14.60 0a7.3 7.3 0 1 0 -14.60 0zM811.7 893.4a7.3 7.3 0 1 0 14.60 0a7.3 7.3 0 1 0 -14.60 0zM812.4 893.4a7.3 7.3 0 1 0 14.60 0a7.3 7.3 0 1 0 -14.60 0zM813.1 893.8a7.3 7.3 0 1 0 14.60 0a7.3 7.3 0 1 0 -14.60 0zM813.8 894.2a7.3 7.3 0 1 0 14.60 0a7.3 7.3 0 1 0 -14.60 0zM814.5 894.9a7.3 7.3 0 1 0 14.60 0a7.3 7.3 0 1 0 -14.60 0zM815.2 895.7a7.3 7.3 0 1 0 14.60 0a7.3 7.3 0 1 0 -14.60 0zM815.9 895.5a7.3 7.3 0 1 0 14.60 0a7.3 7.3 0 1 0 -14.60 0zM816.6 896.0a7.3 7.3 0 1 0 14.60 0a7.3 7.3 0 1 0 -14.60 0zM817.2 896.0a7.3 7.3 0 1 0 14.60 0a7.3 7.3 0 1 0 -14.60 0zM817.9 895.7a7.3 7.3 0 1 0 14.60 0a7.3 7.3 0 1 0 -14.60 0zM818.6 896.0a7.3 7.3 0 1 0 14.60 0a7.3 7.3 0 1 0 -14.60 0zM819.3 896.1a7.3 7.3 0 1 0 14.60 0a7.3 7.3 0 1 0 -14.60 0zM820.0 896.1a7.3 7.3 0 1 0 14.60 0a7.3 7.3 0 1 0 -14.60 0zM820.6 896.7a7.3 7.3 0 1 0 14.60 0a7.3 7.3 0 1 0 -14.60 0zM821.3 896.6a7.3 7.3 0 1 0 14.60 0a7.3 7.3 0 1 0 -14.60 0zM822.0 896.9a7.3 7.3 0 1 0 14.60 0a7.3 7.3 0 1 0 -14.60 0zM822.6 897.3a7.3 7.3 0 1 0 14.60 0a7.3 7.3 0 1 0 -14.60 0zM823.3 896.4a7.3 7.3 0 1 0 14.60 0a7.3 7.3 0 1 0 -14.60 0zM824.0 897.2a7.3 7.3 0 1 0 14.60 0a7.3 7.3 0 1 0 -14.60 0zM824.6 897.1a7.3 7.3 0 1 0 14.60 0a7.3 7.3 0 1 0 -14.60 0zM825.3 896.7a7.3 7.3 0 1 0 14.60 0a7.3 7.3 0 1 0 -14.60 0zM825.9 896.3a7.3 7.3 0 1 0 14.60 0a7.3 7.3 0 1 0 -14.60 0zM826.6 896.6a7.3 7.3 0 1 0 14.60 0a7.3 7.3 0 1 0 -14.60 0zM827.2 896.7a7.3 7.3 0 1 0 14.60 0a7.3 7.3 0 1 0 -14.60 0zM827.9 896.7a7.3 7.3 0 1 0 14.60 0a7.3 7.3 0 1 0 -14.60 0zM828.5 896.6a7.3 7.3 0 1 0 14.60 0a7.3 7.3 0 1 0 -14.60 0zM829.1 896.6a7.3 7.3 0 1 0 14.60 0a7.3 7.3 0 1 0 -14.60 0zM829.8 896.8a7.3 7.3 0 1 0 14.60 0a7.3 7.3 0 1 0 -14.60 0zM830.4 897.4a7.3 7.3 0 1 0 14.60 0a7.3 7.3 0 1 0 -14.60 0zM831.0 897.4a7.3 7.3 0 1 0 14.60 0a7.3 7.3 0 1 0 -14.60 0zM831.7 897.8a7.3 7.3 0 1 0 14.60 0a7.3 7.3 0 1 0 -14.60 0zM832.3 897.8a7.3 7.3 0 1 0 14.60 0a7.3 7.3 0 1 0 -14.60 0zM832.9 898.0a7.3 7.3 0 1 0 14.60 0a7.3 7.3 0 1 0 -14.60 0zM833.5 898.2a7.3 7.3 0 1 0 14.60 0a7.3 7.3 0 1 0 -14.60 0zM834.1 898.8a7.3 7.3 0 1 0 14.60 0a7.3 7.3 0 1 0 -14.60 0zM834.8 898.3a7.3 7.3 0 1 0 14.60 0a7.3 7.3 0 1 0 -14.60 0zM835.4 899.2a7.3 7.3 0 1 0 14.60 0a7.3 7.3 0 1 0 -14.60 0zM836.0 899.3a7.3 7.3 0 1 0 14.60 0a7.3 7.3 0 1 0 -14.60 0zM836.6 899.3a7.3 7.3 0 1 0 14.60 0a7.3 7.3 0 1 0 -14.60 0zM837.2 899.1a7.3 7.3 0 1 0 14.60 0a7.3 7.3 0 1 0 -14.60 0zM837.8 899.4a7.3 7.3 0 1 0 14.60 0a7.3 7.3 0 1 0 -14.60 0zM838.4 899.2a7.3 7.3 0 1 0 14.60 0a7.3 7.3 0 1 0 -14.60 0zM839.3 899.9a7.3 7.3 0 1 0 14.60 0a7.3 7.3 0 1 0 -14.60 0zM840.2 900.1a7.3 7.3 0 1 0 14.60 0a7.3 7.3 0 1 0 -14.60 0zM841.1 899.8a7.3 7.3 0 1 0 14.60 0a7.3 7.3 0 1 0 -14.60 0zM842.0 899.4a7.3 7.3 0 1 0 14.60 0a7.3 7.3 0 1 0 -14.60 0zM842.8 899.4a7.3 7.3 0 1 0 14.60 0a7.3 7.3 0 1 0 -14.60 0zM843.7 899.5a7.3 7.3 0 1 0 14.60 0a7.3 7.3 0 1 0 -14.60 0zM844.6 899.5a7.3 7.3 0 1 0 14.60 0a7.3 7.3 0 1 0 -14.60 0zM845.5 899.5a7.3 7.3 0 1 0 14.60 0a7.3 7.3 0 1 0 -14.60 0zM846.3 900.4a7.3 7.3 0 1 0 14.60 0a7.3 7.3 0 1 0 -14.60 0zM847.2 900.9a7.3 7.3 0 1 0 14.60 0a7.3 7.3 0 1 0 -14.60 0zM848.0 901.2a7.3 7.3 0 1 0 14.60 0a7.3 7.3 0 1 0 -14.60 0zM848.9 901.3a7.3 7.3 0 1 0 14.60 0a7.3 7.3 0 1 0 -14.60 0zM849.7 901.7a7.3 7.3 0 1 0 14.60 0a7.3 7.3 0 1 0 -14.60 0zM850.5 902.4a7.3 7.3 0 1 0 14.60 0a7.3 7.3 0 1 0 -14.60 0zM851.4 902.7a7.3 7.3 0 1 0 14.60 0a7.3 7.3 0 1 0 -14.60 0zM852.2 903.5a7.3 7.3 0 1 0 14.60 0a7.3 7.3 0 1 0 -14.60 0zM853.0 904.7a7.3 7.3 0 1 0 14.60 0a7.3 7.3 0 1 0 -14.60 0zM853.9 904.5a7.3 7.3 0 1 0 14.60 0a7.3 7.3 0 1 0 -14.60 0zM854.7 904.5a7.3 7.3 0 1 0 14.60 0a7.3 7.3 0 1 0 -14.60 0zM855.5 904.4a7.3 7.3 0 1 0 14.60 0a7.3 7.3 0 1 0 -14.60 0zM856.3 904.2a7.3 7.3 0 1 0 14.60 0a7.3 7.3 0 1 0 -14.60 0zM857.1 903.8a7.3 7.3 0 1 0 14.60 0a7.3 7.3 0 1 0 -14.60 0zM857.9 904.3a7.3 7.3 0 1 0 14.60 0a7.3 7.3 0 1 0 -14.60 0zM858.7 904.4a7.3 7.3 0 1 0 14.60 0a7.3 7.3 0 1 0 -14.60 0zM859.5 904.1a7.3 7.3 0 1 0 14.60 0a7.3 7.3 0 1 0 -14.60 0zM860.3 904.2a7.3 7.3 0 1 0 14.60 0a7.3 7.3 0 1 0 -14.60 0zM861.1 904.6a7.3 7.3 0 1 0 14.60 0a7.3 7.3 0 1 0 -14.60 0zM861.8 904.1a7.3 7.3 0 1 0 14.60 0a7.3 7.3 0 1 0 -14.60 0zM862.6 903.9a7.3 7.3 0 1 0 14.60 0a7.3 7.3 0 1 0 -14.60 0zM863.4 903.7a7.3 7.3 0 1 0 14.60 0a7.3 7.3 0 1 0 -14.60 0zM864.2 903.2a7.3 7.3 0 1 0 14.60 0a7.3 7.3 0 1 0 -14.60 0zM864.9 903.6a7.3 7.3 0 1 0 14.60 0a7.3 7.3 0 1 0 -14.60 0zM865.7 903.3a7.3 7.3 0 1 0 14.60 0a7.3 7.3 0 1 0 -14.60 0zM866.4 903.3a7.3 7.3 0 1 0 14.60 0a7.3 7.3 0 1 0 -14.60 0zM867.2 903.3a7.3 7.3 0 1 0 14.60 0a7.3 7.3 0 1 0 -14.60 0zM868.0 903.4a7.3 7.3 0 1 0 14.60 0a7.3 7.3 0 1 0 -14.60 0zM868.7 903.5a7.3 7.3 0 1 0 14.60 0a7.3 7.3 0 1 0 -14.60 0zM869.4 903.9a7.3 7.3 0 1 0 14.60 0a7.3 7.3 0 1 0 -14.60 0zM870.2 904.3a7.3 7.3 0 1 0 14.60 0a7.3 7.3 0 1 0 -14.60 0zM870.9 904.9a7.3 7.3 0 1 0 14.60 0a7.3 7.3 0 1 0 -14.60 0zM871.7 905.2a7.3 7.3 0 1 0 14.60 0a7.3 7.3 0 1 0 -14.60 0zM872.4 905.7a7.3 7.3 0 1 0 14.60 0a7.3 7.3 0 1 0 -14.60 0zM873.1 905.2a7.3 7.3 0 1 0 14.60 0a7.3 7.3 0 1 0 -14.60 0zM873.8 905.9a7.3 7.3 0 1 0 14.60 0a7.3 7.3 0 1 0 -14.60 0zM874.6 905.1a7.3 7.3 0 1 0 14.60 0a7.3 7.3 0 1 0 -14.60 0zM875.3 905.1a7.3 7.3 0 1 0 14.60 0a7.3 7.3 0 1 0 -14.60 0zM876.0 905.6a7.3 7.3 0 1 0 14.60 0a7.3 7.3 0 1 0 -14.60 0zM876.7 904.4a7.3 7.3 0 1 0 14.60 0a7.3 7.3 0 1 0 -14.60 0zM877.4 904.7a7.3 7.3 0 1 0 14.60 0a7.3 7.3 0 1 0 -14.60 0zM878.1 904.5a7.3 7.3 0 1 0 14.60 0a7.3 7.3 0 1 0 -14.60 0zM878.8 903.8a7.3 7.3 0 1 0 14.60 0a7.3 7.3 0 1 0 -14.60 0zM879.5 905.0a7.3 7.3 0 1 0 14.60 0a7.3 7.3 0 1 0 -14.60 0zM880.2 905.3a7.3 7.3 0 1 0 14.60 0a7.3 7.3 0 1 0 -14.60 0zM880.9 905.3a7.3 7.3 0 1 0 14.60 0a7.3 7.3 0 1 0 -14.60 0zM881.6 905.1a7.3 7.3 0 1 0 14.60 0a7.3 7.3 0 1 0 -14.60 0zM882.3 905.3a7.3 7.3 0 1 0 14.60 0a7.3 7.3 0 1 0 -14.60 0zM883.0 905.6a7.3 7.3 0 1 0 14.60 0a7.3 7.3 0 1 0 -14.60 0zM883.7 906.2a7.3 7.3 0 1 0 14.60 0a7.3 7.3 0 1 0 -14.60 0zM884.3 906.9a7.3 7.3 0 1 0 14.60 0a7.3 7.3 0 1 0 -14.60 0zM885.0 906.8a7.3 7.3 0 1 0 14.60 0a7.3 7.3 0 1 0 -14.60 0zM885.7 907.0a7.3 7.3 0 1 0 14.60 0a7.3 7.3 0 1 0 -14.60 0zM886.4 907.2a7.3 7.3 0 1 0 14.60 0a7.3 7.3 0 1 0 -14.60 0zM887.0 906.7a7.3 7.3 0 1 0 14.60 0a7.3 7.3 0 1 0 -14.60 0zM887.7 906.6a7.3 7.3 0 1 0 14.60 0a7.3 7.3 0 1 0 -14.60 0zM888.4 906.1a7.3 7.3 0 1 0 14.60 0a7.3 7.3 0 1 0 -14.60 0zM889.0 907.1a7.3 7.3 0 1 0 14.60 0a7.3 7.3 0 1 0 -14.60 0zM889.7 906.0a7.3 7.3 0 1 0 14.60 0a7.3 7.3 0 1 0 -14.60 0zM890.3 906.4a7.3 7.3 0 1 0 14.60 0a7.3 7.3 0 1 0 -14.60 0zM891.0 906.1a7.3 7.3 0 1 0 14.60 0a7.3 7.3 0 1 0 -14.60 0zM891.6 906.2a7.3 7.3 0 1 0 14.60 0a7.3 7.3 0 1 0 -14.60 0zM892.3 905.3a7.3 7.3 0 1 0 14.60 0a7.3 7.3 0 1 0 -14.60 0zM892.9 904.5a7.3 7.3 0 1 0 14.60 0a7.3 7.3 0 1 0 -14.60 0zM893.6 905.1a7.3 7.3 0 1 0 14.60 0a7.3 7.3 0 1 0 -14.60 0zM894.2 904.3a7.3 7.3 0 1 0 14.60 0a7.3 7.3 0 1 0 -14.60 0zM894.8 905.2a7.3 7.3 0 1 0 14.60 0a7.3 7.3 0 1 0 -14.60 0zM895.5 905.4a7.3 7.3 0 1 0 14.60 0a7.3 7.3 0 1 0 -14.60 0zM896.1 904.5a7.3 7.3 0 1 0 14.60 0a7.3 7.3 0 1 0 -14.60 0zM896.7 904.1a7.3 7.3 0 1 0 14.60 0a7.3 7.3 0 1 0 -14.60 0zM897.3 905.0a7.3 7.3 0 1 0 14.60 0a7.3 7.3 0 1 0 -14.60 0zM898.0 905.3a7.3 7.3 0 1 0 14.60 0a7.3 7.3 0 1 0 -14.60 0zM898.6 905.1a7.3 7.3 0 1 0 14.60 0a7.3 7.3 0 1 0 -14.60 0zM899.2 905.4a7.3 7.3 0 1 0 14.60 0a7.3 7.3 0 1 0 -14.60 0zM899.8 904.9a7.3 7.3 0 1 0 14.60 0a7.3 7.3 0 1 0 -14.60 0zM900.4 905.9a7.3 7.3 0 1 0 14.60 0a7.3 7.3 0 1 0 -14.60 0zM901.1 905.8a7.3 7.3 0 1 0 14.60 0a7.3 7.3 0 1 0 -14.60 0zM901.7 905.5a7.3 7.3 0 1 0 14.60 0a7.3 7.3 0 1 0 -14.60 0zM902.3 905.9a7.3 7.3 0 1 0 14.60 0a7.3 7.3 0 1 0 -14.60 0zM902.9 905.6a7.3 7.3 0 1 0 14.60 0a7.3 7.3 0 1 0 -14.60 0zM903.5 905.8a7.3 7.3 0 1 0 14.60 0a7.3 7.3 0 1 0 -14.60 0zM904.1 905.6a7.3 7.3 0 1 0 14.60 0a7.3 7.3 0 1 0 -14.60 0zM904.9 906.1a7.3 7.3 0 1 0 14.60 0a7.3 7.3 0 1 0 -14.60 0zM905.7 905.5a7.3 7.3 0 1 0 14.60 0a7.3 7.3 0 1 0 -14.60 0zM906.5 906.0a7.3 7.3 0 1 0 14.60 0a7.3 7.3 0 1 0 -14.60 0zM907.2 905.8a7.3 7.3 0 1 0 14.60 0a7.3 7.3 0 1 0 -14.60 0zM908.0 905.5a7.3 7.3 0 1 0 14.60 0a7.3 7.3 0 1 0 -14.60 0zM908.8 905.3a7.3 7.3 0 1 0 14.60 0a7.3 7.3 0 1 0 -14.60 0zM909.6 905.9a7.3 7.3 0 1 0 14.60 0a7.3 7.3 0 1 0 -14.60 0zM910.3 905.5a7.3 7.3 0 1 0 14.60 0a7.3 7.3 0 1 0 -14.60 0zM911.1 905.4a7.3 7.3 0 1 0 14.60 0a7.3 7.3 0 1 0 -14.60 0zM911.9 905.3a7.3 7.3 0 1 0 14.60 0a7.3 7.3 0 1 0 -14.60 0zM912.6 905.7a7.3 7.3 0 1 0 14.60 0a7.3 7.3 0 1 0 -14.60 0zM913.4 905.7a7.3 7.3 0 1 0 14.60 0a7.3 7.3 0 1 0 -14.60 0zM914.1 905.0a7.3 7.3 0 1 0 14.60 0a7.3 7.3 0 1 0 -14.60 0zM914.9 904.4a7.3 7.3 0 1 0 14.60 0a7.3 7.3 0 1 0 -14.60 0zM915.6 904.7a7.3 7.3 0 1 0 14.60 0a7.3 7.3 0 1 0 -14.60 0zM916.4 904.5a7.3 7.3 0 1 0 14.60 0a7.3 7.3 0 1 0 -14.60 0zM917.1 905.6a7.3 7.3 0 1 0 14.60 0a7.3 7.3 0 1 0 -14.60 0zM917.9 904.7a7.3 7.3 0 1 0 14.60 0a7.3 7.3 0 1 0 -14.60 0zM918.6 903.8a7.3 7.3 0 1 0 14.60 0a7.3 7.3 0 1 0 -14.60 0zM919.3 904.1a7.3 7.3 0 1 0 14.60 0a7.3 7.3 0 1 0 -14.60 0zM920.0 904.2a7.3 7.3 0 1 0 14.60 0a7.3 7.3 0 1 0 -14.60 0zM920.8 903.0a7.3 7.3 0 1 0 14.60 0a7.3 7.3 0 1 0 -14.60 0zM921.5 903.3a7.3 7.3 0 1 0 14.60 0a7.3 7.3 0 1 0 -14.60 0zM922.2 903.4a7.3 7.3 0 1 0 14.60 0a7.3 7.3 0 1 0 -14.60 0zM922.9 903.5a7.3 7.3 0 1 0 14.60 0a7.3 7.3 0 1 0 -14.60 0zM923.6 903.7a7.3 7.3 0 1 0 14.60 0a7.3 7.3 0 1 0 -14.60 0zM924.3 903.7a7.3 7.3 0 1 0 14.60 0a7.3 7.3 0 1 0 -14.60 0zM925.0 904.6a7.3 7.3 0 1 0 14.60 0a7.3 7.3 0 1 0 -14.60 0zM925.7 905.2a7.3 7.3 0 1 0 14.60 0a7.3 7.3 0 1 0 -14.60 0zM926.4 905.7a7.3 7.3 0 1 0 14.60 0a7.3 7.3 0 1 0 -14.60 0zM927.1 905.6a7.3 7.3 0 1 0 14.60 0a7.3 7.3 0 1 0 -14.60 0zM927.8 905.9a7.3 7.3 0 1 0 14.60 0a7.3 7.3 0 1 0 -14.60 0zM928.5 904.9a7.3 7.3 0 1 0 14.60 0a7.3 7.3 0 1 0 -14.60 0zM929.2 904.5a7.3 7.3 0 1 0 14.60 0a7.3 7.3 0 1 0 -14.60 0zM929.9 904.1a7.3 7.3 0 1 0 14.60 0a7.3 7.3 0 1 0 -14.60 0zM930.5 904.1a7.3 7.3 0 1 0 14.60 0a7.3 7.3 0 1 0 -14.60 0zM931.2 904.4a7.3 7.3 0 1 0 14.60 0a7.3 7.3 0 1 0 -14.60 0zM931.9 904.1a7.3 7.3 0 1 0 14.60 0a7.3 7.3 0 1 0 -14.60 0zM932.6 903.4a7.3 7.3 0 1 0 14.60 0a7.3 7.3 0 1 0 -14.60 0zM933.2 903.2a7.3 7.3 0 1 0 14.60 0a7.3 7.3 0 1 0 -14.60 0zM933.9 903.1a7.3 7.3 0 1 0 14.60 0a7.3 7.3 0 1 0 -14.60 0zM934.6 903.4a7.3 7.3 0 1 0 14.60 0a7.3 7.3 0 1 0 -14.60 0zM935.2 903.8a7.3 7.3 0 1 0 14.60 0a7.3 7.3 0 1 0 -14.60 0zM935.5 903.5a7.3 7.3 0 1 0 14.60 0a7.3 7.3 0 1 0 -14.60 0z" fill="#000000" stroke="#000000" stroke-width="1.8" stroke-linejoin="miter"/>
<path d="M935.5 903.5a7.3 7.3 0 1 0 14.60 0a7.3 7.3 0 1 0 -14.60 0z" fill="url(#po0)" stroke="#000000" stroke-width="1.8" clip-path="url(#clipEnd)"/>
<g fill="url(#po0)" stroke="#000000" stroke-width="1.8"><path d="M480.4 773.9a7.3 7.3 0 1 0 14.60 0a7.3 7.3 0 1 0 -14.60 0z"/><path d="M477.6 772.4a7.3 7.3 0 1 0 14.60 0a7.3 7.3 0 1 0 -14.60 0z"/><path d="M474.8 770.8a7.3 7.3 0 1 0 14.60 0a7.3 7.3 0 1 0 -14.60 0z"/><path d="M471.9 769.2a7.3 7.3 0 1 0 14.60 0a7.3 7.3 0 1 0 -14.60 0z"/><path d="M468.9 767.9a7.3 7.3 0 1 0 14.60 0a7.3 7.3 0 1 0 -14.60 0z"/><path d="M465.9 766.3a7.3 7.3 0 1 0 14.60 0a7.3 7.3 0 1 0 -14.60 0z"/><path d="M462.8 764.8a7.3 7.3 0 1 0 14.60 0a7.3 7.3 0 1 0 -14.60 0z"/><path d="M459.7 763.1a7.3 7.3 0 1 0 14.60 0a7.3 7.3 0 1 0 -14.60 0z"/><path d="M456.5 761.4a7.3 7.3 0 1 0 14.60 0a7.3 7.3 0 1 0 -14.60 0z"/><path d="M453.3 759.9a7.3 7.3 0 1 0 14.60 0a7.3 7.3 0 1 0 -14.60 0z"/><path d="M449.9 758.2a7.3 7.3 0 1 0 14.60 0a7.3 7.3 0 1 0 -14.60 0z"/><path d="M446.5 756.2a7.3 7.3 0 1 0 14.60 0a7.3 7.3 0 1 0 -14.60 0z"/><path d="M443.1 754.1a7.3 7.3 0 1 0 14.60 0a7.3 7.3 0 1 0 -14.60 0z"/><path d="M439.5 752.4a7.3 7.3 0 1 0 14.60 0a7.3 7.3 0 1 0 -14.60 0z"/><path d="M435.9 750.4a7.3 7.3 0 1 0 14.60 0a7.3 7.3 0 1 0 -14.60 0z"/><path d="M432.2 748.5a7.3 7.3 0 1 0 14.60 0a7.3 7.3 0 1 0 -14.60 0z"/><path d="M428.4 746.6a7.3 7.3 0 1 0 14.60 0a7.3 7.3 0 1 0 -14.60 0z"/><path d="M424.6 744.5a7.3 7.3 0 1 0 14.60 0a7.3 7.3 0 1 0 -14.60 0z"/><path d="M420.6 742.1a7.3 7.3 0 1 0 14.60 0a7.3 7.3 0 1 0 -14.60 0z"/><path d="M416.5 740.2a7.3 7.3 0 1 0 14.60 0a7.3 7.3 0 1 0 -14.60 0z"/><path d="M412.3 737.9a7.3 7.3 0 1 0 14.60 0a7.3 7.3 0 1 0 -14.60 0z"/><path d="M408.0 735.6a7.3 7.3 0 1 0 14.60 0a7.3 7.3 0 1 0 -14.60 0z"/><path d="M403.6 733.2a7.3 7.3 0 1 0 14.60 0a7.3 7.3 0 1 0 -14.60 0z"/><path d="M399.1 731.0a7.3 7.3 0 1 0 14.60 0a7.3 7.3 0 1 0 -14.60 0z"/><path d="M394.4 728.7a7.3 7.3 0 1 0 14.60 0a7.3 7.3 0 1 0 -14.60 0z"/><path d="M389.6 726.5a7.3 7.3 0 1 0 14.60 0a7.3 7.3 0 1 0 -14.60 0z"/><path d="M384.7 724.1a7.3 7.3 0 1 0 14.60 0a7.3 7.3 0 1 0 -14.60 0z"/><path d="M379.5 722.0a7.3 7.3 0 1 0 14.60 0a7.3 7.3 0 1 0 -14.60 0z"/><path d="M374.3 719.6a7.3 7.3 0 1 0 14.60 0a7.3 7.3 0 1 0 -14.60 0z"/><path d="M368.8 717.2a7.3 7.3 0 1 0 14.60 0a7.3 7.3 0 1 0 -14.60 0z"/><path d="M363.2 714.9a7.3 7.3 0 1 0 14.60 0a7.3 7.3 0 1 0 -14.60 0z"/><path d="M357.3 712.4a7.3 7.3 0 1 0 14.60 0a7.3 7.3 0 1 0 -14.60 0z"/><path d="M351.2 710.0a7.3 7.3 0 1 0 14.60 0a7.3 7.3 0 1 0 -14.60 0z"/><path d="M344.9 707.5a7.3 7.3 0 1 0 14.60 0a7.3 7.3 0 1 0 -14.60 0z"/><path d="M338.3 704.9a7.3 7.3 0 1 0 14.60 0a7.3 7.3 0 1 0 -14.60 0z"/><path d="M331.5 702.3a7.3 7.3 0 1 0 14.60 0a7.3 7.3 0 1 0 -14.60 0z"/><path d="M324.3 699.5a7.3 7.3 0 1 0 14.60 0a7.3 7.3 0 1 0 -14.60 0z"/><path d="M316.8 696.7a7.3 7.3 0 1 0 14.60 0a7.3 7.3 0 1 0 -14.60 0z"/><path d="M309.0 693.9a7.3 7.3 0 1 0 14.60 0a7.3 7.3 0 1 0 -14.60 0z"/><path d="M300.7 691.1a7.3 7.3 0 1 0 14.60 0a7.3 7.3 0 1 0 -14.60 0z"/><path d="M292.0 688.3a7.3 7.3 0 1 0 14.60 0a7.3 7.3 0 1 0 -14.60 0z"/><path d="M282.8 685.5a7.3 7.3 0 1 0 14.60 0a7.3 7.3 0 1 0 -14.60 0z"/><path d="M273.1 682.7a7.3 7.3 0 1 0 14.60 0a7.3 7.3 0 1 0 -14.60 0z"/><path d="M262.7 679.8a7.3 7.3 0 1 0 14.60 0a7.3 7.3 0 1 0 -14.60 0z"/><path d="M251.6 676.9a7.3 7.3 0 1 0 14.60 0a7.3 7.3 0 1 0 -14.60 0z"/><path d="M239.6 674.1a7.3 7.3 0 1 0 14.60 0a7.3 7.3 0 1 0 -14.60 0z"/><path d="M226.8 671.1a7.3 7.3 0 1 0 14.60 0a7.3 7.3 0 1 0 -14.60 0z"/><path d="M212.7 668.1a7.3 7.3 0 1 0 14.60 0a7.3 7.3 0 1 0 -14.60 0z"/><path d="M197.4 665.2a7.3 7.3 0 1 0 14.60 0a7.3 7.3 0 1 0 -14.60 0z"/><path d="M180.4 662.4a7.3 7.3 0 1 0 14.60 0a7.3 7.3 0 1 0 -14.60 0z"/><path d="M161.5 659.6a7.3 7.3 0 1 0 14.60 0a7.3 7.3 0 1 0 -14.60 0z"/><path d="M140.0 657.0a7.3 7.3 0 1 0 14.60 0a7.3 7.3 0 1 0 -14.60 0z"/></g>
<path d="M484.2 770.8h12.6v12.6h-12.6zM486.9 772.0h12.6v12.6h-12.6zM489.5 773.5h12.6v12.6h-12.6zM492.1 774.5h12.6v12.6h-12.6zM494.7 776.0h12.6v12.6h-12.6zM497.3 777.5h12.6v12.6h-12.6zM499.7 778.9h12.6v12.6h-12.6zM502.2 780.1h12.6v12.6h-12.6zM504.6 781.6h12.6v12.6h-12.6zM507.0 783.0h12.6v12.6h-12.6zM509.4 784.2h12.6v12.6h-12.6zM511.7 785.4h12.6v12.6h-12.6zM514.0 786.9h12.6v12.6h-12.6zM516.2 788.2h12.6v12.6h-12.6zM518.4 789.3h12.6v12.6h-12.6zM520.6 790.5h12.6v12.6h-12.6zM522.8 791.6h12.6v12.6h-12.6zM524.9 792.8h12.6v12.6h-12.6zM527.0 794.0h12.6v12.6h-12.6zM529.1 795.0h12.6v12.6h-12.6zM531.2 796.6h12.6v12.6h-12.6zM533.2 797.5h12.6v12.6h-12.6zM535.2 798.6h12.6v12.6h-12.6zM537.2 799.7h12.6v12.6h-12.6zM539.1 800.8h12.6v12.6h-12.6zM541.0 802.0h12.6v12.6h-12.6zM542.9 802.7h12.6v12.6h-12.6zM544.8 803.6h12.6v12.6h-12.6zM546.7 804.6h12.6v12.6h-12.6zM548.5 805.3h12.6v12.6h-12.6zM550.3 806.4h12.6v12.6h-12.6zM552.1 807.3h12.6v12.6h-12.6zM553.9 808.1h12.6v12.6h-12.6zM555.7 809.0h12.6v12.6h-12.6zM557.4 810.0h12.6v12.6h-12.6zM559.1 810.7h12.6v12.6h-12.6zM560.8 811.3h12.6v12.6h-12.6zM562.5 811.7h12.6v12.6h-12.6zM564.2 812.1h12.6v12.6h-12.6zM565.8 813.0h12.6v12.6h-12.6zM567.5 813.5h12.6v12.6h-12.6zM569.1 814.0h12.6v12.6h-12.6zM570.7 814.8h12.6v12.6h-12.6zM572.3 815.5h12.6v12.6h-12.6zM573.9 815.7h12.6v12.6h-12.6zM575.4 816.5h12.6v12.6h-12.6zM577.0 817.0h12.6v12.6h-12.6zM578.5 817.9h12.6v12.6h-12.6zM580.0 817.8h12.6v12.6h-12.6zM581.5 818.7h12.6v12.6h-12.6zM583.0 819.2h12.6v12.6h-12.6zM584.4 819.8h12.6v12.6h-12.6zM585.9 820.1h12.6v12.6h-12.6zM587.3 820.3h12.6v12.6h-12.6zM588.8 821.2h12.6v12.6h-12.6zM590.2 822.0h12.6v12.6h-12.6zM591.6 822.8h12.6v12.6h-12.6zM593.0 823.6h12.6v12.6h-12.6zM594.4 824.1h12.6v12.6h-12.6zM595.7 824.3h12.6v12.6h-12.6zM597.1 825.2h12.6v12.6h-12.6zM598.5 825.7h12.6v12.6h-12.6zM599.8 826.0h12.6v12.6h-12.6zM601.1 826.6h12.6v12.6h-12.6zM602.4 827.4h12.6v12.6h-12.6zM603.7 827.5h12.6v12.6h-12.6zM605.0 828.1h12.6v12.6h-12.6zM606.3 828.8h12.6v12.6h-12.6zM607.6 829.5h12.6v12.6h-12.6zM608.8 830.1h12.6v12.6h-12.6zM610.1 830.6h12.6v12.6h-12.6zM611.3 831.1h12.6v12.6h-12.6zM612.6 831.8h12.6v12.6h-12.6zM613.8 832.2h12.6v12.6h-12.6zM615.0 832.6h12.6v12.6h-12.6zM616.2 833.4h12.6v12.6h-12.6zM617.4 833.2h12.6v12.6h-12.6zM618.6 833.9h12.6v12.6h-12.6zM619.8 834.6h12.6v12.6h-12.6zM621.0 835.2h12.6v12.6h-12.6zM622.1 835.6h12.6v12.6h-12.6zM623.3 836.3h12.6v12.6h-12.6zM624.4 836.6h12.6v12.6h-12.6zM625.6 837.1h12.6v12.6h-12.6zM626.7 837.0h12.6v12.6h-12.6zM627.8 837.4h12.6v12.6h-12.6zM628.9 838.5h12.6v12.6h-12.6zM630.0 838.6h12.6v12.6h-12.6zM631.1 839.2h12.6v12.6h-12.6zM632.2 839.7h12.6v12.6h-12.6zM633.3 840.0h12.6v12.6h-12.6zM634.4 840.6h12.6v12.6h-12.6zM635.4 841.0h12.6v12.6h-12.6zM636.5 841.8h12.6v12.6h-12.6zM637.6 842.0h12.6v12.6h-12.6zM638.6 842.1h12.6v12.6h-12.6zM639.7 842.6h12.6v12.6h-12.6zM640.7 843.3h12.6v12.6h-12.6zM641.7 844.0h12.6v12.6h-12.6zM642.7 844.6h12.6v12.6h-12.6zM643.8 844.9h12.6v12.6h-12.6zM644.8 845.5h12.6v12.6h-12.6zM645.8 846.5h12.6v12.6h-12.6zM646.8 846.7h12.6v12.6h-12.6zM647.8 847.5h12.6v12.6h-12.6zM648.7 847.5h12.6v12.6h-12.6zM649.7 847.9h12.6v12.6h-12.6zM650.7 848.7h12.6v12.6h-12.6zM651.7 849.0h12.6v12.6h-12.6zM652.6 849.0h12.6v12.6h-12.6zM653.6 849.7h12.6v12.6h-12.6zM654.5 850.2h12.6v12.6h-12.6zM655.5 851.0h12.6v12.6h-12.6zM656.4 851.4h12.6v12.6h-12.6zM657.3 851.7h12.6v12.6h-12.6zM658.3 852.4h12.6v12.6h-12.6zM659.2 852.9h12.6v12.6h-12.6zM660.1 853.4h12.6v12.6h-12.6zM661.0 853.8h12.6v12.6h-12.6zM661.9 854.1h12.6v12.6h-12.6zM662.8 854.6h12.6v12.6h-12.6zM663.7 855.2h12.6v12.6h-12.6zM664.6 855.6h12.6v12.6h-12.6zM665.5 856.2h12.6v12.6h-12.6zM666.4 856.3h12.6v12.6h-12.6zM667.3 856.6h12.6v12.6h-12.6zM668.1 857.4h12.6v12.6h-12.6zM669.0 858.0h12.6v12.6h-12.6zM669.9 858.1h12.6v12.6h-12.6zM670.7 858.4h12.6v12.6h-12.6zM671.6 858.6h12.6v12.6h-12.6zM672.4 858.7h12.6v12.6h-12.6zM673.3 859.2h12.6v12.6h-12.6zM674.1 859.1h12.6v12.6h-12.6zM675.0 860.1h12.6v12.6h-12.6zM675.8 860.3h12.6v12.6h-12.6zM676.6 860.7h12.6v12.6h-12.6zM677.4 861.1h12.6v12.6h-12.6zM678.3 861.8h12.6v12.6h-12.6zM679.1 862.8h12.6v12.6h-12.6zM679.9 863.1h12.6v12.6h-12.6zM680.7 862.9h12.6v12.6h-12.6zM681.5 863.6h12.6v12.6h-12.6zM682.3 863.9h12.6v12.6h-12.6zM683.1 864.5h12.6v12.6h-12.6zM683.9 864.6h12.6v12.6h-12.6zM684.7 865.0h12.6v12.6h-12.6zM685.5 865.8h12.6v12.6h-12.6zM686.2 865.9h12.6v12.6h-12.6zM687.0 865.8h12.6v12.6h-12.6zM687.8 866.5h12.6v12.6h-12.6zM688.5 866.9h12.6v12.6h-12.6zM689.3 867.7h12.6v12.6h-12.6zM690.1 868.0h12.6v12.6h-12.6zM690.8 868.0h12.6v12.6h-12.6zM691.6 868.6h12.6v12.6h-12.6zM692.3 869.1h12.6v12.6h-12.6zM693.1 869.2h12.6v12.6h-12.6zM693.8 869.4h12.6v12.6h-12.6zM694.6 870.4h12.6v12.6h-12.6zM695.3 871.1h12.6v12.6h-12.6zM696.0 871.3h12.6v12.6h-12.6zM696.8 871.3h12.6v12.6h-12.6zM697.5 872.4h12.6v12.6h-12.6zM698.2 872.8h12.6v12.6h-12.6zM698.9 873.0h12.6v12.6h-12.6zM699.7 873.6h12.6v12.6h-12.6zM700.4 873.4h12.6v12.6h-12.6zM701.1 874.2h12.6v12.6h-12.6zM701.8 874.4h12.6v12.6h-12.6zM702.5 874.8h12.6v12.6h-12.6zM703.2 875.1h12.6v12.6h-12.6zM703.9 875.0h12.6v12.6h-12.6zM704.6 874.8h12.6v12.6h-12.6zM705.3 875.7h12.6v12.6h-12.6zM706.0 875.9h12.6v12.6h-12.6zM706.7 876.3h12.6v12.6h-12.6zM707.3 877.2h12.6v12.6h-12.6zM708.0 877.4h12.6v12.6h-12.6zM708.7 877.6h12.6v12.6h-12.6zM709.4 878.4h12.6v12.6h-12.6zM710.0 878.6h12.6v12.6h-12.6zM710.7 878.6h12.6v12.6h-12.6zM711.4 879.0h12.6v12.6h-12.6zM712.0 879.9h12.6v12.6h-12.6zM712.7 879.5h12.6v12.6h-12.6zM713.4 879.4h12.6v12.6h-12.6zM714.0 879.8h12.6v12.6h-12.6zM714.7 879.8h12.6v12.6h-12.6zM715.3 880.0h12.6v12.6h-12.6zM716.0 880.4h12.6v12.6h-12.6zM716.6 880.3h12.6v12.6h-12.6zM717.3 880.7h12.6v12.6h-12.6zM717.9 881.0h12.6v12.6h-12.6zM718.5 881.0h12.6v12.6h-12.6zM719.2 881.4h12.6v12.6h-12.6zM719.8 881.7h12.6v12.6h-12.6zM720.4 881.5h12.6v12.6h-12.6zM721.1 882.0h12.6v12.6h-12.6zM721.7 882.6h12.6v12.6h-12.6zM722.3 882.8h12.6v12.6h-12.6zM722.9 882.9h12.6v12.6h-12.6zM723.5 883.3h12.6v12.6h-12.6zM724.2 883.9h12.6v12.6h-12.6zM724.8 883.9h12.6v12.6h-12.6zM725.4 884.1h12.6v12.6h-12.6zM726.0 884.2h12.6v12.6h-12.6zM726.6 884.4h12.6v12.6h-12.6zM727.2 884.7h12.6v12.6h-12.6zM727.8 884.8h12.6v12.6h-12.6zM729.0 886.0h12.6v12.6h-12.6zM730.2 887.0h12.6v12.6h-12.6zM731.4 887.4h12.6v12.6h-12.6zM732.5 888.6h12.6v12.6h-12.6zM733.7 888.6h12.6v12.6h-12.6zM734.9 889.9h12.6v12.6h-12.6zM736.0 890.6h12.6v12.6h-12.6zM737.1 891.0h12.6v12.6h-12.6zM738.3 891.8h12.6v12.6h-12.6zM739.4 892.4h12.6v12.6h-12.6zM740.5 893.2h12.6v12.6h-12.6zM741.6 893.8h12.6v12.6h-12.6zM742.7 895.1h12.6v12.6h-12.6zM743.8 895.3h12.6v12.6h-12.6zM744.9 896.2h12.6v12.6h-12.6zM746.0 896.8h12.6v12.6h-12.6zM747.0 897.2h12.6v12.6h-12.6zM748.1 897.8h12.6v12.6h-12.6zM749.2 898.2h12.6v12.6h-12.6zM750.2 898.6h12.6v12.6h-12.6zM751.2 899.1h12.6v12.6h-12.6zM752.3 899.7h12.6v12.6h-12.6zM753.3 900.7h12.6v12.6h-12.6zM754.3 901.6h12.6v12.6h-12.6zM755.3 901.7h12.6v12.6h-12.6zM756.4 901.3h12.6v12.6h-12.6zM757.4 902.5h12.6v12.6h-12.6zM758.4 902.6h12.6v12.6h-12.6zM759.3 903.0h12.6v12.6h-12.6zM760.3 903.1h12.6v12.6h-12.6zM761.3 902.9h12.6v12.6h-12.6zM762.3 903.8h12.6v12.6h-12.6zM763.3 904.1h12.6v12.6h-12.6zM764.2 904.8h12.6v12.6h-12.6zM765.2 904.5h12.6v12.6h-12.6zM766.1 905.4h12.6v12.6h-12.6zM767.1 905.6h12.6v12.6h-12.6zM768.0 905.9h12.6v12.6h-12.6zM768.9 906.4h12.6v12.6h-12.6zM769.9 906.7h12.6v12.6h-12.6zM770.8 907.3h12.6v12.6h-12.6zM771.7 908.6h12.6v12.6h-12.6zM772.6 908.0h12.6v12.6h-12.6zM773.5 908.6h12.6v12.6h-12.6zM774.4 909.1h12.6v12.6h-12.6zM775.3 909.6h12.6v12.6h-12.6zM776.2 909.9h12.6v12.6h-12.6zM777.1 910.3h12.6v12.6h-12.6zM778.0 910.5h12.6v12.6h-12.6zM778.9 910.7h12.6v12.6h-12.6zM779.7 911.9h12.6v12.6h-12.6zM780.6 913.1h12.6v12.6h-12.6zM781.5 913.0h12.6v12.6h-12.6zM782.3 912.1h12.6v12.6h-12.6zM783.2 912.4h12.6v12.6h-12.6zM784.0 913.2h12.6v12.6h-12.6zM784.9 913.4h12.6v12.6h-12.6zM785.7 914.0h12.6v12.6h-12.6zM786.5 913.9h12.6v12.6h-12.6zM787.4 914.7h12.6v12.6h-12.6zM788.2 914.5h12.6v12.6h-12.6zM789.0 914.8h12.6v12.6h-12.6zM789.9 915.9h12.6v12.6h-12.6zM790.7 916.1h12.6v12.6h-12.6zM791.5 916.5h12.6v12.6h-12.6zM792.3 916.8h12.6v12.6h-12.6zM793.1 916.9h12.6v12.6h-12.6zM793.9 916.1h12.6v12.6h-12.6zM794.7 917.1h12.6v12.6h-12.6zM795.5 917.4h12.6v12.6h-12.6zM796.3 918.0h12.6v12.6h-12.6zM797.0 918.0h12.6v12.6h-12.6zM797.8 918.9h12.6v12.6h-12.6zM798.6 918.9h12.6v12.6h-12.6zM799.4 919.3h12.6v12.6h-12.6zM800.1 919.4h12.6v12.6h-12.6zM800.9 920.2h12.6v12.6h-12.6zM801.7 920.4h12.6v12.6h-12.6zM802.4 920.7h12.6v12.6h-12.6zM803.2 921.5h12.6v12.6h-12.6zM803.9 921.0h12.6v12.6h-12.6zM804.7 921.2h12.6v12.6h-12.6zM805.4 921.5h12.6v12.6h-12.6zM806.2 921.9h12.6v12.6h-12.6zM806.9 921.7h12.6v12.6h-12.6zM807.6 922.8h12.6v12.6h-12.6zM808.4 923.7h12.6v12.6h-12.6zM809.1 923.6h12.6v12.6h-12.6zM809.8 923.7h12.6v12.6h-12.6zM810.5 924.2h12.6v12.6h-12.6zM811.2 925.4h12.6v12.6h-12.6zM812.0 925.1h12.6v12.6h-12.6zM812.7 925.2h12.6v12.6h-12.6zM813.4 925.0h12.6v12.6h-12.6zM814.1 925.6h12.6v12.6h-12.6zM814.8 925.8h12.6v12.6h-12.6zM815.5 925.7h12.6v12.6h-12.6zM816.2 925.8h12.6v12.6h-12.6zM816.9 926.1h12.6v12.6h-12.6zM817.6 926.8h12.6v12.6h-12.6zM818.2 926.4h12.6v12.6h-12.6zM818.9 926.8h12.6v12.6h-12.6zM819.6 926.7h12.6v12.6h-12.6zM820.3 927.3h12.6v12.6h-12.6zM821.0 926.9h12.6v12.6h-12.6zM821.6 928.1h12.6v12.6h-12.6zM822.3 928.1h12.6v12.6h-12.6zM823.0 928.7h12.6v12.6h-12.6zM823.6 929.0h12.6v12.6h-12.6zM824.3 929.9h12.6v12.6h-12.6zM825.0 929.1h12.6v12.6h-12.6zM825.6 930.0h12.6v12.6h-12.6zM826.3 930.3h12.6v12.6h-12.6zM826.9 930.7h12.6v12.6h-12.6zM827.6 930.5h12.6v12.6h-12.6zM828.2 930.9h12.6v12.6h-12.6zM828.9 931.2h12.6v12.6h-12.6zM829.5 931.2h12.6v12.6h-12.6zM830.1 931.8h12.6v12.6h-12.6zM830.8 932.1h12.6v12.6h-12.6zM831.4 932.8h12.6v12.6h-12.6zM832.0 933.4h12.6v12.6h-12.6zM832.7 932.5h12.6v12.6h-12.6zM833.3 932.8h12.6v12.6h-12.6zM833.9 933.6h12.6v12.6h-12.6zM834.5 933.1h12.6v12.6h-12.6zM835.1 932.4h12.6v12.6h-12.6zM835.8 933.3h12.6v12.6h-12.6zM836.4 932.9h12.6v12.6h-12.6zM837.0 933.9h12.6v12.6h-12.6zM837.6 932.8h12.6v12.6h-12.6zM838.2 934.0h12.6v12.6h-12.6zM838.8 933.6h12.6v12.6h-12.6zM839.4 934.1h12.6v12.6h-12.6zM840.3 934.4h12.6v12.6h-12.6zM841.2 934.1h12.6v12.6h-12.6zM842.1 935.9h12.6v12.6h-12.6zM843.0 935.7h12.6v12.6h-12.6zM843.8 936.5h12.6v12.6h-12.6zM844.7 936.4h12.6v12.6h-12.6zM845.6 937.2h12.6v12.6h-12.6zM846.5 938.4h12.6v12.6h-12.6zM847.3 940.3h12.6v12.6h-12.6zM848.2 939.2h12.6v12.6h-12.6zM849.0 940.5h12.6v12.6h-12.6zM849.9 940.6h12.6v12.6h-12.6zM850.7 942.3h12.6v12.6h-12.6zM851.5 941.9h12.6v12.6h-12.6zM852.4 941.4h12.6v12.6h-12.6zM853.2 941.8h12.6v12.6h-12.6zM854.0 941.7h12.6v12.6h-12.6zM854.9 942.2h12.6v12.6h-12.6zM855.7 942.7h12.6v12.6h-12.6zM856.5 942.4h12.6v12.6h-12.6zM857.3 942.1h12.6v12.6h-12.6zM858.1 942.4h12.6v12.6h-12.6zM858.9 942.5h12.6v12.6h-12.6zM859.7 942.3h12.6v12.6h-12.6zM860.5 943.7h12.6v12.6h-12.6zM861.3 943.7h12.6v12.6h-12.6zM862.1 944.5h12.6v12.6h-12.6zM862.8 944.9h12.6v12.6h-12.6zM863.6 944.3h12.6v12.6h-12.6zM864.4 944.2h12.6v12.6h-12.6zM865.2 944.5h12.6v12.6h-12.6zM865.9 945.2h12.6v12.6h-12.6zM866.7 944.7h12.6v12.6h-12.6zM867.4 945.5h12.6v12.6h-12.6zM868.2 945.9h12.6v12.6h-12.6zM869.0 944.3h12.6v12.6h-12.6zM869.7 945.4h12.6v12.6h-12.6zM870.4 945.9h12.6v12.6h-12.6zM871.2 945.9h12.6v12.6h-12.6zM871.9 946.5h12.6v12.6h-12.6zM872.7 946.7h12.6v12.6h-12.6zM873.4 947.5h12.6v12.6h-12.6zM874.1 947.5h12.6v12.6h-12.6zM874.8 947.6h12.6v12.6h-12.6zM875.6 948.1h12.6v12.6h-12.6zM876.3 948.2h12.6v12.6h-12.6zM877.0 948.5h12.6v12.6h-12.6zM877.7 948.8h12.6v12.6h-12.6zM878.4 948.8h12.6v12.6h-12.6zM879.1 949.3h12.6v12.6h-12.6zM879.8 948.8h12.6v12.6h-12.6zM880.5 948.9h12.6v12.6h-12.6zM881.2 950.5h12.6v12.6h-12.6zM881.9 949.9h12.6v12.6h-12.6zM882.6 950.0h12.6v12.6h-12.6zM883.3 950.3h12.6v12.6h-12.6zM884.0 949.6h12.6v12.6h-12.6zM884.7 952.0h12.6v12.6h-12.6zM885.3 951.3h12.6v12.6h-12.6zM886.0 951.7h12.6v12.6h-12.6zM886.7 952.2h12.6v12.6h-12.6zM887.4 951.1h12.6v12.6h-12.6zM888.0 951.8h12.6v12.6h-12.6zM888.7 951.7h12.6v12.6h-12.6zM889.4 952.2h12.6v12.6h-12.6zM890.0 952.7h12.6v12.6h-12.6zM890.7 953.2h12.6v12.6h-12.6zM891.3 953.1h12.6v12.6h-12.6zM892.0 953.6h12.6v12.6h-12.6zM892.6 952.5h12.6v12.6h-12.6zM893.3 952.1h12.6v12.6h-12.6zM893.9 954.2h12.6v12.6h-12.6zM894.6 954.1h12.6v12.6h-12.6zM895.2 953.6h12.6v12.6h-12.6zM895.8 953.7h12.6v12.6h-12.6zM896.5 953.6h12.6v12.6h-12.6zM897.1 954.0h12.6v12.6h-12.6zM897.7 954.8h12.6v12.6h-12.6zM898.3 955.6h12.6v12.6h-12.6zM899.0 955.2h12.6v12.6h-12.6zM899.6 955.5h12.6v12.6h-12.6zM900.2 955.4h12.6v12.6h-12.6zM900.8 954.9h12.6v12.6h-12.6zM901.4 956.1h12.6v12.6h-12.6zM902.1 955.7h12.6v12.6h-12.6zM902.7 956.7h12.6v12.6h-12.6zM903.3 955.9h12.6v12.6h-12.6zM903.9 954.9h12.6v12.6h-12.6zM904.5 955.4h12.6v12.6h-12.6zM905.1 956.1h12.6v12.6h-12.6zM905.9 957.3h12.6v12.6h-12.6zM906.7 957.2h12.6v12.6h-12.6zM907.5 958.2h12.6v12.6h-12.6zM908.2 957.3h12.6v12.6h-12.6zM909.0 957.5h12.6v12.6h-12.6zM909.8 958.6h12.6v12.6h-12.6zM910.6 959.7h12.6v12.6h-12.6zM911.3 958.5h12.6v12.6h-12.6zM912.1 957.9h12.6v12.6h-12.6zM912.9 959.7h12.6v12.6h-12.6zM913.6 958.5h12.6v12.6h-12.6zM914.4 958.7h12.6v12.6h-12.6zM915.1 958.2h12.6v12.6h-12.6zM915.9 957.3h12.6v12.6h-12.6zM916.6 957.4h12.6v12.6h-12.6zM917.4 957.1h12.6v12.6h-12.6zM918.1 956.4h12.6v12.6h-12.6zM918.9 955.8h12.6v12.6h-12.6zM919.6 955.5h12.6v12.6h-12.6zM920.3 955.9h12.6v12.6h-12.6zM921.0 957.5h12.6v12.6h-12.6zM921.8 957.5h12.6v12.6h-12.6zM922.5 957.6h12.6v12.6h-12.6zM923.2 959.2h12.6v12.6h-12.6zM923.9 958.7h12.6v12.6h-12.6zM924.6 958.4h12.6v12.6h-12.6zM925.3 959.7h12.6v12.6h-12.6zM926.0 959.1h12.6v12.6h-12.6zM926.7 958.9h12.6v12.6h-12.6zM927.4 959.3h12.6v12.6h-12.6zM928.1 957.3h12.6v12.6h-12.6zM928.8 958.4h12.6v12.6h-12.6zM929.5 958.1h12.6v12.6h-12.6zM930.2 958.6h12.6v12.6h-12.6zM930.9 957.7h12.6v12.6h-12.6zM931.5 957.1h12.6v12.6h-12.6zM932.2 957.3h12.6v12.6h-12.6zM932.9 956.9h12.6v12.6h-12.6zM933.6 958.6h12.6v12.6h-12.6zM934.2 959.5h12.6v12.6h-12.6zM934.9 959.7h12.6v12.6h-12.6zM935.6 960.6h12.6v12.6h-12.6zM936.2 960.4h12.6v12.6h-12.6zM936.5 959.4h12.6v12.6h-12.6z" fill="#ff0000" stroke="#ff0000" stroke-width="1.8" stroke-linejoin="miter"/>
<path d="M936.5 959.4h12.6v12.6h-12.6z" fill="url(#po1)" stroke="#ff0000" stroke-width="1.8" clip-path="url(#clipEnd)"/>
<g fill="url(#po1)" stroke="#ff0000" stroke-width="1.8"><path d="M481.4 769.4h12.6v12.6h-12.6z"/><path d="M478.6 767.8h12.6v12.6h-12.6z"/><path d="M475.8 766.2h12.6v12.6h-12.6z"/><path d="M472.9 764.6h12.6v12.6h-12.6z"/><path d="M469.9 763.0h12.6v12.6h-12.6z"/><path d="M466.9 761.2h12.6v12.6h-12.6z"/><path d="M463.8 759.7h12.6v12.6h-12.6z"/><path d="M460.7 758.0h12.6v12.6h-12.6z"/><path d="M457.5 756.4h12.6v12.6h-12.6z"/><path d="M454.3 754.5h12.6v12.6h-12.6z"/><path d="M450.9 752.8h12.6v12.6h-12.6z"/><path d="M447.5 750.9h12.6v12.6h-12.6z"/><path d="M444.1 749.0h12.6v12.6h-12.6z"/><path d="M440.5 747.1h12.6v12.6h-12.6z"/><path d="M436.9 745.1h12.6v12.6h-12.6z"/><path d="M433.2 743.2h12.6v12.6h-12.6z"/><path d="M429.4 741.0h12.6v12.6h-12.6z"/><path d="M425.6 738.9h12.6v12.6h-12.6z"/><path d="M421.6 736.9h12.6v12.6h-12.6z"/><path d="M417.5 734.6h12.6v12.6h-12.6z"/><path d="M413.3 732.4h12.6v12.6h-12.6z"/><path d="M409.0 730.2h12.6v12.6h-12.6z"/><path d="M404.6 727.9h12.6v12.6h-12.6z"/><path d="M400.1 725.6h12.6v12.6h-12.6z"/><path d="M395.4 723.5h12.6v12.6h-12.6z"/><path d="M390.6 721.1h12.6v12.6h-12.6z"/><path d="M385.7 718.9h12.6v12.6h-12.6z"/><path d="M380.5 716.4h12.6v12.6h-12.6z"/><path d="M375.3 714.1h12.6v12.6h-12.6z"/><path d="M369.8 711.5h12.6v12.6h-12.6z"/><path d="M364.2 709.2h12.6v12.6h-12.6z"/><path d="M358.3 706.6h12.6v12.6h-12.6z"/><path d="M352.2 704.2h12.6v12.6h-12.6z"/><path d="M345.9 701.5h12.6v12.6h-12.6z"/><path d="M339.3 699.1h12.6v12.6h-12.6z"/><path d="M332.5 696.5h12.6v12.6h-12.6z"/><path d="M325.3 693.9h12.6v12.6h-12.6z"/><path d="M317.8 691.2h12.6v12.6h-12.6z"/><path d="M310.0 688.4h12.6v12.6h-12.6z"/><path d="M301.7 685.7h12.6v12.6h-12.6z"/><path d="M293.0 683.0h12.6v12.6h-12.6z"/><path d="M283.8 680.3h12.6v12.6h-12.6z"/><path d="M274.1 677.5h12.6v12.6h-12.6z"/><path d="M263.7 674.6h12.6v12.6h-12.6z"/><path d="M252.6 671.8h12.6v12.6h-12.6z"/><path d="M240.6 668.8h12.6v12.6h-12.6z"/><path d="M227.8 665.8h12.6v12.6h-12.6z"/><path d="M213.7 662.7h12.6v12.6h-12.6z"/><path d="M198.4 659.6h12.6v12.6h-12.6z"/><path d="M181.4 656.6h12.6v12.6h-12.6z"/><path d="M162.5 653.6h12.6v12.6h-12.6z"/><path d="M141.0 650.7h12.6v12.6h-12.6z"/></g>
<path d="M490.5 776.7l7.6 7.6 -7.6 7.6 -7.6 -7.6zM493.2 778.4l7.6 7.6 -7.6 7.6 -7.6 -7.6zM495.8 779.7l7.6 7.6 -7.6 7.6 -7.6 -7.6zM498.4 781.5l7.6 7.6 -7.6 7.6 -7.6 -7.6zM501.0 783.1l7.6 7.6 -7.6 7.6 -7.6 -7.6zM503.6 784.2l7.6 7.6 -7.6 7.6 -7.6 -7.6zM506.0 785.8l7.6 7.6 -7.6 7.6 -7.6 -7.6zM508.5 787.8l7.6 7.6 -7.6 7.6 -7.6 -7.6zM510.9 788.9l7.6 7.6 -7.6 7.6 -7.6 -7.6zM513.3 790.5l7.6 7.6 -7.6 7.6 -7.6 -7.6zM515.7 792.1l7.6 7.6 -7.6 7.6 -7.6 -7.6zM518.0 793.3l7.6 7.6 -7.6 7.6 -7.6 -7.6zM520.3 794.5l7.6 7.6 -7.6 7.6 -7.6 -7.6zM522.5 795.8l7.6 7.6 -7.6 7.6 -7.6 -7.6zM524.7 797.3l7.6 7.6 -7.6 7.6 -7.6 -7.6zM526.9 798.7l7.6 7.6 -7.6 7.6 -7.6 -7.6zM529.1 800.0l7.6 7.6 -7.6 7.6 -7.6 -7.6zM531.2 801.5l7.6 7.6 -7.6 7.6 -7.6 -7.6zM533.3 802.5l7.6 7.6 -7.6 7.6 -7.6 -7.6zM535.4 804.2l7.6 7.6 -7.6 7.6 -7.6 -7.6zM537.5 805.6l7.6 7.6 -7.6 7.6 -7.6 -7.6zM539.5 806.9l7.6 7.6 -7.6 7.6 -7.6 -7.6zM541.5 808.1l7.6 7.6 -7.6 7.6 -7.6 -7.6zM543.5 809.3l7.6 7.6 -7.6 7.6 -7.6 -7.6zM545.4 810.6l7.6 7.6 -7.6 7.6 -7.6 -7.6zM547.3 811.7l7.6 7.6 -7.6 7.6 -7.6 -7.6zM549.2 812.5l7.6 7.6 -7.6 7.6 -7.6 -7.6zM551.1 813.8l7.6 7.6 -7.6 7.6 -7.6 -7.6zM553.0 814.7l7.6 7.6 -7.6 7.6 -7.6 -7.6zM554.8 815.9l7.6 7.6 -7.6 7.6 -7.6 -7.6zM556.6 816.9l7.6 7.6 -7.6 7.6 -7.6 -7.6zM558.4 817.3l7.6 7.6 -7.6 7.6 -7.6 -7.6zM560.2 818.7l7.6 7.6 -7.6 7.6 -7.6 -7.6zM562.0 819.1l7.6 7.6 -7.6 7.6 -7.6 -7.6zM563.7 819.6l7.6 7.6 -7.6 7.6 -7.6 -7.6zM565.4 820.9l7.6 7.6 -7.6 7.6 -7.6 -7.6zM567.1 821.3l7.6 7.6 -7.6 7.6 -7.6 -7.6zM568.8 822.3l7.6 7.6 -7.6 7.6 -7.6 -7.6zM570.5 822.8l7.6 7.6 -7.6 7.6 -7.6 -7.6zM572.1 823.5l7.6 7.6 -7.6 7.6 -7.6 -7.6zM573.8 823.8l7.6 7.6 -7.6 7.6 -7.6 -7.6zM575.4 824.5l7.6 7.6 -7.6 7.6 -7.6 -7.6zM577.0 825.0l7.6 7.6 -7.6 7.6 -7.6 -7.6zM578.6 825.9l7.6 7.6 -7.6 7.6 -7.6 -7.6zM580.2 826.1l7.6 7.6 -7.6 7.6 -7.6 -7.6zM581.7 827.0l7.6 7.6 -7.6 7.6 -7.6 -7.6zM583.3 827.6l7.6 7.6 -7.6 7.6 -7.6 -7.6zM584.8 828.0l7.6 7.6 -7.6 7.6 -7.6 -7.6zM586.3 828.7l7.6 7.6 -7.6 7.6 -7.6 -7.6zM587.8 829.4l7.6 7.6 -7.6 7.6 -7.6 -7.6zM589.3 830.1l7.6 7.6 -7.6 7.6 -7.6 -7.6zM590.7 830.5l7.6 7.6 -7.6 7.6 -7.6 -7.6zM592.2 830.8l7.6 7.6 -7.6 7.6 -7.6 -7.6zM593.6 831.8l7.6 7.6 -7.6 7.6 -7.6 -7.6zM595.1 832.3l7.6 7.6 -7.6 7.6 -7.6 -7.6zM596.5 832.9l7.6 7.6 -7.6 7.6 -7.6 -7.6zM597.9 833.8l7.6 7.6 -7.6 7.6 -7.6 -7.6zM599.3 834.4l7.6 7.6 -7.6 7.6 -7.6 -7.6zM600.7 835.2l7.6 7.6 -7.6 7.6 -7.6 -7.6zM602.0 836.2l7.6 7.6 -7.6 7.6 -7.6 -7.6zM603.4 835.9l7.6 7.6 -7.6 7.6 -7.6 -7.6zM604.8 836.4l7.6 7.6 -7.6 7.6 -7.6 -7.6zM606.1 836.9l7.6 7.6 -7.6 7.6 -7.6 -7.6zM607.4 837.6l7.6 7.6 -7.6 7.6 -7.6 -7.6zM608.7 838.2l7.6 7.6 -7.6 7.6 -7.6 -7.6zM610.0 838.7l7.6 7.6 -7.6 7.6 -7.6 -7.6zM611.3 838.7l7.6 7.6 -7.6 7.6 -7.6 -7.6zM612.6 839.5l7.6 7.6 -7.6 7.6 -7.6 -7.6zM613.9 840.0l7.6 7.6 -7.6 7.6 -7.6 -7.6zM615.1 840.7l7.6 7.6 -7.6 7.6 -7.6 -7.6zM616.4 841.7l7.6 7.6 -7.6 7.6 -7.6 -7.6zM617.6 842.5l7.6 7.6 -7.6 7.6 -7.6 -7.6zM618.9 842.7l7.6 7.6 -7.6 7.6 -7.6 -7.6zM620.1 843.1l7.6 7.6 -7.6 7.6 -7.6 -7.6zM621.3 843.8l7.6 7.6 -7.6 7.6 -7.6 -7.6zM622.5 844.6l7.6 7.6 -7.6 7.6 -7.6 -7.6zM623.7 844.9l7.6 7.6 -7.6 7.6 -7.6 -7.6zM624.9 845.8l7.6 7.6 -7.6 7.6 -7.6 -7.6zM626.1 846.2l7.6 7.6 -7.6 7.6 -7.6 -7.6zM627.3 847.0l7.6 7.6 -7.6 7.6 -7.6 -7.6zM628.4 847.4l7.6 7.6 -7.6 7.6 -7.6 -7.6zM629.6 848.1l7.6 7.6 -7.6 7.6 -7.6 -7.6zM630.7 848.2l7.6 7.6 -7.6 7.6 -7.6 -7.6zM631.9 848.7l7.6 7.6 -7.6 7.6 -7.6 -7.6zM633.0 849.0l7.6 7.6 -7.6 7.6 -7.6 -7.6zM634.1 849.9l7.6 7.6 -7.6 7.6 -7.6 -7.6zM635.2 850.4l7.6 7.6 -7.6 7.6 -7.6 -7.6zM636.3 850.3l7.6 7.6 -7.6 7.6 -7.6 -7.6zM637.4 851.0l7.6 7.6 -7.6 7.6 -7.6 -7.6zM638.5 851.6l7.6 7.6 -7.6 7.6 -7.6 -7.6zM639.6 852.5l7.6 7.6 -7.6 7.6 -7.6 -7.6zM640.7 853.3l7.6 7.6 -7.6 7.6 -7.6 -7.6zM641.7 853.4l7.6 7.6 -7.6 7.6 -7.6 -7.6zM642.8 854.2l7.6 7.6 -7.6 7.6 -7.6 -7.6zM643.9 855.0l7.6 7.6 -7.6 7.6 -7.6 -7.6zM644.9 855.5l7.6 7.6 -7.6 7.6 -7.6 -7.6zM646.0 856.5l7.6 7.6 -7.6 7.6 -7.6 -7.6zM647.0 857.1l7.6 7.6 -7.6 7.6 -7.6 -7.6zM648.0 857.5l7.6 7.6 -7.6 7.6 -7.6 -7.6zM649.0 858.6l7.6 7.6 -7.6 7.6 -7.6 -7.6zM650.1 858.3l7.6 7.6 -7.6 7.6 -7.6 -7.6zM651.1 859.2l7.6 7.6 -7.6 7.6 -7.6 -7.6zM652.1 859.6l7.6 7.6 -7.6 7.6 -7.6 -7.6zM653.1 860.1l7.6 7.6 -7.6 7.6 -7.6 -7.6zM654.1 860.9l7.6 7.6 -7.6 7.6 -7.6 -7.6zM655.0 861.6l7.6 7.6 -7.6 7.6 -7.6 -7.6zM656.0 861.9l7.6 7.6 -7.6 7.6 -7.6 -7.6zM657.0 862.2l7.6 7.6 -7.6 7.6 -7.6 -7.6zM658.0 862.9l7.6 7.6 -7.6 7.6 -7.6 -7.6zM658.9 862.8l7.6 7.6 -7.6 7.6 -7.6 -7.6zM659.9 863.8l7.6 7.6 -7.6 7.6 -7.6 -7.6zM660.8 863.9l7.6 7.6 -7.6 7.6 -7.6 -7.6zM661.8 864.8l7.6 7.6 -7.6 7.6 -7.6 -7.6zM662.7 865.9l7.6 7.6 -7.6 7.6 -7.6 -7.6zM663.6 866.9l7.6 7.6 -7.6 7.6 -7.6 -7.6zM664.6 867.2l7.6 7.6 -7.6 7.6 -7.6 -7.6zM665.5 868.3l7.6 7.6 -7.6 7.6 -7.6 -7.6zM666.4 868.9l7.6 7.6 -7.6 7.6 -7.6 -7.6zM667.3 869.1l7.6 7.6 -7.6 7.6 -7.6 -7.6zM668.2 869.6l7.6 7.6 -7.6 7.6 -7.6 -7.6zM669.1 869.9l7.6 7.6 -7.6 7.6 -7.6 -7.6zM670.0 869.9l7.6 7.6 -7.6 7.6 -7.6 -7.6zM670.9 870.2l7.6 7.6 -7.6 7.6 -7.6 -7.6zM671.8 871.1l7.6 7.6 -7.6 7.6 -7.6 -7.6zM672.7 871.8l7.6 7.6 -7.6 7.6 -7.6 -7.6zM673.6 871.9l7.6 7.6 -7.6 7.6 -7.6 -7.6zM674.4 872.2l7.6 7.6 -7.6 7.6 -7.6 -7.6zM675.3 872.7l7.6 7.6 -7.6 7.6 -7.6 -7.6zM676.2 872.9l7.6 7.6 -7.6 7.6 -7.6 -7.6zM677.0 873.3l7.6 7.6 -7.6 7.6 -7.6 -7.6zM677.9 873.9l7.6 7.6 -7.6 7.6 -7.6 -7.6zM678.7 875.3l7.6 7.6 -7.6 7.6 -7.6 -7.6zM679.6 875.3l7.6 7.6 -7.6 7.6 -7.6 -7.6zM680.4 876.0l7.6 7.6 -7.6 7.6 -7.6 -7.6zM681.3 876.7l7.6 7.6 -7.6 7.6 -7.6 -7.6zM682.1 876.7l7.6 7.6 -7.6 7.6 -7.6 -7.6zM682.9 877.5l7.6 7.6 -7.6 7.6 -7.6 -7.6zM683.7 877.5l7.6 7.6 -7.6 7.6 -7.6 -7.6zM684.6 878.1l7.6 7.6 -7.6 7.6 -7.6 -7.6zM685.4 878.6l7.6 7.6 -7.6 7.6 -7.6 -7.6zM686.2 879.3l7.6 7.6 -7.6 7.6 -7.6 -7.6zM687.0 879.5l7.6 7.6 -7.6 7.6 -7.6 -7.6zM687.8 880.2l7.6 7.6 -7.6 7.6 -7.6 -7.6zM688.6 881.1l7.6 7.6 -7.6 7.6 -7.6 -7.6zM689.4 881.4l7.6 7.6 -7.6 7.6 -7.6 -7.6zM690.2 882.2l7.6 7.6 -7.6 7.6 -7.6 -7.6zM691.0 882.2l7.6 7.6 -7.6 7.6 -7.6 -7.6zM691.8 882.5l7.6 7.6 -7.6 7.6 -7.6 -7.6zM692.5 883.2l7.6 7.6 -7.6 7.6 -7.6 -7.6zM693.3 883.7l7.6 7.6 -7.6 7.6 -7.6 -7.6zM694.1 884.0l7.6 7.6 -7.6 7.6 -7.6 -7.6zM694.8 884.6l7.6 7.6 -7.6 7.6 -7.6 -7.6zM695.6 885.9l7.6 7.6 -7.6 7.6 -7.6 -7.6zM696.4 886.4l7.6 7.6 -7.6 7.6 -7.6 -7.6zM697.1 886.7l7.6 7.6 -7.6 7.6 -7.6 -7.6zM697.9 887.5l7.6 7.6 -7.6 7.6 -7.6 -7.6zM698.6 887.7l7.6 7.6 -7.6 7.6 -7.6 -7.6zM699.4 888.6l7.6 7.6 -7.6 7.6 -7.6 -7.6zM700.1 888.6l7.6 7.6 -7.6 7.6 -7.6 -7.6zM700.9 889.3l7.6 7.6 -7.6 7.6 -7.6 -7.6zM701.6 889.7l7.6 7.6 -7.6 7.6 -7.6 -7.6zM702.3 890.4l7.6 7.6 -7.6 7.6 -7.6 -7.6zM703.1 890.3l7.6 7.6 -7.6 7.6 -7.6 -7.6zM703.8 890.8l7.6 7.6 -7.6 7.6 -7.6 -7.6zM704.5 891.1l7.6 7.6 -7.6 7.6 -7.6 -7.6zM705.2 891.9l7.6 7.6 -7.6 7.6 -7.6 -7.6zM706.0 892.6l7.6 7.6 -7.6 7.6 -7.6 -7.6zM706.7 893.7l7.6 7.6 -7.6 7.6 -7.6 -7.6zM707.4 893.0l7.6 7.6 -7.6 7.6 -7.6 -7.6zM708.1 893.5l7.6 7.6 -7.6 7.6 -7.6 -7.6zM708.8 894.3l7.6 7.6 -7.6 7.6 -7.6 -7.6zM709.5 894.6l7.6 7.6 -7.6 7.6 -7.6 -7.6zM710.2 894.9l7.6 7.6 -7.6 7.6 -7.6 -7.6zM710.9 895.7l7.6 7.6 -7.6 7.6 -7.6 -7.6zM711.6 895.5l7.6 7.6 -7.6 7.6 -7.6 -7.6zM712.3 896.0l7.6 7.6 -7.6 7.6 -7.6 -7.6zM713.0 896.0l7.6 7.6 -7.6 7.6 -7.6 -7.6zM713.6 896.5l7.6 7.6 -7.6 7.6 -7.6 -7.6zM714.3 896.9l7.6 7.6 -7.6 7.6 -7.6 -7.6zM715.0 897.3l7.6 7.6 -7.6 7.6 -7.6 -7.6zM715.7 897.6l7.6 7.6 -7.6 7.6 -7.6 -7.6zM716.3 898.4l7.6 7.6 -7.6 7.6 -7.6 -7.6zM717.0 898.9l7.6 7.6 -7.6 7.6 -7.6 -7.6zM717.7 899.2l7.6 7.6 -7.6 7.6 -7.6 -7.6zM718.3 899.0l7.6 7.6 -7.6 7.6 -7.6 -7.6zM719.0 900.0l7.6 7.6 -7.6 7.6 -7.6 -7.6zM719.7 899.9l7.6 7.6 -7.6 7.6 -7.6 -7.6zM720.3 901.1l7.6 7.6 -7.6 7.6 -7.6 -7.6zM721.0 900.9l7.6 7.6 -7.6 7.6 -7.6 -7.6zM721.6 901.6l7.6 7.6 -7.6 7.6 -7.6 -7.6zM722.3 901.8l7.6 7.6 -7.6 7.6 -7.6 -7.6zM722.9 901.9l7.6 7.6 -7.6 7.6 -7.6 -7.6zM723.6 902.1l7.6 7.6 -7.6 7.6 -7.6 -7.6zM724.2 902.5l7.6 7.6 -7.6 7.6 -7.6 -7.6zM724.8 902.9l7.6 7.6 -7.6 7.6 -7.6 -7.6zM725.5 902.9l7.6 7.6 -7.6 7.6 -7.6 -7.6zM726.1 903.5l7.6 7.6 -7.6 7.6 -7.6 -7.6zM726.7 903.8l7.6 7.6 -7.6 7.6 -7.6 -7.6zM727.4 904.3l7.6 7.6 -7.6 7.6 -7.6 -7.6zM728.0 904.5l7.6 7.6 -7.6 7.6 -7.6 -7.6zM728.6 905.2l7.6 7.6 -7.6 7.6 -7.6 -7.6zM729.2 905.6l7.6 7.6 -7.6 7.6 -7.6 -7.6zM729.8 905.8l7.6 7.6 -7.6 7.6 -7.6 -7.6zM730.5 907.2l7.6 7.6 -7.6 7.6 -7.6 -7.6zM731.1 907.3l7.6 7.6 -7.6 7.6 -7.6 -7.6zM731.7 907.4l7.6 7.6 -7.6 7.6 -7.6 -7.6zM732.3 907.9l7.6 7.6 -7.6 7.6 -7.6 -7.6zM732.9 908.9l7.6 7.6 -7.6 7.6 -7.6 -7.6zM733.5 908.8l7.6 7.6 -7.6 7.6 -7.6 -7.6zM734.1 908.9l7.6 7.6 -7.6 7.6 -7.6 -7.6zM735.3 910.7l7.6 7.6 -7.6 7.6 -7.6 -7.6zM736.5 910.8l7.6 7.6 -7.6 7.6 -7.6 -7.6zM737.7 911.8l7.6 7.6 -7.6 7.6 -7.6 -7.6zM738.8 912.7l7.6 7.6 -7.6 7.6 -7.6 -7.6zM740.0 913.1l7.6 7.6 -7.6 7.6 -7.6 -7.6zM741.2 914.1l7.6 7.6 -7.6 7.6 -7.6 -7.6zM742.3 915.1l7.6 7.6 -7.6 7.6 -7.6 -7.6zM743.4 915.7l7.6 7.6 -7.6 7.6 -7.6 -7.6zM744.6 915.7l7.6 7.6 -7.6 7.6 -7.6 -7.6zM745.7 917.2l7.6 7.6 -7.6 7.6 -7.6 -7.6zM746.8 917.3l7.6 7.6 -7.6 7.6 -7.6 -7.6zM747.9 919.2l7.6 7.6 -7.6 7.6 -7.6 -7.6zM749.0 919.5l7.6 7.6 -7.6 7.6 -7.6 -7.6zM750.1 920.3l7.6 7.6 -7.6 7.6 -7.6 -7.6zM751.2 920.6l7.6 7.6 -7.6 7.6 -7.6 -7.6zM752.3 921.8l7.6 7.6 -7.6 7.6 -7.6 -7.6zM753.3 921.8l7.6 7.6 -7.6 7.6 -7.6 -7.6zM754.4 922.5l7.6 7.6 -7.6 7.6 -7.6 -7.6zM755.5 922.4l7.6 7.6 -7.6 7.6 -7.6 -7.6zM756.5 924.0l7.6 7.6 -7.6 7.6 -7.6 -7.6zM757.5 924.7l7.6 7.6 -7.6 7.6 -7.6 -7.6zM758.6 925.8l7.6 7.6 -7.6 7.6 -7.6 -7.6zM759.6 926.4l7.6 7.6 -7.6 7.6 -7.6 -7.6zM760.6 927.4l7.6 7.6 -7.6 7.6 -7.6 -7.6zM761.6 927.5l7.6 7.6 -7.6 7.6 -7.6 -7.6zM762.7 928.5l7.6 7.6 -7.6 7.6 -7.6 -7.6zM763.7 929.1l7.6 7.6 -7.6 7.6 -7.6 -7.6zM764.7 929.7l7.6 7.6 -7.6 7.6 -7.6 -7.6zM765.6 929.9l7.6 7.6 -7.6 7.6 -7.6 -7.6zM766.6 930.1l7.6 7.6 -7.6 7.6 -7.6 -7.6zM767.6 931.2l7.6 7.6 -7.6 7.6 -7.6 -7.6zM768.6 932.3l7.6 7.6 -7.6 7.6 -7.6 -7.6zM769.6 932.1l7.6 7.6 -7.6 7.6 -7.6 -7.6zM770.5 933.5l7.6 7.6 -7.6 7.6 -7.6 -7.6zM771.5 933.6l7.6 7.6 -7.6 7.6 -7.6 -7.6zM772.4 934.3l7.6 7.6 -7.6 7.6 -7.6 -7.6zM773.4 934.0l7.6 7.6 -7.6 7.6 -7.6 -7.6zM774.3 934.9l7.6 7.6 -7.6 7.6 -7.6 -7.6zM775.2 935.5l7.6 7.6 -7.6 7.6 -7.6 -7.6zM776.2 935.2l7.6 7.6 -7.6 7.6 -7.6 -7.6zM777.1 935.7l7.6 7.6 -7.6 7.6 -7.6 -7.6zM778.0 936.0l7.6 7.6 -7.6 7.6 -7.6 -7.6zM778.9 937.0l7.6 7.6 -7.6 7.6 -7.6 -7.6zM779.8 937.2l7.6 7.6 -7.6 7.6 -7.6 -7.6zM780.7 937.0l7.6 7.6 -7.6 7.6 -7.6 -7.6zM781.6 937.8l7.6 7.6 -7.6 7.6 -7.6 -7.6zM782.5 938.3l7.6 7.6 -7.6 7.6 -7.6 -7.6zM783.4 939.2l7.6 7.6 -7.6 7.6 -7.6 -7.6zM784.3 939.0l7.6 7.6 -7.6 7.6 -7.6 -7.6zM785.2 939.8l7.6 7.6 -7.6 7.6 -7.6 -7.6zM786.0 940.6l7.6 7.6 -7.6 7.6 -7.6 -7.6zM786.9 941.3l7.6 7.6 -7.6 7.6 -7.6 -7.6zM787.8 940.7l7.6 7.6 -7.6 7.6 -7.6 -7.6zM788.6 941.6l7.6 7.6 -7.6 7.6 -7.6 -7.6zM789.5 942.7l7.6 7.6 -7.6 7.6 -7.6 -7.6zM790.3 943.0l7.6 7.6 -7.6 7.6 -7.6 -7.6zM791.2 943.6l7.6 7.6 -7.6 7.6 -7.6 -7.6zM792.0 943.8l7.6 7.6 -7.6 7.6 -7.6 -7.6zM792.8 944.3l7.6 7.6 -7.6 7.6 -7.6 -7.6zM793.7 944.7l7.6 7.6 -7.6 7.6 -7.6 -7.6zM794.5 945.6l7.6 7.6 -7.6 7.6 -7.6 -7.6zM795.3 945.9l7.6 7.6 -7.6 7.6 -7.6 -7.6zM796.2 947.3l7.6 7.6 -7.6 7.6 -7.6 -7.6zM797.0 948.1l7.6 7.6 -7.6 7.6 -7.6 -7.6zM797.8 947.3l7.6 7.6 -7.6 7.6 -7.6 -7.6zM798.6 948.0l7.6 7.6 -7.6 7.6 -7.6 -7.6zM799.4 947.1l7.6 7.6 -7.6 7.6 -7.6 -7.6zM800.2 948.0l7.6 7.6 -7.6 7.6 -7.6 -7.6zM801.0 948.7l7.6 7.6 -7.6 7.6 -7.6 -7.6zM801.8 948.6l7.6 7.6 -7.6 7.6 -7.6 -7.6zM802.6 949.5l7.6 7.6 -7.6 7.6 -7.6 -7.6zM803.3 949.8l7.6 7.6 -7.6 7.6 -7.6 -7.6zM804.1 950.0l7.6 7.6 -7.6 7.6 -7.6 -7.6zM804.9 951.0l7.6 7.6 -7.6 7.6 -7.6 -7.6zM805.7 951.0l7.6 7.6 -7.6 7.6 -7.6 -7.6zM806.4 952.2l7.6 7.6 -7.6 7.6 -7.6 -7.6zM807.2 952.6l7.6 7.6 -7.6 7.6 -7.6 -7.6zM808.0 953.7l7.6 7.6 -7.6 7.6 -7.6 -7.6zM808.7 953.3l7.6 7.6 -7.6 7.6 -7.6 -7.6zM809.5 953.5l7.6 7.6 -7.6 7.6 -7.6 -7.6zM810.2 955.0l7.6 7.6 -7.6 7.6 -7.6 -7.6zM811.0 955.9l7.6 7.6 -7.6 7.6 -7.6 -7.6zM811.7 956.7l7.6 7.6 -7.6 7.6 -7.6 -7.6zM812.5 956.8l7.6 7.6 -7.6 7.6 -7.6 -7.6zM813.2 957.6l7.6 7.6 -7.6 7.6 -7.6 -7.6zM813.9 958.8l7.6 7.6 -7.6 7.6 -7.6 -7.6zM814.7 958.4l7.6 7.6 -7.6 7.6 -7.6 -7.6zM815.4 960.1l7.6 7.6 -7.6 7.6 -7.6 -7.6zM816.1 959.4l7.6 7.6 -7.6 7.6 -7.6 -7.6zM816.8 959.8l7.6 7.6 -7.6 7.6 -7.6 -7.6zM817.5 960.2l7.6 7.6 -7.6 7.6 -7.6 -7.6zM818.3 959.7l7.6 7.6 -7.6 7.6 -7.6 -7.6zM819.0 958.9l7.6 7.6 -7.6 7.6 -7.6 -7.6zM819.7 959.0l7.6 7.6 -7.6 7.6 -7.6 -7.6zM820.4 958.1l7.6 7.6 -7.6 7.6 -7.6 -7.6zM821.1 959.3l7.6 7.6 -7.6 7.6 -7.6 -7.6zM821.8 959.9l7.6 7.6 -7.6 7.6 -7.6 -7.6zM822.5 959.1l7.6 7.6 -7.6 7.6 -7.6 -7.6zM823.2 959.0l7.6 7.6 -7.6 7.6 -7.6 -7.6zM823.9 959.3l7.6 7.6 -7.6 7.6 -7.6 -7.6zM824.5 960.1l7.6 7.6 -7.6 7.6 -7.6 -7.6zM825.2 960.0l7.6 7.6 -7.6 7.6 -7.6 -7.6zM825.9 960.5l7.6 7.6 -7.6 7.6 -7.6 -7.6zM826.6 959.8l7.6 7.6 -7.6 7.6 -7.6 -7.6zM827.3 961.0l7.6 7.6 -7.6 7.6 -7.6 -7.6zM827.9 961.1l7.6 7.6 -7.6 7.6 -7.6 -7.6zM828.6 962.1l7.6 7.6 -7.6 7.6 -7.6 -7.6zM829.3 962.3l7.6 7.6 -7.6 7.6 -7.6 -7.6zM829.9 962.6l7.6 7.6 -7.6 7.6 -7.6 -7.6zM830.6 963.9l7.6 7.6 -7.6 7.6 -7.6 -7.6zM831.3 964.9l7.6 7.6 -7.6 7.6 -7.6 -7.6zM831.9 964.1l7.6 7.6 -7.6 7.6 -7.6 -7.6zM832.6 964.4l7.6 7.6 -7.6 7.6 -7.6 -7.6zM833.2 964.6l7.6 7.6 -7.6 7.6 -7.6 -7.6zM833.9 965.3l7.6 7.6 -7.6 7.6 -7.6 -7.6zM834.5 965.9l7.6 7.6 -7.6 7.6 -7.6 -7.6zM835.2 965.1l7.6 7.6 -7.6 7.6 -7.6 -7.6zM835.8 966.1l7.6 7.6 -7.6 7.6 -7.6 -7.6zM836.4 966.7l7.6 7.6 -7.6 7.6 -7.6 -7.6zM837.1 967.1l7.6 7.6 -7.6 7.6 -7.6 -7.6zM837.7 968.0l7.6 7.6 -7.6 7.6 -7.6 -7.6zM838.3 968.7l7.6 7.6 -7.6 7.6 -7.6 -7.6zM839.0 968.1l7.6 7.6 -7.6 7.6 -7.6 -7.6zM839.6 969.4l7.6 7.6 -7.6 7.6 -7.6 -7.6zM840.2 969.9l7.6 7.6 -7.6 7.6 -7.6 -7.6zM840.8 968.0l7.6 7.6 -7.6 7.6 -7.6 -7.6zM841.4 969.2l7.6 7.6 -7.6 7.6 -7.6 -7.6zM842.1 969.6l7.6 7.6 -7.6 7.6 -7.6 -7.6zM842.7 969.9l7.6 7.6 -7.6 7.6 -7.6 -7.6zM843.3 970.9l7.6 7.6 -7.6 7.6 -7.6 -7.6zM843.9 970.9l7.6 7.6 -7.6 7.6 -7.6 -7.6zM844.5 970.7l7.6 7.6 -7.6 7.6 -7.6 -7.6zM845.1 971.2l7.6 7.6 -7.6 7.6 -7.6 -7.6zM845.7 972.1l7.6 7.6 -7.6 7.6 -7.6 -7.6zM846.6 971.3l7.6 7.6 -7.6 7.6 -7.6 -7.6zM847.5 971.9l7.6 7.6 -7.6 7.6 -7.6 -7.6zM848.4 971.7l7.6 7.6 -7.6 7.6 -7.6 -7.6zM849.3 972.7l7.6 7.6 -7.6 7.6 -7.6 -7.6zM850.1 974.3l7.6 7.6 -7.6 7.6 -7.6 -7.6zM851.0 974.7l7.6 7.6 -7.6 7.6 -7.6 -7.6zM851.9 975.6l7.6 7.6 -7.6 7.6 -7.6 -7.6zM852.8 974.5l7.6 7.6 -7.6 7.6 -7.6 -7.6zM853.6 975.5l7.6 7.6 -7.6 7.6 -7.6 -7.6zM854.5 976.0l7.6 7.6 -7.6 7.6 -7.6 -7.6zM855.3 976.5l7.6 7.6 -7.6 7.6 -7.6 -7.6zM856.2 976.3l7.6 7.6 -7.6 7.6 -7.6 -7.6zM857.0 976.4l7.6 7.6 -7.6 7.6 -7.6 -7.6zM857.8 976.1l7.6 7.6 -7.6 7.6 -7.6 -7.6zM858.7 976.1l7.6 7.6 -7.6 7.6 -7.6 -7.6zM859.5 976.4l7.6 7.6 -7.6 7.6 -7.6 -7.6zM860.3 977.0l7.6 7.6 -7.6 7.6 -7.6 -7.6zM861.2 976.4l7.6 7.6 -7.6 7.6 -7.6 -7.6zM862.0 978.1l7.6 7.6 -7.6 7.6 -7.6 -7.6zM862.8 977.5l7.6 7.6 -7.6 7.6 -7.6 -7.6zM863.6 977.7l7.6 7.6 -7.6 7.6 -7.6 -7.6zM864.4 978.5l7.6 7.6 -7.6 7.6 -7.6 -7.6zM865.2 979.2l7.6 7.6 -7.6 7.6 -7.6 -7.6zM866.0 979.9l7.6 7.6 -7.6 7.6 -7.6 -7.6zM866.8 980.3l7.6 7.6 -7.6 7.6 -7.6 -7.6zM867.6 980.1l7.6 7.6 -7.6 7.6 -7.6 -7.6zM868.4 979.8l7.6 7.6 -7.6 7.6 -7.6 -7.6zM869.1 981.2l7.6 7.6 -7.6 7.6 -7.6 -7.6zM869.9 980.9l7.6 7.6 -7.6 7.6 -7.6 -7.6zM870.7 980.9l7.6 7.6 -7.6 7.6 -7.6 -7.6zM871.5 980.3l7.6 7.6 -7.6 7.6 -7.6 -7.6zM872.2 980.6l7.6 7.6 -7.6 7.6 -7.6 -7.6zM873.0 981.5l7.6 7.6 -7.6 7.6 -7.6 -7.6zM873.7 982.2l7.6 7.6 -7.6 7.6 -7.6 -7.6zM874.5 981.7l7.6 7.6 -7.6 7.6 -7.6 -7.6zM875.3 982.7l7.6 7.6 -7.6 7.6 -7.6 -7.6zM876.0 983.2l7.6 7.6 -7.6 7.6 -7.6 -7.6zM876.7 982.1l7.6 7.6 -7.6 7.6 -7.6 -7.6zM877.5 982.5l7.6 7.6 -7.6 7.6 -7.6 -7.6zM878.2 983.7l7.6 7.6 -7.6 7.6 -7.6 -7.6zM879.0 984.6l7.6 7.6 -7.6 7.6 -7.6 -7.6zM879.7 985.0l7.6 7.6 -7.6 7.6 -7.6 -7.6zM880.4 984.5l7.6 7.6 -7.6 7.6 -7.6 -7.6zM881.1 984.6l7.6 7.6 -7.6 7.6 -7.6 -7.6zM881.9 985.0l7.6 7.6 -7.6 7.6 -7.6 -7.6zM882.6 984.6l7.6 7.6 -7.6 7.6 -7.6 -7.6zM883.3 986.0l7.6 7.6 -7.6 7.6 -7.6 -7.6zM884.0 985.4l7.6 7.6 -7.6 7.6 -7.6 -7.6zM884.7 986.7l7.6 7.6 -7.6 7.6 -7.6 -7.6zM885.4 985.8l7.6 7.6 -7.6 7.6 -7.6 -7.6zM886.1 985.3l7.6 7.6 -7.6 7.6 -7.6 -7.6zM886.8 986.8l7.6 7.6 -7.6 7.6 -7.6 -7.6zM887.5 984.2l7.6 7.6 -7.6 7.6 -7.6 -7.6zM888.2 985.6l7.6 7.6 -7.6 7.6 -7.6 -7.6zM888.9 985.8l7.6 7.6 -7.6 7.6 -7.6 -7.6zM889.6 986.1l7.6 7.6 -7.6 7.6 -7.6 -7.6zM890.3 986.5l7.6 7.6 -7.6 7.6 -7.6 -7.6zM891.0 985.9l7.6 7.6 -7.6 7.6 -7.6 -7.6zM891.6 986.4l7.6 7.6 -7.6 7.6 -7.6 -7.6zM892.3 986.9l7.6 7.6 -7.6 7.6 -7.6 -7.6zM893.0 987.1l7.6 7.6 -7.6 7.6 -7.6 -7.6zM893.7 986.3l7.6 7.6 -7.6 7.6 -7.6 -7.6zM894.3 986.3l7.6 7.6 -7.6 7.6 -7.6 -7.6zM895.0 986.7l7.6 7.6 -7.6 7.6 -7.6 -7.6zM895.7 987.5l7.6 7.6 -7.6 7.6 -7.6 -7.6zM896.3 986.7l7.6 7.6 -7.6 7.6 -7.6 -7.6zM897.0 988.0l7.6 7.6 -7.6 7.6 -7.6 -7.6zM897.6 988.8l7.6 7.6 -7.6 7.6 -7.6 -7.6zM898.3 987.7l7.6 7.6 -7.6 7.6 -7.6 -7.6zM898.9 988.7l7.6 7.6 -7.6 7.6 -7.6 -7.6zM899.6 988.8l7.6 7.6 -7.6 7.6 -7.6 -7.6zM900.2 988.8l7.6 7.6 -7.6 7.6 -7.6 -7.6zM900.9 988.6l7.6 7.6 -7.6 7.6 -7.6 -7.6zM901.5 988.2l7.6 7.6 -7.6 7.6 -7.6 -7.6zM902.1 988.8l7.6 7.6 -7.6 7.6 -7.6 -7.6zM902.8 987.5l7.6 7.6 -7.6 7.6 -7.6 -7.6zM903.4 987.9l7.6 7.6 -7.6 7.6 -7.6 -7.6zM904.0 987.9l7.6 7.6 -7.6 7.6 -7.6 -7.6zM904.6 988.4l7.6 7.6 -7.6 7.6 -7.6 -7.6zM905.3 987.2l7.6 7.6 -7.6 7.6 -7.6 -7.6zM905.9 986.8l7.6 7.6 -7.6 7.6 -7.6 -7.6zM906.5 986.0l7.6 7.6 -7.6 7.6 -7.6 -7.6zM907.1 985.8l7.6 7.6 -7.6 7.6 -7.6 -7.6zM907.7 985.8l7.6 7.6 -7.6 7.6 -7.6 -7.6zM908.4 987.0l7.6 7.6 -7.6 7.6 -7.6 -7.6zM909.0 985.6l7.6 7.6 -7.6 7.6 -7.6 -7.6zM909.6 984.4l7.6 7.6 -7.6 7.6 -7.6 -7.6zM910.2 984.6l7.6 7.6 -7.6 7.6 -7.6 -7.6zM910.8 984.6l7.6 7.6 -7.6 7.6 -7.6 -7.6zM911.4 985.9l7.6 7.6 -7.6 7.6 -7.6 -7.6zM912.2 987.0l7.6 7.6 -7.6 7.6 -7.6 -7.6zM913.0 988.0l7.6 7.6 -7.6 7.6 -7.6 -7.6zM913.8 988.2l7.6 7.6 -7.6 7.6 -7.6 -7.6zM914.5 988.0l7.6 7.6 -7.6 7.6 -7.6 -7.6zM915.3 989.1l7.6 7.6 -7.6 7.6 -7.6 -7.6zM916.1 989.5l7.6 7.6 -7.6 7.6 -7.6 -7.6zM916.9 988.4l7.6 7.6 -7.6 7.6 -7.6 -7.6zM917.6 988.5l7.6 7.6 -7.6 7.6 -7.6 -7.6zM918.4 986.4l7.6 7.6 -7.6 7.6 -7.6 -7.6zM919.2 987.8l7.6 7.6 -7.6 7.6 -7.6 -7.6zM919.9 986.9l7.6 7.6 -7.6 7.6 -7.6 -7.6zM920.7 986.9l7.6 7.6 -7.6 7.6 -7.6 -7.6zM921.4 987.0l7.6 7.6 -7.6 7.6 -7.6 -7.6zM922.2 986.3l7.6 7.6 -7.6 7.6 -7.6 -7.6zM922.9 986.9l7.6 7.6 -7.6 7.6 -7.6 -7.6zM923.7 987.4l7.6 7.6 -7.6 7.6 -7.6 -7.6zM924.4 987.7l7.6 7.6 -7.6 7.6 -7.6 -7.6zM925.2 987.9l7.6 7.6 -7.6 7.6 -7.6 -7.6zM925.9 986.5l7.6 7.6 -7.6 7.6 -7.6 -7.6zM926.6 986.8l7.6 7.6 -7.6 7.6 -7.6 -7.6zM927.3 986.8l7.6 7.6 -7.6 7.6 -7.6 -7.6zM928.1 987.5l7.6 7.6 -7.6 7.6 -7.6 -7.6zM928.8 987.9l7.6 7.6 -7.6 7.6 -7.6 -7.6zM929.5 990.2l7.6 7.6 -7.6 7.6 -7.6 -7.6zM930.2 988.5l7.6 7.6 -7.6 7.6 -7.6 -7.6zM930.9 989.0l7.6 7.6 -7.6 7.6 -7.6 -7.6zM931.6 988.7l7.6 7.6 -7.6 7.6 -7.6 -7.6zM932.3 989.3l7.6 7.6 -7.6 7.6 -7.6 -7.6zM933.0 989.6l7.6 7.6 -7.6 7.6 -7.6 -7.6zM933.7 989.5l7.6 7.6 -7.6 7.6 -7.6 -7.6zM934.4 990.4l7.6 7.6 -7.6 7.6 -7.6 -7.6zM935.1 989.7l7.6 7.6 -7.6 7.6 -7.6 -7.6zM935.8 989.7l7.6 7.6 -7.6 7.6 -7.6 -7.6zM936.5 990.5l7.6 7.6 -7.6 7.6 -7.6 -7.6zM937.2 991.2l7.6 7.6 -7.6 7.6 -7.6 -7.6zM937.8 989.1l7.6 7.6 -7.6 7.6 -7.6 -7.6zM938.5 990.4l7.6 7.6 -7.6 7.6 -7.6 -7.6zM939.2 990.0l7.6 7.6 -7.6 7.6 -7.6 -7.6zM939.9 989.7l7.6 7.6 -7.6 7.6 -7.6 -7.6zM940.5 991.7l7.6 7.6 -7.6 7.6 -7.6 -7.6zM941.2 990.9l7.6 7.6 -7.6 7.6 -7.6 -7.6zM941.9 990.9l7.6 7.6 -7.6 7.6 -7.6 -7.6zM942.5 992.9l7.6 7.6 -7.6 7.6 -7.6 -7.6zM942.8 993.0l7.6 7.6 -7.6 7.6 -7.6 -7.6z" fill="#008b00" stroke="#008b00" stroke-width="1.8" stroke-linejoin="miter"/>
<path d="M942.8 993.0l7.6 7.6 -7.6 7.6 -7.6 -7.6z" fill="url(#po2)" stroke="#008b00" stroke-width="1.8" clip-path="url(#clipEnd)"/>
<g fill="url(#po2)" stroke="#008b00" stroke-width="1.8"><path d="M487.7 775.1l7.6 7.6 -7.6 7.6 -7.6 -7.6z"/><path d="M484.9 773.7l7.6 7.6 -7.6 7.6 -7.6 -7.6z"/><path d="M482.1 772.0l7.6 7.6 -7.6 7.6 -7.6 -7.6z"/><path d="M479.2 770.5l7.6 7.6 -7.6 7.6 -7.6 -7.6z"/><path d="M476.2 768.9l7.6 7.6 -7.6 7.6 -7.6 -7.6z"/><path d="M473.2 766.9l7.6 7.6 -7.6 7.6 -7.6 -7.6z"/><path d="M470.1 765.2l7.6 7.6 -7.6 7.6 -7.6 -7.6z"/><path d="M467.0 763.3l7.6 7.6 -7.6 7.6 -7.6 -7.6z"/><path d="M463.8 761.4l7.6 7.6 -7.6 7.6 -7.6 -7.6z"/><path d="M460.6 759.2l7.6 7.6 -7.6 7.6 -7.6 -7.6z"/><path d="M457.2 757.4l7.6 7.6 -7.6 7.6 -7.6 -7.6z"/><path d="M453.8 755.4l7.6 7.6 -7.6 7.6 -7.6 -7.6z"/><path d="M450.4 753.4l7.6 7.6 -7.6 7.6 -7.6 -7.6z"/><path d="M446.8 751.2l7.6 7.6 -7.6 7.6 -7.6 -7.6z"/><path d="M443.2 749.0l7.6 7.6 -7.6 7.6 -7.6 -7.6z"/><path d="M439.5 746.9l7.6 7.6 -7.6 7.6 -7.6 -7.6z"/><path d="M435.7 744.9l7.6 7.6 -7.6 7.6 -7.6 -7.6z"/><path d="M431.9 742.3l7.6 7.6 -7.6 7.6 -7.6 -7.6z"/><path d="M427.9 740.4l7.6 7.6 -7.6 7.6 -7.6 -7.6z"/><path d="M423.8 737.9l7.6 7.6 -7.6 7.6 -7.6 -7.6z"/><path d="M419.6 735.3l7.6 7.6 -7.6 7.6 -7.6 -7.6z"/><path d="M415.3 733.1l7.6 7.6 -7.6 7.6 -7.6 -7.6z"/><path d="M410.9 730.3l7.6 7.6 -7.6 7.6 -7.6 -7.6z"/><path d="M406.4 727.9l7.6 7.6 -7.6 7.6 -7.6 -7.6z"/><path d="M401.7 725.5l7.6 7.6 -7.6 7.6 -7.6 -7.6z"/><path d="M396.9 723.2l7.6 7.6 -7.6 7.6 -7.6 -7.6z"/><path d="M392.0 720.4l7.6 7.6 -7.6 7.6 -7.6 -7.6z"/><path d="M386.8 717.8l7.6 7.6 -7.6 7.6 -7.6 -7.6z"/><path d="M381.6 715.4l7.6 7.6 -7.6 7.6 -7.6 -7.6z"/><path d="M376.1 712.9l7.6 7.6 -7.6 7.6 -7.6 -7.6z"/><path d="M370.5 710.1l7.6 7.6 -7.6 7.6 -7.6 -7.6z"/><path d="M364.6 707.6l7.6 7.6 -7.6 7.6 -7.6 -7.6z"/><path d="M358.5 704.8l7.6 7.6 -7.6 7.6 -7.6 -7.6z"/><path d="M352.2 702.0l7.6 7.6 -7.6 7.6 -7.6 -7.6z"/><path d="M345.6 699.2l7.6 7.6 -7.6 7.6 -7.6 -7.6z"/><path d="M338.8 696.3l7.6 7.6 -7.6 7.6 -7.6 -7.6z"/><path d="M331.6 693.5l7.6 7.6 -7.6 7.6 -7.6 -7.6z"/><path d="M324.1 690.6l7.6 7.6 -7.6 7.6 -7.6 -7.6z"/><path d="M316.3 687.5l7.6 7.6 -7.6 7.6 -7.6 -7.6z"/><path d="M308.0 684.7l7.6 7.6 -7.6 7.6 -7.6 -7.6z"/><path d="M299.3 681.8l7.6 7.6 -7.6 7.6 -7.6 -7.6z"/><path d="M290.1 679.0l7.6 7.6 -7.6 7.6 -7.6 -7.6z"/><path d="M280.4 676.3l7.6 7.6 -7.6 7.6 -7.6 -7.6z"/><path d="M270.0 673.7l7.6 7.6 -7.6 7.6 -7.6 -7.6z"/><path d="M258.9 671.0l7.6 7.6 -7.6 7.6 -7.6 -7.6z"/><path d="M246.9 668.1l7.6 7.6 -7.6 7.6 -7.6 -7.6z"/><path d="M234.1 664.9l7.6 7.6 -7.6 7.6 -7.6 -7.6z"/><path d="M220.0 661.5l7.6 7.6 -7.6 7.6 -7.6 -7.6z"/><path d="M204.7 658.2l7.6 7.6 -7.6 7.6 -7.6 -7.6z"/><path d="M187.7 655.2l7.6 7.6 -7.6 7.6 -7.6 -7.6z"/><path d="M168.8 652.2l7.6 7.6 -7.6 7.6 -7.6 -7.6z"/><path d="M147.3 649.4l7.6 7.6 -7.6 7.6 -7.6 -7.6z"/></g>
<path d="M490.5 777.5l7.8 13.5h-15.6zM493.2 779.4l7.8 13.5h-15.6zM495.8 780.9l7.8 13.5h-15.6zM498.4 782.6l7.8 13.5h-15.6zM501.0 784.1l7.8 13.5h-15.6zM503.6 785.9l7.8 13.5h-15.6zM506.0 787.0l7.8 13.5h-15.6zM508.5 788.5l7.8 13.5h-15.6zM510.9 789.9l7.8 13.5h-15.6zM513.3 791.8l7.8 13.5h-15.6zM515.7 793.3l7.8 13.5h-15.6zM518.0 794.9l7.8 13.5h-15.6zM520.3 796.7l7.8 13.5h-15.6zM522.5 798.0l7.8 13.5h-15.6zM524.7 799.6l7.8 13.5h-15.6zM526.9 800.7l7.8 13.5h-15.6zM529.1 801.9l7.8 13.5h-15.6zM531.2 803.1l7.8 13.5h-15.6zM533.3 804.1l7.8 13.5h-15.6zM535.4 806.0l7.8 13.5h-15.6zM537.5 807.5l7.8 13.5h-15.6zM539.5 808.7l7.8 13.5h-15.6zM541.5 809.9l7.8 13.5h-15.6zM543.5 811.9l7.8 13.5h-15.6zM545.4 812.8l7.8 13.5h-15.6zM547.3 814.1l7.8 13.5h-15.6zM549.2 815.3l7.8 13.5h-15.6zM551.1 816.6l7.8 13.5h-15.6zM553.0 818.0l7.8 13.5h-15.6zM554.8 818.8l7.8 13.5h-15.6zM556.6 820.1l7.8 13.5h-15.6zM558.4 821.1l7.8 13.5h-15.6zM560.2 822.3l7.8 13.5h-15.6zM562.0 823.1l7.8 13.5h-15.6zM563.7 824.5l7.8 13.5h-15.6zM565.4 825.3l7.8 13.5h-15.6zM567.1 826.3l7.8 13.5h-15.6zM568.8 827.0l7.8 13.5h-15.6zM570.5 827.9l7.8 13.5h-15.6zM572.1 828.7l7.8 13.5h-15.6zM573.8 828.7l7.8 13.5h-15.6zM575.4 829.6l7.8 13.5h-15.6zM577.0 830.5l7.8 13.5h-15.6zM578.6 831.3l7.8 13.5h-15.6zM580.2 832.1l7.8 13.5h-15.6zM581.7 832.7l7.8 13.5h-15.6zM583.3 833.6l7.8 13.5h-15.6zM584.8 834.6l7.8 13.5h-15.6zM586.3 834.9l7.8 13.5h-15.6zM587.8 835.5l7.8 13.5h-15.6zM589.3 836.8l7.8 13.5h-15.6zM590.7 837.1l7.8 13.5h-15.6zM592.2 837.9l7.8 13.5h-15.6zM593.6 838.5l7.8 13.5h-15.6zM595.1 839.0l7.8 13.5h-15.6zM596.5 840.0l7.8 13.5h-15.6zM597.9 840.6l7.8 13.5h-15.6zM599.3 841.3l7.8 13.5h-15.6zM600.7 841.7l7.8 13.5h-15.6zM602.0 842.5l7.8 13.5h-15.6zM603.4 843.6l7.8 13.5h-15.6zM604.8 844.6l7.8 13.5h-15.6zM606.1 844.8l7.8 13.5h-15.6zM607.4 845.8l7.8 13.5h-15.6zM608.7 846.1l7.8 13.5h-15.6zM610.0 846.9l7.8 13.5h-15.6zM611.3 847.4l7.8 13.5h-15.6zM612.6 848.2l7.8 13.5h-15.6zM613.9 849.3l7.8 13.5h-15.6zM615.1 850.1l7.8 13.5h-15.6zM616.4 850.5l7.8 13.5h-15.6zM617.6 851.4l7.8 13.5h-15.6zM618.9 852.4l7.8 13.5h-15.6zM620.1 852.6l7.8 13.5h-15.6zM621.3 853.6l7.8 13.5h-15.6zM622.5 853.9l7.8 13.5h-15.6zM623.7 855.1l7.8 13.5h-15.6zM624.9 856.1l7.8 13.5h-15.6zM626.1 857.0l7.8 13.5h-15.6zM627.3 857.9l7.8 13.5h-15.6zM628.4 858.9l7.8 13.5h-15.6zM629.6 859.7l7.8 13.5h-15.6zM630.7 860.6l7.8 13.5h-15.6zM631.9 861.4l7.8 13.5h-15.6zM633.0 861.8l7.8 13.5h-15.6zM634.1 862.3l7.8 13.5h-15.6zM635.2 862.7l7.8 13.5h-15.6zM636.3 863.6l7.8 13.5h-15.6zM637.4 864.3l7.8 13.5h-15.6zM638.5 864.9l7.8 13.5h-15.6zM639.6 865.1l7.8 13.5h-15.6zM640.7 866.0l7.8 13.5h-15.6zM641.7 867.2l7.8 13.5h-15.6zM642.8 866.8l7.8 13.5h-15.6zM643.9 867.8l7.8 13.5h-15.6zM644.9 868.8l7.8 13.5h-15.6zM646.0 868.8l7.8 13.5h-15.6zM647.0 869.6l7.8 13.5h-15.6zM648.0 870.3l7.8 13.5h-15.6zM649.0 871.1l7.8 13.5h-15.6zM650.1 871.7l7.8 13.5h-15.6zM651.1 872.6l7.8 13.5h-15.6zM652.1 872.7l7.8 13.5h-15.6zM653.1 874.1l7.8 13.5h-15.6zM654.1 874.6l7.8 13.5h-15.6zM655.0 875.2l7.8 13.5h-15.6zM656.0 875.7l7.8 13.5h-15.6zM657.0 876.1l7.8 13.5h-15.6zM658.0 876.6l7.8 13.5h-15.6zM658.9 876.5l7.8 13.5h-15.6zM659.9 876.9l7.8 13.5h-15.6zM660.8 876.9l7.8 13.5h-15.6zM661.8 877.4l7.8 13.5h-15.6zM662.7 878.4l7.8 13.5h-15.6zM663.6 878.9l7.8 13.5h-15.6zM664.6 880.3l7.8 13.5h-15.6zM665.5 880.7l7.8 13.5h-15.6zM666.4 881.5l7.8 13.5h-15.6zM667.3 881.8l7.8 13.5h-15.6zM668.2 882.9l7.8 13.5h-15.6zM669.1 882.7l7.8 13.5h-15.6zM670.0 883.8l7.8 13.5h-15.6zM670.9 884.7l7.8 13.5h-15.6zM671.8 885.3l7.8 13.5h-15.6zM672.7 885.9l7.8 13.5h-15.6zM673.6 885.9l7.8 13.5h-15.6zM674.4 886.4l7.8 13.5h-15.6zM675.3 887.1l7.8 13.5h-15.6zM676.2 887.8l7.8 13.5h-15.6zM677.0 888.0l7.8 13.5h-15.6zM677.9 888.4l7.8 13.5h-15.6zM678.7 888.4l7.8 13.5h-15.6zM679.6 888.7l7.8 13.5h-15.6zM680.4 889.1l7.8 13.5h-15.6zM681.3 890.2l7.8 13.5h-15.6zM682.1 890.6l7.8 13.5h-15.6zM682.9 891.4l7.8 13.5h-15.6zM683.7 891.2l7.8 13.5h-15.6zM684.6 892.5l7.8 13.5h-15.6zM685.4 894.0l7.8 13.5h-15.6zM686.2 894.6l7.8 13.5h-15.6zM687.0 895.0l7.8 13.5h-15.6zM687.8 895.4l7.8 13.5h-15.6zM688.6 895.4l7.8 13.5h-15.6zM689.4 895.8l7.8 13.5h-15.6zM690.2 896.8l7.8 13.5h-15.6zM691.0 895.7l7.8 13.5h-15.6zM691.8 896.5l7.8 13.5h-15.6zM692.5 896.8l7.8 13.5h-15.6zM693.3 898.3l7.8 13.5h-15.6zM694.1 898.8l7.8 13.5h-15.6zM694.8 899.6l7.8 13.5h-15.6zM695.6 899.8l7.8 13.5h-15.6zM696.4 900.9l7.8 13.5h-15.6zM697.1 901.3l7.8 13.5h-15.6zM697.9 901.7l7.8 13.5h-15.6zM698.6 902.0l7.8 13.5h-15.6zM699.4 902.5l7.8 13.5h-15.6zM700.1 903.8l7.8 13.5h-15.6zM700.9 904.9l7.8 13.5h-15.6zM701.6 905.1l7.8 13.5h-15.6zM702.3 905.7l7.8 13.5h-15.6zM703.1 906.8l7.8 13.5h-15.6zM703.8 907.0l7.8 13.5h-15.6zM704.5 907.6l7.8 13.5h-15.6zM705.2 907.3l7.8 13.5h-15.6zM706.0 908.0l7.8 13.5h-15.6zM706.7 908.9l7.8 13.5h-15.6zM707.4 909.3l7.8 13.5h-15.6zM708.1 909.8l7.8 13.5h-15.6zM708.8 910.0l7.8 13.5h-15.6zM709.5 910.5l7.8 13.5h-15.6zM710.2 911.4l7.8 13.5h-15.6zM710.9 911.5l7.8 13.5h-15.6zM711.6 912.5l7.8 13.5h-15.6zM712.3 913.0l7.8 13.5h-15.6zM713.0 913.9l7.8 13.5h-15.6zM713.6 914.1l7.8 13.5h-15.6zM714.3 915.2l7.8 13.5h-15.6zM715.0 915.8l7.8 13.5h-15.6zM715.7 915.7l7.8 13.5h-15.6zM716.3 916.2l7.8 13.5h-15.6zM717.0 916.2l7.8 13.5h-15.6zM717.7 916.7l7.8 13.5h-15.6zM718.3 917.2l7.8 13.5h-15.6zM719.0 917.7l7.8 13.5h-15.6zM719.7 918.3l7.8 13.5h-15.6zM720.3 919.1l7.8 13.5h-15.6zM721.0 919.5l7.8 13.5h-15.6zM721.6 919.5l7.8 13.5h-15.6zM722.3 920.1l7.8 13.5h-15.6zM722.9 920.1l7.8 13.5h-15.6zM723.6 920.6l7.8 13.5h-15.6zM724.2 921.2l7.8 13.5h-15.6zM724.8 922.1l7.8 13.5h-15.6zM725.5 922.3l7.8 13.5h-15.6zM726.1 923.2l7.8 13.5h-15.6zM726.7 923.2l7.8 13.5h-15.6zM727.4 924.3l7.8 13.5h-15.6zM728.0 924.5l7.8 13.5h-15.6zM728.6 924.8l7.8 13.5h-15.6zM729.2 924.8l7.8 13.5h-15.6zM729.8 925.2l7.8 13.5h-15.6zM730.5 925.6l7.8 13.5h-15.6zM731.1 925.9l7.8 13.5h-15.6zM731.7 925.8l7.8 13.5h-15.6zM732.3 926.2l7.8 13.5h-15.6zM732.9 926.2l7.8 13.5h-15.6zM733.5 926.4l7.8 13.5h-15.6zM734.1 926.9l7.8 13.5h-15.6zM735.3 927.9l7.8 13.5h-15.6zM736.5 929.0l7.8 13.5h-15.6zM737.7 930.2l7.8 13.5h-15.6zM738.8 930.2l7.8 13.5h-15.6zM740.0 931.9l7.8 13.5h-15.6zM741.2 932.6l7.8 13.5h-15.6zM742.3 934.0l7.8 13.5h-15.6zM743.4 934.5l7.8 13.5h-15.6zM744.6 936.4l7.8 13.5h-15.6zM745.7 937.2l7.8 13.5h-15.6zM746.8 938.4l7.8 13.5h-15.6zM747.9 939.3l7.8 13.5h-15.6zM749.0 940.7l7.8 13.5h-15.6zM750.1 942.4l7.8 13.5h-15.6zM751.2 942.6l7.8 13.5h-15.6zM752.3 943.8l7.8 13.5h-15.6zM753.3 945.3l7.8 13.5h-15.6zM754.4 945.7l7.8 13.5h-15.6zM755.5 946.7l7.8 13.5h-15.6zM756.5 946.5l7.8 13.5h-15.6zM757.5 947.8l7.8 13.5h-15.6zM758.6 948.3l7.8 13.5h-15.6zM759.6 948.8l7.8 13.5h-15.6zM760.6 949.9l7.8 13.5h-15.6zM761.6 950.2l7.8 13.5h-15.6zM762.7 950.4l7.8 13.5h-15.6zM763.7 950.9l7.8 13.5h-15.6zM764.7 951.3l7.8 13.5h-15.6zM765.6 951.5l7.8 13.5h-15.6zM766.6 952.5l7.8 13.5h-15.6zM767.6 952.6l7.8 13.5h-15.6zM768.6 954.1l7.8 13.5h-15.6zM769.6 954.6l7.8 13.5h-15.6zM770.5 955.3l7.8 13.5h-15.6zM771.5 956.6l7.8 13.5h-15.6zM772.4 956.1l7.8 13.5h-15.6zM773.4 957.8l7.8 13.5h-15.6zM774.3 958.9l7.8 13.5h-15.6zM775.2 960.4l7.8 13.5h-15.6zM776.2 960.7l7.8 13.5h-15.6zM777.1 961.9l7.8 13.5h-15.6zM778.0 962.5l7.8 13.5h-15.6zM778.9 963.2l7.8 13.5h-15.6zM779.8 963.6l7.8 13.5h-15.6zM780.7 964.2l7.8 13.5h-15.6zM781.6 964.7l7.8 13.5h-15.6zM782.5 965.3l7.8 13.5h-15.6zM783.4 965.2l7.8 13.5h-15.6zM784.3 966.4l7.8 13.5h-15.6zM785.2 966.9l7.8 13.5h-15.6zM786.0 967.1l7.8 13.5h-15.6zM786.9 967.8l7.8 13.5h-15.6zM787.8 968.3l7.8 13.5h-15.6zM788.6 968.1l7.8 13.5h-15.6zM789.5 968.9l7.8 13.5h-15.6zM790.3 969.6l7.8 13.5h-15.6zM791.2 969.3l7.8 13.5h-15.6zM792.0 970.0l7.8 13.5h-15.6zM792.8 970.7l7.8 13.5h-15.6zM793.7 970.7l7.8 13.5h-15.6zM794.5 971.9l7.8 13.5h-15.6zM795.3 973.4l7.8 13.5h-15.6zM796.2 973.6l7.8 13.5h-15.6zM797.0 973.5l7.8 13.5h-15.6zM797.8 973.6l7.8 13.5h-15.6zM798.6 976.0l7.8 13.5h-15.6zM799.4 976.4l7.8 13.5h-15.6zM800.2 975.7l7.8 13.5h-15.6zM801.0 975.7l7.8 13.5h-15.6zM801.8 977.0l7.8 13.5h-15.6zM802.6 977.5l7.8 13.5h-15.6zM803.3 977.9l7.8 13.5h-15.6zM804.1 978.0l7.8 13.5h-15.6zM804.9 977.8l7.8 13.5h-15.6zM805.7 978.0l7.8 13.5h-15.6zM806.4 979.1l7.8 13.5h-15.6zM807.2 979.7l7.8 13.5h-15.6zM808.0 979.9l7.8 13.5h-15.6zM808.7 981.0l7.8 13.5h-15.6zM809.5 981.9l7.8 13.5h-15.6zM810.2 982.0l7.8 13.5h-15.6zM811.0 982.2l7.8 13.5h-15.6zM811.7 982.8l7.8 13.5h-15.6zM812.5 983.4l7.8 13.5h-15.6zM813.2 983.7l7.8 13.5h-15.6zM813.9 983.7l7.8 13.5h-15.6zM814.7 983.7l7.8 13.5h-15.6zM815.4 985.0l7.8 13.5h-15.6zM816.1 986.7l7.8 13.5h-15.6zM816.8 987.1l7.8 13.5h-15.6zM817.5 986.6l7.8 13.5h-15.6zM818.3 988.3l7.8 13.5h-15.6zM819.0 987.9l7.8 13.5h-15.6zM819.7 987.6l7.8 13.5h-15.6zM820.4 987.3l7.8 13.5h-15.6zM821.1 987.8l7.8 13.5h-15.6zM821.8 987.7l7.8 13.5h-15.6zM822.5 988.5l7.8 13.5h-15.6zM823.2 988.4l7.8 13.5h-15.6zM823.9 988.0l7.8 13.5h-15.6zM824.5 989.3l7.8 13.5h-15.6zM825.2 989.6l7.8 13.5h-15.6zM825.9 989.4l7.8 13.5h-15.6zM826.6 989.8l7.8 13.5h-15.6zM827.3 989.5l7.8 13.5h-15.6zM827.9 989.7l7.8 13.5h-15.6zM828.6 990.4l7.8 13.5h-15.6zM829.3 991.2l7.8 13.5h-15.6zM829.9 991.3l7.8 13.5h-15.6zM830.6 992.9l7.8 13.5h-15.6zM831.3 992.3l7.8 13.5h-15.6zM831.9 992.3l7.8 13.5h-15.6zM832.6 993.1l7.8 13.5h-15.6zM833.2 994.0l7.8 13.5h-15.6zM833.9 995.0l7.8 13.5h-15.6zM834.5 996.2l7.8 13.5h-15.6zM835.2 996.6l7.8 13.5h-15.6zM835.8 996.1l7.8 13.5h-15.6zM836.4 997.0l7.8 13.5h-15.6zM837.1 997.3l7.8 13.5h-15.6zM837.7 997.5l7.8 13.5h-15.6zM838.3 997.9l7.8 13.5h-15.6zM839.0 998.8l7.8 13.5h-15.6zM839.6 998.2l7.8 13.5h-15.6zM840.2 998.3l7.8 13.5h-15.6zM840.8 999.0l7.8 13.5h-15.6zM841.4 999.3l7.8 13.5h-15.6zM842.1 999.5l7.8 13.5h-15.6zM842.7 1000.1l7.8 13.5h-15.6zM843.3 999.5l7.8 13.5h-15.6zM843.9 1000.4l7.8 13.5h-15.6zM844.5 999.6l7.8 13.5h-15.6zM845.1 999.0l7.8 13.5h-15.6zM845.7 999.0l7.8 13.5h-15.6zM846.6 999.9l7.8 13.5h-15.6zM847.5 999.1l7.8 13.5h-15.6zM848.4 998.5l7.8 13.5h-15.6zM849.3 998.3l7.8 13.5h-15.6zM850.1 999.1l7.8 13.5h-15.6zM851.0 1000.2l7.8 13.5h-15.6zM851.9 1000.3l7.8 13.5h-15.6zM852.8 1000.3l7.8 13.5h-15.6zM853.6 1000.7l7.8 13.5h-15.6zM854.5 1001.7l7.8 13.5h-15.6zM855.3 1001.4l7.8 13.5h-15.6zM856.2 1001.5l7.8 13.5h-15.6zM857.0 1002.4l7.8 13.5h-15.6zM857.8 1002.0l7.8 13.5h-15.6zM858.7 1003.4l7.8 13.5h-15.6zM859.5 1003.6l7.8 13.5h-15.6zM860.3 1004.0l7.8 13.5h-15.6zM861.2 1004.6l7.8 13.5h-15.6zM862.0 1004.4l7.8 13.5h-15.6zM862.8 1004.3l7.8 13.5h-15.6zM863.6 1004.5l7.8 13.5h-15.6zM864.4 1004.0l7.8 13.5h-15.6zM865.2 1005.8l7.8 13.5h-15.6zM866.0 1005.6l7.8 13.5h-15.6zM866.8 1005.5l7.8 13.5h-15.6zM867.6 1005.8l7.8 13.5h-15.6zM868.4 1006.2l7.8 13.5h-15.6zM869.1 1005.2l7.8 13.5h-15.6zM869.9 1005.7l7.8 13.5h-15.6zM870.7 1006.8l7.8 13.5h-15.6zM871.5 1006.2l7.8 13.5h-15.6zM872.2 1006.8l7.8 13.5h-15.6zM873.0 1007.4l7.8 13.5h-15.6zM873.7 1007.7l7.8 13.5h-15.6zM874.5 1007.7l7.8 13.5h-15.6zM875.3 1007.8l7.8 13.5h-15.6zM876.0 1009.3l7.8 13.5h-15.6zM876.7 1007.7l7.8 13.5h-15.6zM877.5 1009.0l7.8 13.5h-15.6zM878.2 1008.0l7.8 13.5h-15.6zM879.0 1007.2l7.8 13.5h-15.6zM879.7 1007.9l7.8 13.5h-15.6zM880.4 1007.1l7.8 13.5h-15.6zM881.1 1005.9l7.8 13.5h-15.6zM881.9 1005.4l7.8 13.5h-15.6zM882.6 1006.4l7.8 13.5h-15.6zM883.3 1005.9l7.8 13.5h-15.6zM884.0 1006.1l7.8 13.5h-15.6zM884.7 1005.9l7.8 13.5h-15.6zM885.4 1006.4l7.8 13.5h-15.6zM886.1 1008.0l7.8 13.5h-15.6zM886.8 1008.3l7.8 13.5h-15.6zM887.5 1007.7l7.8 13.5h-15.6zM888.2 1008.5l7.8 13.5h-15.6zM888.9 1009.3l7.8 13.5h-15.6zM889.6 1009.2l7.8 13.5h-15.6zM890.3 1008.4l7.8 13.5h-15.6zM891.0 1009.7l7.8 13.5h-15.6zM891.6 1009.7l7.8 13.5h-15.6zM892.3 1008.0l7.8 13.5h-15.6zM893.0 1007.4l7.8 13.5h-15.6zM893.7 1007.5l7.8 13.5h-15.6zM894.3 1008.1l7.8 13.5h-15.6zM895.0 1006.9l7.8 13.5h-15.6zM895.7 1007.5l7.8 13.5h-15.6zM896.3 1008.3l7.8 13.5h-15.6zM897.0 1006.9l7.8 13.5h-15.6zM897.6 1008.7l7.8 13.5h-15.6zM898.3 1008.5l7.8 13.5h-15.6zM898.9 1008.9l7.8 13.5h-15.6zM899.6 1009.4l7.8 13.5h-15.6zM900.2 1009.1l7.8 13.5h-15.6zM900.9 1010.4l7.8 13.5h-15.6zM901.5 1009.9l7.8 13.5h-15.6zM902.1 1009.0l7.8 13.5h-15.6zM902.8 1009.5l7.8 13.5h-15.6zM903.4 1008.9l7.8 13.5h-15.6zM904.0 1009.0l7.8 13.5h-15.6zM904.6 1010.1l7.8 13.5h-15.6zM905.3 1010.1l7.8 13.5h-15.6zM905.9 1010.4l7.8 13.5h-15.6zM906.5 1010.4l7.8 13.5h-15.6zM907.1 1010.4l7.8 13.5h-15.6zM907.7 1009.9l7.8 13.5h-15.6zM908.4 1010.8l7.8 13.5h-15.6zM909.0 1010.3l7.8 13.5h-15.6zM909.6 1010.3l7.8 13.5h-15.6zM910.2 1010.8l7.8 13.5h-15.6zM910.8 1010.1l7.8 13.5h-15.6zM911.4 1010.5l7.8 13.5h-15.6zM912.2 1010.3l7.8 13.5h-15.6zM913.0 1010.7l7.8 13.5h-15.6zM913.8 1011.4l7.8 13.5h-15.6zM914.5 1011.0l7.8 13.5h-15.6zM915.3 1010.2l7.8 13.5h-15.6zM916.1 1010.8l7.8 13.5h-15.6zM916.9 1011.2l7.8 13.5h-15.6zM917.6 1011.5l7.8 13.5h-15.6zM918.4 1010.6l7.8 13.5h-15.6zM919.2 1010.1l7.8 13.5h-15.6zM919.9 1009.8l7.8 13.5h-15.6zM920.7 1011.2l7.8 13.5h-15.6zM921.4 1010.9l7.8 13.5h-15.6zM922.2 1010.2l7.8 13.5h-15.6zM922.9 1012.1l7.8 13.5h-15.6zM923.7 1011.4l7.8 13.5h-15.6zM924.4 1010.4l7.8 13.5h-15.6zM925.2 1012.0l7.8 13.5h-15.6zM925.9 1011.3l7.8 13.5h-15.6zM926.6 1010.2l7.8 13.5h-15.6zM927.3 1011.9l7.8 13.5h-15.6zM928.1 1011.4l7.8 13.5h-15.6zM928.8 1008.9l7.8 13.5h-15.6zM929.5 1009.4l7.8 13.5h-15.6zM930.2 1009.1l7.8 13.5h-15.6zM930.9 1009.5l7.8 13.5h-15.6zM931.6 1009.8l7.8 13.5h-15.6zM932.3 1009.0l7.8 13.5h-15.6zM933.0 1008.9l7.8 13.5h-15.6zM933.7 1009.7l7.8 13.5h-15.6zM934.4 1008.7l7.8 13.5h-15.6zM935.1 1008.9l7.8 13.5h-15.6zM935.8 1009.4l7.8 13.5h-15.6zM936.5 1010.3l7.8 13.5h-15.6zM937.2 1010.6l7.8 13.5h-15.6zM937.8 1011.5l7.8 13.5h-15.6zM938.5 1010.7l7.8 13.5h-15.6zM939.2 1011.5l7.8 13.5h-15.6zM939.9 1011.2l7.8 13.5h-15.6zM940.5 1011.4l7.8 13.5h-15.6zM941.2 1011.0l7.8 13.5h-15.6zM941.9 1009.7l7.8 13.5h-15.6zM942.5 1010.4l7.8 13.5h-15.6zM942.8 1010.5l7.8 13.5h-15.6z" fill="#0000ff" stroke="#0000ff" stroke-width="1.8" stroke-linejoin="miter"/>
<path d="M942.8 1010.5l7.8 13.5h-15.6z" fill="url(#po3)" stroke="#0000ff" stroke-width="1.8" clip-path="url(#clipEnd)"/>
<g fill="url(#po3)" stroke="#0000ff" stroke-width="1.8"><path d="M487.7 775.9l7.8 13.5h-15.6z"/><path d="M484.9 774.2l7.8 13.5h-15.6z"/><path d="M482.1 772.3l7.8 13.5h-15.6z"/><path d="M479.2 770.6l7.8 13.5h-15.6z"/><path d="M476.2 768.7l7.8 13.5h-15.6z"/><path d="M473.2 766.8l7.8 13.5h-15.6z"/><path d="M470.1 765.3l7.8 13.5h-15.6z"/><path d="M467.0 763.5l7.8 13.5h-15.6z"/><path d="M463.8 761.5l7.8 13.5h-15.6z"/><path d="M460.6 759.4l7.8 13.5h-15.6z"/><path d="M457.2 757.2l7.8 13.5h-15.6z"/><path d="M453.8 755.3l7.8 13.5h-15.6z"/><path d="M450.4 753.0l7.8 13.5h-15.6z"/><path d="M446.8 751.2l7.8 13.5h-15.6z"/><path d="M443.2 749.1l7.8 13.5h-15.6z"/><path d="M439.5 746.8l7.8 13.5h-15.6z"/><path d="M435.7 744.4l7.8 13.5h-15.6z"/><path d="M431.9 742.4l7.8 13.5h-15.6z"/><path d="M427.9 739.9l7.8 13.5h-15.6z"/><path d="M423.8 737.3l7.8 13.5h-15.6z"/><path d="M419.6 734.9l7.8 13.5h-15.6z"/><path d="M415.3 732.5l7.8 13.5h-15.6z"/><path d="M410.9 730.4l7.8 13.5h-15.6z"/><path d="M406.4 727.6l7.8 13.5h-15.6z"/><path d="M401.7 724.9l7.8 13.5h-15.6z"/><path d="M396.9 722.5l7.8 13.5h-15.6z"/><path d="M392.0 719.8l7.8 13.5h-15.6z"/><path d="M386.8 717.1l7.8 13.5h-15.6z"/><path d="M381.6 714.5l7.8 13.5h-15.6z"/><path d="M376.1 711.6l7.8 13.5h-15.6z"/><path d="M370.5 709.0l7.8 13.5h-15.6z"/><path d="M364.6 706.3l7.8 13.5h-15.6z"/><path d="M358.5 703.6l7.8 13.5h-15.6z"/><path d="M352.2 700.8l7.8 13.5h-15.6z"/><path d="M345.6 698.2l7.8 13.5h-15.6z"/><path d="M338.8 695.4l7.8 13.5h-15.6z"/><path d="M331.6 692.6l7.8 13.5h-15.6z"/><path d="M324.1 689.6l7.8 13.5h-15.6z"/><path d="M316.3 686.8l7.8 13.5h-15.6z"/><path d="M308.0 683.9l7.8 13.5h-15.6z"/><path d="M299.3 681.2l7.8 13.5h-15.6z"/><path d="M290.1 678.6l7.8 13.5h-15.6z"/><path d="M280.4 676.0l7.8 13.5h-15.6z"/><path d="M270.0 673.5l7.8 13.5h-15.6z"/><path d="M258.9 670.7l7.8 13.5h-15.6z"/><path d="M246.9 667.8l7.8 13.5h-15.6z"/><path d="M234.1 664.5l7.8 13.5h-15.6z"/><path d="M220.0 661.1l7.8 13.5h-15.6z"/><path d="M204.7 657.6l7.8 13.5h-15.6z"/><path d="M187.7 654.4l7.8 13.5h-15.6z"/><path d="M168.8 651.1l7.8 13.5h-15.6z"/><path d="M147.3 648.0l7.8 13.5h-15.6z"/></g>
<path d="M490.5 801.3l7.8 -13.5h-15.6zM493.2 802.9l7.8 -13.5h-15.6zM495.8 804.5l7.8 -13.5h-15.6zM498.4 806.5l7.8 -13.5h-15.6zM501.0 808.4l7.8 -13.5h-15.6zM503.6 809.6l7.8 -13.5h-15.6zM506.0 811.2l7.8 -13.5h-15.6zM508.5 812.6l7.8 -13.5h-15.6zM510.9 813.9l7.8 -13.5h-15.6zM513.3 815.2l7.8 -13.5h-15.6zM515.7 817.1l7.8 -13.5h-15.6zM518.0 818.5l7.8 -13.5h-15.6zM520.3 820.1l7.8 -13.5h-15.6zM522.5 821.5l7.8 -13.5h-15.6zM524.7 823.0l7.8 -13.5h-15.6zM526.9 824.4l7.8 -13.5h-15.6zM529.1 826.0l7.8 -13.5h-15.6zM531.2 827.5l7.8 -13.5h-15.6zM533.3 829.2l7.8 -13.5h-15.6zM535.4 830.6l7.8 -13.5h-15.6zM537.5 832.2l7.8 -13.5h-15.6zM539.5 833.4l7.8 -13.5h-15.6zM541.5 835.0l7.8 -13.5h-15.6zM543.5 836.3l7.8 -13.5h-15.6zM545.4 838.2l7.8 -13.5h-15.6zM547.3 839.2l7.8 -13.5h-15.6zM549.2 840.5l7.8 -13.5h-15.6zM551.1 841.7l7.8 -13.5h-15.6zM553.0 843.2l7.8 -13.5h-15.6zM554.8 844.2l7.8 -13.5h-15.6zM556.6 845.8l7.8 -13.5h-15.6zM558.4 846.8l7.8 -13.5h-15.6zM560.2 848.2l7.8 -13.5h-15.6zM562.0 848.8l7.8 -13.5h-15.6zM563.7 849.9l7.8 -13.5h-15.6zM565.4 850.5l7.8 -13.5h-15.6zM567.1 851.7l7.8 -13.5h-15.6zM568.8 852.5l7.8 -13.5h-15.6zM570.5 853.7l7.8 -13.5h-15.6zM572.1 854.7l7.8 -13.5h-15.6zM573.8 855.6l7.8 -13.5h-15.6zM575.4 856.6l7.8 -13.5h-15.6zM577.0 857.0l7.8 -13.5h-15.6zM578.6 858.0l7.8 -13.5h-15.6zM580.2 858.7l7.8 -13.5h-15.6zM581.7 859.6l7.8 -13.5h-15.6zM583.3 860.4l7.8 -13.5h-15.6zM584.8 861.5l7.8 -13.5h-15.6zM586.3 861.9l7.8 -13.5h-15.6zM587.8 862.6l7.8 -13.5h-15.6zM589.3 863.4l7.8 -13.5h-15.6zM590.7 864.3l7.8 -13.5h-15.6zM592.2 865.0l7.8 -13.5h-15.6zM593.6 865.9l7.8 -13.5h-15.6zM595.1 865.7l7.8 -13.5h-15.6zM596.5 867.0l7.8 -13.5h-15.6zM597.9 867.8l7.8 -13.5h-15.6zM599.3 868.8l7.8 -13.5h-15.6zM600.7 869.2l7.8 -13.5h-15.6zM602.0 870.0l7.8 -13.5h-15.6zM603.4 871.2l7.8 -13.5h-15.6zM604.8 871.7l7.8 -13.5h-15.6zM606.1 872.6l7.8 -13.5h-15.6zM607.4 873.3l7.8 -13.5h-15.6zM608.7 874.4l7.8 -13.5h-15.6zM610.0 875.5l7.8 -13.5h-15.6zM611.3 876.0l7.8 -13.5h-15.6zM612.6 877.3l7.8 -13.5h-15.6zM613.9 877.4l7.8 -13.5h-15.6zM615.1 878.8l7.8 -13.5h-15.6zM616.4 879.4l7.8 -13.5h-15.6zM617.6 880.4l7.8 -13.5h-15.6zM618.9 881.4l7.8 -13.5h-15.6zM620.1 882.3l7.8 -13.5h-15.6zM621.3 883.2l7.8 -13.5h-15.6zM622.5 883.8l7.8 -13.5h-15.6zM623.7 884.2l7.8 -13.5h-15.6zM624.9 885.2l7.8 -13.5h-15.6zM626.1 885.5l7.8 -13.5h-15.6zM627.3 886.7l7.8 -13.5h-15.6zM628.4 887.4l7.8 -13.5h-15.6zM629.6 888.2l7.8 -13.5h-15.6zM630.7 888.9l7.8 -13.5h-15.6zM631.9 890.1l7.8 -13.5h-15.6zM633.0 891.1l7.8 -13.5h-15.6zM634.1 891.8l7.8 -13.5h-15.6zM635.2 892.4l7.8 -13.5h-15.6zM636.3 893.6l7.8 -13.5h-15.6zM637.4 893.8l7.8 -13.5h-15.6zM638.5 894.8l7.8 -13.5h-15.6zM639.6 895.2l7.8 -13.5h-15.6zM640.7 896.4l7.8 -13.5h-15.6zM641.7 897.1l7.8 -13.5h-15.6zM642.8 897.9l7.8 -13.5h-15.6zM643.9 898.6l7.8 -13.5h-15.6zM644.9 899.3l7.8 -13.5h-15.6zM646.0 899.9l7.8 -13.5h-15.6zM647.0 900.5l7.8 -13.5h-15.6zM648.0 901.2l7.8 -13.5h-15.6zM649.0 902.2l7.8 -13.5h-15.6zM650.1 902.3l7.8 -13.5h-15.6zM651.1 903.0l7.8 -13.5h-15.6zM652.1 904.2l7.8 -13.5h-15.6zM653.1 904.6l7.8 -13.5h-15.6zM654.1 905.2l7.8 -13.5h-15.6zM655.0 905.6l7.8 -13.5h-15.6zM656.0 906.8l7.8 -13.5h-15.6zM657.0 907.2l7.8 -13.5h-15.6zM658.0 908.3l7.8 -13.5h-15.6zM658.9 908.6l7.8 -13.5h-15.6zM659.9 909.6l7.8 -13.5h-15.6zM660.8 909.9l7.8 -13.5h-15.6zM661.8 911.7l7.8 -13.5h-15.6zM662.7 911.6l7.8 -13.5h-15.6zM663.6 912.7l7.8 -13.5h-15.6zM664.6 913.4l7.8 -13.5h-15.6zM665.5 914.2l7.8 -13.5h-15.6zM666.4 914.9l7.8 -13.5h-15.6zM667.3 915.4l7.8 -13.5h-15.6zM668.2 916.1l7.8 -13.5h-15.6zM669.1 917.0l7.8 -13.5h-15.6zM670.0 917.8l7.8 -13.5h-15.6zM670.9 918.4l7.8 -13.5h-15.6zM671.8 919.4l7.8 -13.5h-15.6zM672.7 919.7l7.8 -13.5h-15.6zM673.6 920.2l7.8 -13.5h-15.6zM674.4 921.3l7.8 -13.5h-15.6zM675.3 921.5l7.8 -13.5h-15.6zM676.2 921.5l7.8 -13.5h-15.6zM677.0 923.0l7.8 -13.5h-15.6zM677.9 923.6l7.8 -13.5h-15.6zM678.7 924.1l7.8 -13.5h-15.6zM679.6 925.1l7.8 -13.5h-15.6zM680.4 925.8l7.8 -13.5h-15.6zM681.3 926.2l7.8 -13.5h-15.6zM682.1 927.2l7.8 -13.5h-15.6zM682.9 927.7l7.8 -13.5h-15.6zM683.7 928.5l7.8 -13.5h-15.6zM684.6 929.6l7.8 -13.5h-15.6zM685.4 930.3l7.8 -13.5h-15.6zM686.2 931.6l7.8 -13.5h-15.6zM687.0 931.9l7.8 -13.5h-15.6zM687.8 931.8l7.8 -13.5h-15.6zM688.6 932.2l7.8 -13.5h-15.6zM689.4 932.9l7.8 -13.5h-15.6zM690.2 933.4l7.8 -13.5h-15.6zM691.0 933.6l7.8 -13.5h-15.6zM691.8 934.8l7.8 -13.5h-15.6zM692.5 935.2l7.8 -13.5h-15.6zM693.3 936.3l7.8 -13.5h-15.6zM694.1 936.6l7.8 -13.5h-15.6zM694.8 936.9l7.8 -13.5h-15.6zM695.6 937.6l7.8 -13.5h-15.6zM696.4 938.5l7.8 -13.5h-15.6zM697.1 939.1l7.8 -13.5h-15.6zM697.9 939.6l7.8 -13.5h-15.6zM698.6 940.4l7.8 -13.5h-15.6zM699.4 941.1l7.8 -13.5h-15.6zM700.1 941.8l7.8 -13.5h-15.6zM700.9 941.5l7.8 -13.5h-15.6zM701.6 942.5l7.8 -13.5h-15.6zM702.3 943.5l7.8 -13.5h-15.6zM703.1 944.2l7.8 -13.5h-15.6zM703.8 944.3l7.8 -13.5h-15.6zM704.5 945.5l7.8 -13.5h-15.6zM705.2 944.7l7.8 -13.5h-15.6zM706.0 946.2l7.8 -13.5h-15.6zM706.7 946.2l7.8 -13.5h-15.6zM707.4 946.7l7.8 -13.5h-15.6zM708.1 947.1l7.8 -13.5h-15.6zM708.8 947.4l7.8 -13.5h-15.6zM709.5 948.1l7.8 -13.5h-15.6zM710.2 948.7l7.8 -13.5h-15.6zM710.9 949.1l7.8 -13.5h-15.6zM711.6 950.1l7.8 -13.5h-15.6zM712.3 950.6l7.8 -13.5h-15.6zM713.0 951.5l7.8 -13.5h-15.6zM713.6 951.7l7.8 -13.5h-15.6zM714.3 952.0l7.8 -13.5h-15.6zM715.0 952.6l7.8 -13.5h-15.6zM715.7 952.8l7.8 -13.5h-15.6zM716.3 954.0l7.8 -13.5h-15.6zM717.0 954.4l7.8 -13.5h-15.6zM717.7 955.3l7.8 -13.5h-15.6zM718.3 955.5l7.8 -13.5h-15.6zM719.0 956.3l7.8 -13.5h-15.6zM719.7 956.6l7.8 -13.5h-15.6zM720.3 957.5l7.8 -13.5h-15.6zM721.0 958.6l7.8 -13.5h-15.6zM721.6 958.4l7.8 -13.5h-15.6zM722.3 959.5l7.8 -13.5h-15.6zM722.9 959.9l7.8 -13.5h-15.6zM723.6 960.1l7.8 -13.5h-15.6zM724.2 960.9l7.8 -13.5h-15.6zM724.8 961.8l7.8 -13.5h-15.6zM725.5 961.8l7.8 -13.5h-15.6zM726.1 962.2l7.8 -13.5h-15.6zM726.7 963.5l7.8 -13.5h-15.6zM727.4 964.0l7.8 -13.5h-15.6zM728.0 964.6l7.8 -13.5h-15.6zM728.6 965.4l7.8 -13.5h-15.6zM729.2 966.2l7.8 -13.5h-15.6zM729.8 966.5l7.8 -13.5h-15.6zM730.5 967.6l7.8 -13.5h-15.6zM731.1 968.3l7.8 -13.5h-15.6zM731.7 969.2l7.8 -13.5h-15.6zM732.3 969.5l7.8 -13.5h-15.6zM732.9 970.2l7.8 -13.5h-15.6zM733.5 970.1l7.8 -13.5h-15.6zM734.1 971.0l7.8 -13.5h-15.6zM735.3 971.5l7.8 -13.5h-15.6zM736.5 972.8l7.8 -13.5h-15.6zM737.7 974.0l7.8 -13.5h-15.6zM738.8 975.3l7.8 -13.5h-15.6zM740.0 976.3l7.8 -13.5h-15.6zM741.2 976.7l7.8 -13.5h-15.6zM742.3 977.9l7.8 -13.5h-15.6zM743.4 979.0l7.8 -13.5h-15.6zM744.6 980.1l7.8 -13.5h-15.6zM745.7 980.9l7.8 -13.5h-15.6zM746.8 982.5l7.8 -13.5h-15.6zM747.9 982.5l7.8 -13.5h-15.6zM749.0 983.9l7.8 -13.5h-15.6zM750.1 985.4l7.8 -13.5h-15.6zM751.2 985.9l7.8 -13.5h-15.6zM752.3 987.3l7.8 -13.5h-15.6zM753.3 987.8l7.8 -13.5h-15.6zM754.4 988.9l7.8 -13.5h-15.6zM755.5 989.6l7.8 -13.5h-15.6zM756.5 990.2l7.8 -13.5h-15.6zM757.5 991.3l7.8 -13.5h-15.6zM758.6 992.2l7.8 -13.5h-15.6zM759.6 993.1l7.8 -13.5h-15.6zM760.6 994.1l7.8 -13.5h-15.6zM761.6 995.3l7.8 -13.5h-15.6zM762.7 995.5l7.8 -13.5h-15.6zM763.7 995.9l7.8 -13.5h-15.6zM764.7 996.2l7.8 -13.5h-15.6zM765.6 996.7l7.8 -13.5h-15.6zM766.6 996.1l7.8 -13.5h-15.6zM767.6 998.0l7.8 -13.5h-15.6zM768.6 998.6l7.8 -13.5h-15.6zM769.6 999.7l7.8 -13.5h-15.6zM770.5 1000.1l7.8 -13.5h-15.6zM771.5 1000.8l7.8 -13.5h-15.6zM772.4 1001.6l7.8 -13.5h-15.6zM773.4 1003.0l7.8 -13.5h-15.6zM774.3 1003.4l7.8 -13.5h-15.6zM775.2 1003.6l7.8 -13.5h-15.6zM776.2 1004.6l7.8 -13.5h-15.6zM777.1 1005.2l7.8 -13.5h-15.6zM778.0 1005.3l7.8 -13.5h-15.6zM778.9 1006.7l7.8 -13.5h-15.6zM779.8 1006.8l7.8 -13.5h-15.6zM780.7 1008.2l7.8 -13.5h-15.6zM781.6 1008.2l7.8 -13.5h-15.6zM782.5 1008.6l7.8 -13.5h-15.6zM783.4 1009.0l7.8 -13.5h-15.6zM784.3 1010.1l7.8 -13.5h-15.6zM785.2 1010.1l7.8 -13.5h-15.6zM786.0 1010.8l7.8 -13.5h-15.6zM786.9 1011.4l7.8 -13.5h-15.6zM787.8 1011.8l7.8 -13.5h-15.6zM788.6 1012.8l7.8 -13.5h-15.6zM789.5 1012.6l7.8 -13.5h-15.6zM790.3 1012.6l7.8 -13.5h-15.6zM791.2 1013.3l7.8 -13.5h-15.6zM792.0 1014.3l7.8 -13.5h-15.6zM792.8 1015.2l7.8 -13.5h-15.6zM793.7 1015.8l7.8 -13.5h-15.6zM794.5 1015.9l7.8 -13.5h-15.6zM795.3 1016.4l7.8 -13.5h-15.6zM796.2 1017.9l7.8 -13.5h-15.6zM797.0 1018.0l7.8 -13.5h-15.6zM797.8 1017.4l7.8 -13.5h-15.6zM798.6 1018.1l7.8 -13.5h-15.6zM799.4 1018.5l7.8 -13.5h-15.6zM800.2 1018.5l7.8 -13.5h-15.6zM801.0 1019.3l7.8 -13.5h-15.6zM801.8 1019.5l7.8 -13.5h-15.6zM802.6 1019.7l7.8 -13.5h-15.6zM803.3 1019.4l7.8 -13.5h-15.6zM804.1 1020.1l7.8 -13.5h-15.6zM804.9 1019.7l7.8 -13.5h-15.6zM805.7 1020.2l7.8 -13.5h-15.6zM806.4 1020.5l7.8 -13.5h-15.6zM807.2 1020.1l7.8 -13.5h-15.6zM808.0 1020.6l7.8 -13.5h-15.6zM808.7 1021.6l7.8 -13.5h-15.6zM809.5 1021.2l7.8 -13.5h-15.6zM810.2 1021.2l7.8 -13.5h-15.6zM811.0 1020.9l7.8 -13.5h-15.6zM811.7 1021.4l7.8 -13.5h-15.6zM812.5 1021.7l7.8 -13.5h-15.6zM813.2 1021.8l7.8 -13.5h-15.6zM813.9 1022.4l7.8 -13.5h-15.6zM814.7 1022.8l7.8 -13.5h-15.6zM815.4 1023.2l7.8 -13.5h-15.6zM816.1 1022.5l7.8 -13.5h-15.6zM816.8 1023.8l7.8 -13.5h-15.6zM817.5 1023.4l7.8 -13.5h-15.6zM818.3 1024.2l7.8 -13.5h-15.6zM819.0 1025.2l7.8 -13.5h-15.6zM819.7 1024.6l7.8 -13.5h-15.6zM820.4 1025.0l7.8 -13.5h-15.6zM821.1 1026.1l7.8 -13.5h-15.6zM821.8 1026.3l7.8 -13.5h-15.6zM822.5 1026.3l7.8 -13.5h-15.6zM823.2 1026.8l7.8 -13.5h-15.6zM823.9 1026.2l7.8 -13.5h-15.6zM824.5 1026.5l7.8 -13.5h-15.6zM825.2 1028.0l7.8 -13.5h-15.6zM825.9 1028.1l7.8 -13.5h-15.6zM826.6 1028.7l7.8 -13.5h-15.6zM827.3 1028.8l7.8 -13.5h-15.6zM827.9 1029.0l7.8 -13.5h-15.6zM828.6 1029.2l7.8 -13.5h-15.6zM829.3 1029.3l7.8 -13.5h-15.6zM829.9 1030.0l7.8 -13.5h-15.6zM830.6 1029.8l7.8 -13.5h-15.6zM831.3 1030.6l7.8 -13.5h-15.6zM831.9 1029.9l7.8 -13.5h-15.6zM832.6 1031.0l7.8 -13.5h-15.6zM833.2 1030.7l7.8 -13.5h-15.6zM833.9 1031.2l7.8 -13.5h-15.6zM834.5 1030.1l7.8 -13.5h-15.6zM835.2 1030.5l7.8 -13.5h-15.6zM835.8 1030.7l7.8 -13.5h-15.6zM836.4 1031.4l7.8 -13.5h-15.6zM837.1 1031.8l7.8 -13.5h-15.6zM837.7 1031.2l7.8 -13.5h-15.6zM838.3 1031.0l7.8 -13.5h-15.6zM839.0 1031.4l7.8 -13.5h-15.6zM839.6 1031.4l7.8 -13.5h-15.6zM840.2 1032.5l7.8 -13.5h-15.6zM840.8 1031.7l7.8 -13.5h-15.6zM841.4 1032.0l7.8 -13.5h-15.6zM842.1 1031.0l7.8 -13.5h-15.6zM842.7 1031.5l7.8 -13.5h-15.6zM843.3 1031.6l7.8 -13.5h-15.6zM843.9 1032.8l7.8 -13.5h-15.6zM844.5 1032.7l7.8 -13.5h-15.6zM845.1 1032.6l7.8 -13.5h-15.6zM845.7 1034.0l7.8 -13.5h-15.6zM846.6 1032.9l7.8 -13.5h-15.6zM847.5 1033.8l7.8 -13.5h-15.6zM848.4 1034.9l7.8 -13.5h-15.6zM849.3 1035.1l7.8 -13.5h-15.6zM850.1 1035.1l7.8 -13.5h-15.6zM851.0 1035.6l7.8 -13.5h-15.6zM851.9 1036.5l7.8 -13.5h-15.6zM852.8 1037.2l7.8 -13.5h-15.6zM853.6 1036.9l7.8 -13.5h-15.6zM854.5 1036.8l7.8 -13.5h-15.6zM855.3 1038.0l7.8 -13.5h-15.6zM856.2 1037.6l7.8 -13.5h-15.6zM857.0 1037.3l7.8 -13.5h-15.6zM857.8 1037.0l7.8 -13.5h-15.6zM858.7 1037.8l7.8 -13.5h-15.6zM859.5 1038.0l7.8 -13.5h-15.6zM860.3 1037.2l7.8 -13.5h-15.6zM861.2 1037.1l7.8 -13.5h-15.6zM862.0 1038.2l7.8 -13.5h-15.6zM862.8 1037.6l7.8 -13.5h-15.6zM863.6 1037.9l7.8 -13.5h-15.6zM864.4 1036.7l7.8 -13.5h-15.6zM865.2 1036.9l7.8 -13.5h-15.6zM866.0 1037.7l7.8 -13.5h-15.6zM866.8 1038.0l7.8 -13.5h-15.6zM867.6 1037.4l7.8 -13.5h-15.6zM868.4 1039.0l7.8 -13.5h-15.6zM869.1 1039.0l7.8 -13.5h-15.6zM869.9 1039.1l7.8 -13.5h-15.6zM870.7 1039.4l7.8 -13.5h-15.6zM871.5 1039.7l7.8 -13.5h-15.6zM872.2 1039.7l7.8 -13.5h-15.6zM873.0 1039.2l7.8 -13.5h-15.6zM873.7 1040.2l7.8 -13.5h-15.6zM874.5 1039.2l7.8 -13.5h-15.6zM875.3 1039.1l7.8 -13.5h-15.6zM876.0 1039.7l7.8 -13.5h-15.6zM876.7 1039.3l7.8 -13.5h-15.6zM877.5 1039.2l7.8 -13.5h-15.6zM878.2 1039.9l7.8 -13.5h-15.6zM879.0 1039.4l7.8 -13.5h-15.6zM879.7 1039.8l7.8 -13.5h-15.6zM880.4 1040.9l7.8 -13.5h-15.6zM881.1 1040.9l7.8 -13.5h-15.6zM881.9 1041.8l7.8 -13.5h-15.6zM882.6 1043.0l7.8 -13.5h-15.6zM883.3 1042.8l7.8 -13.5h-15.6zM884.0 1044.3l7.8 -13.5h-15.6zM884.7 1043.3l7.8 -13.5h-15.6zM885.4 1043.8l7.8 -13.5h-15.6zM886.1 1043.7l7.8 -13.5h-15.6zM886.8 1043.6l7.8 -13.5h-15.6zM887.5 1043.6l7.8 -13.5h-15.6zM888.2 1043.9l7.8 -13.5h-15.6zM888.9 1044.3l7.8 -13.5h-15.6zM889.6 1044.3l7.8 -13.5h-15.6zM890.3 1043.5l7.8 -13.5h-15.6zM891.0 1044.4l7.8 -13.5h-15.6zM891.6 1044.8l7.8 -13.5h-15.6zM892.3 1045.6l7.8 -13.5h-15.6zM893.0 1045.6l7.8 -13.5h-15.6zM893.7 1045.8l7.8 -13.5h-15.6zM894.3 1046.1l7.8 -13.5h-15.6zM895.0 1045.8l7.8 -13.5h-15.6zM895.7 1045.6l7.8 -13.5h-15.6zM896.3 1045.8l7.8 -13.5h-15.6zM897.0 1045.5l7.8 -13.5h-15.6zM897.6 1045.1l7.8 -13.5h-15.6zM898.3 1044.8l7.8 -13.5h-15.6zM898.9 1044.9l7.8 -13.5h-15.6zM899.6 1044.6l7.8 -13.5h-15.6zM900.2 1043.5l7.8 -13.5h-15.6zM900.9 1043.9l7.8 -13.5h-15.6zM901.5 1042.3l7.8 -13.5h-15.6zM902.1 1043.9l7.8 -13.5h-15.6zM902.8 1044.4l7.8 -13.5h-15.6zM903.4 1044.4l7.8 -13.5h-15.6zM904.0 1044.2l7.8 -13.5h-15.6zM904.6 1043.8l7.8 -13.5h-15.6zM905.3 1043.9l7.8 -13.5h-15.6zM905.9 1044.5l7.8 -13.5h-15.6zM906.5 1043.6l7.8 -13.5h-15.6zM907.1 1045.1l7.8 -13.5h-15.6zM907.7 1046.3l7.8 -13.5h-15.6zM908.4 1044.5l7.8 -13.5h-15.6zM909.0 1044.3l7.8 -13.5h-15.6zM909.6 1045.0l7.8 -13.5h-15.6zM910.2 1045.6l7.8 -13.5h-15.6zM910.8 1044.3l7.8 -13.5h-15.6zM911.4 1045.2l7.8 -13.5h-15.6zM912.2 1045.5l7.8 -13.5h-15.6zM913.0 1045.8l7.8 -13.5h-15.6zM913.8 1045.0l7.8 -13.5h-15.6zM914.5 1045.2l7.8 -13.5h-15.6zM915.3 1045.5l7.8 -13.5h-15.6zM916.1 1046.0l7.8 -13.5h-15.6zM916.9 1045.6l7.8 -13.5h-15.6zM917.6 1045.6l7.8 -13.5h-15.6zM918.4 1045.7l7.8 -13.5h-15.6zM919.2 1045.1l7.8 -13.5h-15.6zM919.9 1047.4l7.8 -13.5h-15.6zM920.7 1047.3l7.8 -13.5h-15.6zM921.4 1046.6l7.8 -13.5h-15.6zM922.2 1047.4l7.8 -13.5h-15.6zM922.9 1049.0l7.8 -13.5h-15.6zM923.7 1048.2l7.8 -13.5h-15.6zM924.4 1049.2l7.8 -13.5h-15.6zM925.2 1048.6l7.8 -13.5h-15.6zM925.9 1048.6l7.8 -13.5h-15.6zM926.6 1047.3l7.8 -13.5h-15.6zM927.3 1047.2l7.8 -13.5h-15.6zM928.1 1047.2l7.8 -13.5h-15.6zM928.8 1046.8l7.8 -13.5h-15.6zM929.5 1046.2l7.8 -13.5h-15.6zM930.2 1046.6l7.8 -13.5h-15.6zM930.9 1045.6l7.8 -13.5h-15.6zM931.6 1046.8l7.8 -13.5h-15.6zM932.3 1046.5l7.8 -13.5h-15.6zM933.0 1045.2l7.8 -13.5h-15.6zM933.7 1045.2l7.8 -13.5h-15.6zM934.4 1045.7l7.8 -13.5h-15.6zM935.1 1046.9l7.8 -13.5h-15.6zM935.8 1046.2l7.8 -13.5h-15.6zM936.5 1045.3l7.8 -13.5h-15.6zM937.2 1044.5l7.8 -13.5h-15.6zM937.8 1044.5l7.8 -13.5h-15.6zM938.5 1043.6l7.8 -13.5h-15.6zM939.2 1045.0l7.8 -13.5h-15.6zM939.9 1044.8l7.8 -13.5h-15.6zM940.5 1044.0l7.8 -13.5h-15.6zM941.2 1044.2l7.8 -13.5h-15.6zM941.9 1045.6l7.8 -13.5h-15.6zM942.5 1045.0l7.8 -13.5h-15.6zM942.8 1044.9l7.8 -13.5h-15.6z" fill="#ffa500" stroke="#ffa500" stroke-width="1.8" stroke-linejoin="miter"/>
<path d="M942.8 1044.9l7.8 -13.5h-15.6z" fill="url(#po4)" stroke="#ffa500" stroke-width="1.8" clip-path="url(#clipEnd)"/>
<g fill="url(#po4)" stroke="#ffa500" stroke-width="1.8"><path d="M487.7 799.7l7.8 -13.5h-15.6z"/><path d="M484.9 798.0l7.8 -13.5h-15.6z"/><path d="M482.1 796.4l7.8 -13.5h-15.6z"/><path d="M479.2 794.5l7.8 -13.5h-15.6z"/><path d="M476.2 792.4l7.8 -13.5h-15.6z"/><path d="M473.2 790.7l7.8 -13.5h-15.6z"/><path d="M470.1 789.0l7.8 -13.5h-15.6z"/><path d="M467.0 787.1l7.8 -13.5h-15.6z"/><path d="M463.8 785.0l7.8 -13.5h-15.6z"/><path d="M460.6 782.8l7.8 -13.5h-15.6z"/><path d="M457.2 780.8l7.8 -13.5h-15.6z"/><path d="M453.8 778.7l7.8 -13.5h-15.6z"/><path d="M450.4 776.8l7.8 -13.5h-15.6z"/><path d="M446.8 774.3l7.8 -13.5h-15.6z"/><path d="M443.2 772.1l7.8 -13.5h-15.6z"/><path d="M439.5 769.9l7.8 -13.5h-15.6z"/><path d="M435.7 767.4l7.8 -13.5h-15.6z"/><path d="M431.9 764.9l7.8 -13.5h-15.6z"/><path d="M427.9 762.4l7.8 -13.5h-15.6z"/><path d="M423.8 760.1l7.8 -13.5h-15.6z"/><path d="M419.6 757.3l7.8 -13.5h-15.6z"/><path d="M415.3 754.8l7.8 -13.5h-15.6z"/><path d="M410.9 751.9l7.8 -13.5h-15.6z"/><path d="M406.4 749.0l7.8 -13.5h-15.6z"/><path d="M401.7 746.3l7.8 -13.5h-15.6z"/><path d="M396.9 743.7l7.8 -13.5h-15.6z"/><path d="M392.0 741.0l7.8 -13.5h-15.6z"/><path d="M386.8 738.1l7.8 -13.5h-15.6z"/><path d="M381.6 735.3l7.8 -13.5h-15.6z"/><path d="M376.1 732.3l7.8 -13.5h-15.6z"/><path d="M370.5 729.5l7.8 -13.5h-15.6z"/><path d="M364.6 726.5l7.8 -13.5h-15.6z"/><path d="M358.5 723.6l7.8 -13.5h-15.6z"/><path d="M352.2 720.6l7.8 -13.5h-15.6z"/><path d="M345.6 717.7l7.8 -13.5h-15.6z"/><path d="M338.8 714.6l7.8 -13.5h-15.6z"/><path d="M331.6 711.6l7.8 -13.5h-15.6z"/><path d="M324.1 708.5l7.8 -13.5h-15.6z"/><path d="M316.3 705.4l7.8 -13.5h-15.6z"/><path d="M308.0 702.5l7.8 -13.5h-15.6z"/><path d="M299.3 699.7l7.8 -13.5h-15.6z"/><path d="M290.1 697.0l7.8 -13.5h-15.6z"/><path d="M280.4 694.4l7.8 -13.5h-15.6z"/><path d="M270.0 692.0l7.8 -13.5h-15.6z"/><path d="M258.9 689.3l7.8 -13.5h-15.6z"/><path d="M246.9 686.4l7.8 -13.5h-15.6z"/><path d="M234.1 683.0l7.8 -13.5h-15.6z"/><path d="M220.0 679.3l7.8 -13.5h-15.6z"/><path d="M204.7 675.6l7.8 -13.5h-15.6z"/><path d="M187.7 672.3l7.8 -13.5h-15.6z"/><path d="M168.8 669.0l7.8 -13.5h-15.6z"/><path d="M147.3 666.0l7.8 -13.5h-15.6z"/></g>
<path d="M401.5 736.4L880.9 996.4" fill="none" stroke="#000" stroke-width="3.1" stroke-dasharray="15.75 9.88"/>
<path d="M147.0 498.1v-28M147.0 1.0v28M412.3 498.1v-28M412.3 1.0v28M677.6 498.1v-28M677.6 1.0v28M942.9 498.1v-28M942.9 1.0v28M226.9 498.1v-14M226.9 1.0v14M273.6 498.1v-14M273.6 1.0v14M306.7 498.1v-14M306.7 1.0v14M332.4 498.1v-14M332.4 1.0v14M353.4 498.1v-14M353.4 1.0v14M371.2 498.1v-14M371.2 1.0v14M386.6 498.1v-14M386.6 1.0v14M400.2 498.1v-14M400.2 1.0v14M492.2 498.1v-14M492.2 1.0v14M538.9 498.1v-14M538.9 1.0v14M572.0 498.1v-14M572.0 1.0v14M597.7 498.1v-14M597.7 1.0v14M618.7 498.1v-14M618.7 1.0v14M636.5 498.1v-14M636.5 1.0v14M651.9 498.1v-14M651.9 1.0v14M665.5 498.1v-14M665.5 1.0v14M757.5 498.1v-14M757.5 1.0v14M804.2 498.1v-14M804.2 1.0v14M837.3 498.1v-14M837.3 1.0v14M863.0 498.1v-14M863.0 1.0v14M884.0 498.1v-14M884.0 1.0v14M901.8 498.1v-14M901.8 1.0v14M917.2 498.1v-14M917.2 1.0v14M930.8 498.1v-14M930.8 1.0v14M147.0 426.2h28M943.0 426.2h-28M147.0 187.2h28M943.0 187.2h-28M147.0 479.2h14M943.0 479.2h-14M147.0 463.2h14M943.0 463.2h-14M147.0 449.4h14M943.0 449.4h-14M147.0 437.1h14M943.0 437.1h-14M147.0 354.3h14M943.0 354.3h-14M147.0 312.2h14M943.0 312.2h-14M147.0 282.3h14M943.0 282.3h-14M147.0 259.1h14M943.0 259.1h-14M147.0 240.2h14M943.0 240.2h-14M147.0 224.2h14M943.0 224.2h-14M147.0 210.4h14M943.0 210.4h-14M147.0 198.1h14M943.0 198.1h-14M147.0 115.3h14M943.0 115.3h-14M147.0 73.2h14M943.0 73.2h-14M147.0 43.3h14M943.0 43.3h-14M147.0 20.1h14M943.0 20.1h-14" fill="none" stroke="#000" stroke-width="2" stroke-linecap="round"/><rect x="147.0" y="1.0" width="796.0" height="497.1" fill="none" stroke="#000" stroke-width="2.1" stroke-linejoin="round"/>
<path d="M204.7 1152.0v-28M204.7 654.9v28M575.4 1152.0v-28M575.4 654.9v28M168.8 1152.0v-14M168.8 654.9v14M187.7 1152.0v-14M187.7 654.9v14M316.3 1152.0v-14M316.3 654.9v14M381.6 1152.0v-14M381.6 654.9v14M427.9 1152.0v-14M427.9 654.9v14M463.8 1152.0v-14M463.8 654.9v14M493.2 1152.0v-14M493.2 654.9v14M518.0 1152.0v-14M518.0 654.9v14M539.5 1152.0v-14M539.5 654.9v14M558.4 1152.0v-14M558.4 654.9v14M687.0 1152.0v-14M687.0 654.9v14M752.3 1152.0v-14M752.3 654.9v14M798.6 1152.0v-14M798.6 654.9v14M834.5 1152.0v-14M834.5 654.9v14M863.9 1152.0v-14M863.9 654.9v14M888.7 1152.0v-14M888.7 654.9v14M910.2 1152.0v-14M910.2 654.9v14M929.1 1152.0v-14M929.1 654.9v14M147.0 906.7h28M943.0 906.7h-28M147.0 1117.2h14M943.0 1117.2h-14M147.0 1064.1h14M943.0 1064.1h-14M147.0 1026.5h14M943.0 1026.5h-14M147.0 997.3h14M943.0 997.3h-14M147.0 973.5h14M943.0 973.5h-14M147.0 953.3h14M943.0 953.3h-14M147.0 935.9h14M943.0 935.9h-14M147.0 920.5h14M943.0 920.5h-14M147.0 816.1h14M943.0 816.1h-14M147.0 763.0h14M943.0 763.0h-14M147.0 725.4h14M943.0 725.4h-14M147.0 696.2h14M943.0 696.2h-14M147.0 672.4h14M943.0 672.4h-14" fill="none" stroke="#000" stroke-width="2" stroke-linecap="round"/><rect x="147.0" y="654.9" width="796.0" height="497.1" fill="none" stroke="#000" stroke-width="2.1" stroke-linejoin="round"/>
<path d="M1247.5 938.7v-20M1381.6 938.7v-20M1515.6 938.7v-20M1158.1 938.7v-7.5M1202.8 938.7v-7.5M1292.2 938.7v-7.5M1336.9 938.7v-7.5M1426.3 938.7v-7.5M1470.9 938.7v-7.5M1560.3 938.7v-7.5M1113.3 545.2h28M1582.4 545.2h-28M1113.3 791.1h28M1582.4 791.1h-28M1113.3 889.5h15M1582.4 889.5h-15M1113.3 840.3h15M1582.4 840.3h-15M1113.3 741.9h15M1582.4 741.9h-15M1113.3 692.7h15M1582.4 692.7h-15M1113.3 643.6h15M1582.4 643.6h-15M1113.3 594.4h15M1582.4 594.4h-15M1113.3 496.0h15M1582.4 496.0h-15M1113.3 446.8h15M1582.4 446.8h-15M1113.3 397.7h15M1582.4 397.7h-15M1113.3 348.5h15M1582.4 348.5h-15" fill="none" stroke="#000" stroke-width="2" stroke-linecap="round"/><rect x="1113.3" y="299.4" width="469.1" height="639.3" fill="none" stroke="#000" stroke-width="2.1" stroke-linejoin="round"/>
<path d="M189.8 60.2a8.15 8.15 0 1 0 16.30 0a8.15 8.15 0 1 0 -16.30 0z" fill="#000000"/>
<path d="M190.8 100.8h14.4v14.4h-14.4z" fill="#ff0000"/>
<path d="M198.0 147.4l8.6 8.6 -8.6 8.6 -8.6 -8.6z" fill="#00ff00"/>
<path d="M198.0 193.4l8.95 15.5h-17.9z" fill="#0000ff"/>
<path d="M198.0 261.7l8.95 -15.5h-17.9z" fill="#ffa500"/>
<path d="M191.0 899.2a7.3 7.3 0 1 0 14.60 0a7.3 7.3 0 1 0 -14.60 0z" fill="url(#po0)" stroke="#000000" stroke-width="1.8"/>
<path d="M192.0 940.5h12.6v12.6h-12.6z" fill="url(#po1)" stroke="#ff0000" stroke-width="1.8"/>
<path d="M198.3 986.6l7.6 7.6 -7.6 7.6 -7.6 -7.6z" fill="url(#po2)" stroke="#008b00" stroke-width="1.8"/>
<path d="M198.3 1033.2l7.8 13.5h-15.6z" fill="url(#po3)" stroke="#0000ff" stroke-width="1.8"/>
<path d="M198.3 1098.2l7.8 -13.5h-15.6z" fill="url(#po4)" stroke="#ffa500" stroke-width="1.8"/>
<path d="M1113.4 339.5L1146.9 315.7L1180.4 309.8L1214.0 302.7L1247.5 305.3L1314.5 322.1L1448.6 564.9" fill="none" stroke="#ff0000" stroke-width="3.5" stroke-dasharray="3.5 9.4"/>
<path d="M1247.5 907.5L1314.5 421.4L1381.6 312.0L1415.1 309.0L1448.6 309.0L1482.1 312.0L1515.6 326.5L1582.7 370.4" fill="none" stroke="#000" stroke-width="3.5" stroke-dasharray="3.5 9.4"/>
<path d="M1104.9 331.0h17.0v17.0h-17.0zM1138.4 307.2h17.0v17.0h-17.0zM1171.9 301.3h17.0v17.0h-17.0zM1205.5 294.2h17.0v17.0h-17.0zM1239.0 296.8h17.0v17.0h-17.0zM1306.0 313.6h17.0v17.0h-17.0zM1440.1 556.4h17.0v17.0h-17.0z" fill="#ff0000"/>
<path d="M1237.9 907.5a9.6 9.6 0 1 0 19.20 0a9.6 9.6 0 1 0 -19.20 0zM1304.9 421.4a9.6 9.6 0 1 0 19.20 0a9.6 9.6 0 1 0 -19.20 0zM1372.0 312.0a9.6 9.6 0 1 0 19.20 0a9.6 9.6 0 1 0 -19.20 0zM1405.5 309.0a9.6 9.6 0 1 0 19.20 0a9.6 9.6 0 1 0 -19.20 0zM1439.0 309.0a9.6 9.6 0 1 0 19.20 0a9.6 9.6 0 1 0 -19.20 0zM1472.5 312.0a9.6 9.6 0 1 0 19.20 0a9.6 9.6 0 1 0 -19.20 0zM1506.0 326.5a9.6 9.6 0 1 0 19.20 0a9.6 9.6 0 1 0 -19.20 0zM1573.1 370.4a9.6 9.6 0 1 0 19.20 0a9.6 9.6 0 1 0 -19.20 0z" fill="#000"/>
<path d="M1427.2 378.6h16.8v16.8h-16.8z" fill="#ff0000"/>
<path d="M1426.0 434.1a9.6 9.6 0 1 0 19.20 0a9.6 9.6 0 1 0 -19.20 0z" fill="#000"/>
<g fill="#000"><text x="114.0" y="566.8" font-size="51">10<tspan dy="-29.5" font-size="35">0</tspan></text><text x="379.3" y="566.8" font-size="51">10<tspan dy="-29.5" font-size="35">1</tspan></text><text x="644.6" y="566.8" font-size="51">10<tspan dy="-29.5" font-size="35">2</tspan></text><text x="909.9" y="566.8" font-size="51">10<tspan dy="-29.5" font-size="35">3</tspan></text><text x="58.7" y="214.2" font-size="51">10<tspan dx="-2.2" dy="-29.5" font-size="35">-</tspan><tspan dx="-1" font-size="35">1</tspan></text><text x="55.5" y="453.3" font-size="51">10<tspan dx="-2.2" dy="-29.5" font-size="35">-</tspan><tspan dx="1" font-size="35">2</tspan></text><text x="173.2" y="1220.8" font-size="51">10<tspan dy="-29.5" font-size="35">1</tspan></text><text x="543.9" y="1220.8" font-size="51">10<tspan dy="-29.5" font-size="35">2</tspan></text><text x="58.3" y="933.6" font-size="51">10<tspan dx="-2.2" dy="-29.5" font-size="35">-</tspan><tspan dx="-1" font-size="35">1</tspan></text><text x="433.1" y="615.5" font-size="49.3">time [MCs]</text><text x="433.1" y="1268.6" font-size="49.3">time [MCs]</text><text x="-1.5" y="293.3" font-size="63" stroke="#000" stroke-width="0.7">&#934;</text><text x="44.8" y="293.3" font-size="60">(t)</text><text x="-1.5" y="890.5" font-size="63" stroke="#000" stroke-width="0.7">&#934;</text><text x="44.8" y="890.5" font-size="60">(t)</text><text x="843.6" y="468.4" font-size="56">(<tspan font-size="60" dy="2.3">a</tspan><tspan dx="2.4" dy="-2.3">)</tspan></text><text x="843.6" y="724.2" font-size="56">(<tspan font-size="59" dy="2.2">b</tspan><tspan dx="1.8" dy="-2.2">)</tspan></text><text x="1481.1" y="901.8" font-size="56">(<tspan font-size="61">c</tspan><tspan dx="2.5">)</tspan></text><text x="226.3" y="76.6" font-size="48.5">0.644</text><text x="226.3" y="124.4" font-size="48.5">0.645</text><text x="226.3" y="172.4" font-size="48.5">0.6455</text><text x="226.3" y="220.1" font-size="48.5">0.647</text><text x="226.3" y="267.8" font-size="48.5">0.649</text><text x="226.6" y="916.0" font-size="48.5">0.647</text><text x="226.6" y="963.6" font-size="48.5">0.648</text><text x="226.6" y="1011.0" font-size="48.5">0.649</text><text x="226.6" y="1059.0" font-size="48.5">0.650</text><text x="226.6" y="1106.0" font-size="48.5">0.651</text><text x="1100.0" y="314.1" font-size="42" text-anchor="end">1.00</text><text x="1100.0" y="560.0" font-size="42" text-anchor="end">0.95</text><text x="1100.0" y="805.9" font-size="42" text-anchor="end">0.90</text><text x="1113.4" y="980.7" font-size="40" text-anchor="middle">0.644</text><text x="1247.5" y="980.7" font-size="40" text-anchor="middle">0.646</text><text x="1381.6" y="980.7" font-size="40" text-anchor="middle">0.648</text><text x="1515.6" y="980.7" font-size="40" text-anchor="middle">0.650</text><text transform="translate(1331.7 1025.6) scale(1.1 1)" font-size="64">&#951;</text><text transform="translate(1042.0 506.8) scale(1.12 1)" font-size="66" font-style="italic">r</text><text x="1457.0" y="403.1" font-size="49">DIC</text><text x="1457.0" y="450.1" font-size="49">OIC</text></g>
</svg></body></html>
